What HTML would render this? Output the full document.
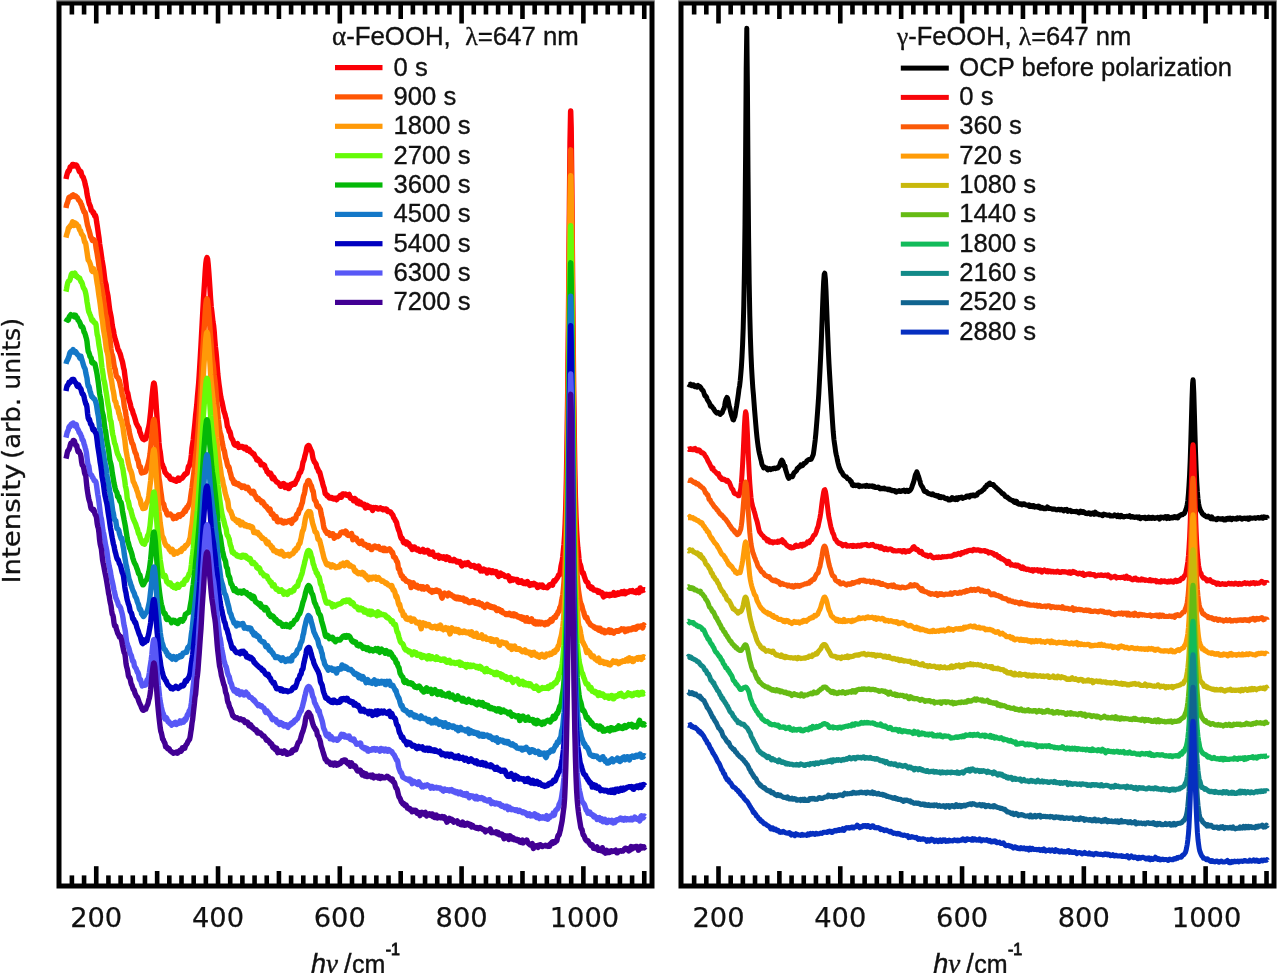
<!DOCTYPE html>
<html lang="en"><head><meta charset="utf-8"><title>Raman spectra of FeOOH</title>
<style>html,body{margin:0;padding:0;background:#fff;overflow:hidden}svg{display:block}</style></head>
<body>
<svg width="1280" height="973" viewBox="0 0 1280 973">
<rect width="1280" height="973" fill="#fff"/>
<g fill="none" stroke-linejoin="round" stroke-linecap="butt" stroke-width="5.4">
<path stroke="#fb0006" d="M66.0,179.0 66.6,176.1 67.2,173.9 67.8,172.0 68.4,170.8 69.0,171.0 69.6,169.4 70.2,166.9 70.8,166.6 71.4,166.4 72.0,165.5 72.6,164.4 73.2,164.5 73.8,165.9 74.4,165.3 75.0,164.9 75.6,165.0 76.2,164.9 76.8,165.6 77.4,167.0 78.0,168.1 78.6,169.3 79.2,171.2 79.8,171.9 80.4,171.1 81.0,171.9 81.6,174.7 82.2,176.4 82.8,176.7 83.4,177.7 84.0,179.7 84.6,181.2 85.2,184.5 85.8,186.8 86.4,189.1 87.0,193.8 87.6,196.9 88.2,199.3 88.8,202.1 89.4,204.3 90.0,205.3 90.6,207.1 91.2,210.4 91.8,210.5 92.4,211.1 93.0,212.9 93.6,212.4 94.2,214.3 94.8,216.1 95.4,215.3 96.0,217.2 96.6,221.8 97.2,225.5 97.8,229.6 98.4,233.8 99.0,237.9 99.6,243.6 100.2,247.5 100.8,251.2 101.4,255.6 102.0,259.7 102.6,263.2 103.2,266.6 103.8,271.2 104.4,276.1 105.0,280.8 105.6,282.9 106.2,285.2 106.8,290.3 107.4,293.1 108.0,296.0 108.6,301.1 109.2,306.1 109.8,310.5 110.4,313.2 111.0,316.3 111.6,320.0 112.2,325.0 112.8,328.3 113.4,330.3 114.0,334.0 114.6,337.0 115.2,339.2 115.8,340.9 116.4,343.0 117.0,345.2 117.6,347.7 118.2,349.9 118.8,350.6 119.4,352.1 120.0,353.4 120.6,355.4 121.2,357.7 121.8,359.7 122.4,361.6 123.0,364.6 123.6,367.9 124.2,370.0 124.8,374.8 125.4,379.5 126.0,383.7 126.6,389.5 127.2,392.2 127.8,393.1 128.4,396.5 129.0,399.7 129.6,401.7 130.2,403.5 130.8,406.3 131.4,408.8 132.0,409.6 132.6,411.1 133.2,413.7 133.8,414.9 134.4,416.8 135.0,418.7 135.6,420.8 136.2,423.2 136.8,424.3 137.4,425.4 138.0,426.8 138.6,427.5 139.2,428.5 139.8,431.9 140.4,433.0 141.0,434.9 141.6,436.6 142.2,437.6 142.8,439.0 143.4,439.2 144.0,439.7 144.6,437.6 145.2,437.7 145.8,438.8 146.4,436.7 147.0,433.9 147.6,431.9 148.2,428.9 148.8,426.7 149.4,423.2 150.0,417.9 150.6,412.3 151.2,405.7 151.8,398.6 152.4,392.7 153.0,387.2 153.6,383.5 154.0,383.0 154.2,383.4 154.8,387.0 155.4,393.8 156.0,402.5 156.6,411.7 157.2,420.3 157.8,427.7 158.4,434.6 159.0,443.0 159.6,448.7 160.2,451.7 160.8,456.6 161.4,461.9 162.0,463.7 162.6,464.9 163.2,467.3 163.8,467.7 164.4,470.0 165.0,472.4 165.6,473.0 166.2,473.5 166.8,474.7 167.4,475.6 168.0,475.9 168.6,476.2 169.2,476.0 169.8,478.2 170.4,479.2 171.0,478.8 171.6,479.5 172.2,479.3 172.8,479.2 173.4,480.1 174.0,480.4 174.6,479.9 175.2,480.1 175.8,481.0 176.4,481.3 177.0,480.6 177.6,479.6 178.2,478.1 178.8,478.9 179.4,480.3 180.0,479.2 180.6,478.5 181.2,478.7 181.8,478.4 182.4,478.0 183.0,476.6 183.6,476.4 184.2,475.1 184.8,474.0 185.4,474.4 186.0,473.5 186.6,473.6 187.2,473.0 187.8,469.8 188.4,466.4 189.0,466.5 189.6,465.2 190.2,461.9 190.8,459.8 191.4,454.5 192.0,447.8 192.6,444.0 193.2,440.1 193.8,434.1 194.4,428.4 195.0,422.2 195.6,415.4 196.2,410.3 196.8,404.6 197.4,396.9 198.0,390.6 198.6,383.8 199.2,375.3 199.8,365.5 200.4,355.1 201.0,344.6 201.6,333.4 202.2,322.5 202.8,311.3 203.4,300.5 204.0,290.7 204.6,281.5 205.2,271.4 205.8,263.7 206.4,259.3 207.0,257.6 207.0,257.6 207.6,259.1 208.2,264.4 208.8,272.0 209.4,280.4 210.0,289.4 210.6,298.8 211.2,306.8 211.8,311.4 212.4,316.8 213.0,322.2 213.6,325.4 214.2,331.4 214.8,340.0 215.4,346.7 216.0,351.8 216.6,358.2 217.2,366.7 217.8,374.1 218.4,379.4 219.0,384.3 219.6,388.5 220.2,393.0 220.8,396.9 221.4,399.8 222.0,401.8 222.6,404.8 223.2,407.7 223.8,410.7 224.4,412.7 225.0,414.2 225.6,417.3 226.2,418.8 226.8,422.3 227.4,426.6 228.0,427.3 228.6,429.0 229.2,431.7 229.8,431.4 230.4,433.3 231.0,436.8 231.6,438.4 232.2,439.2 232.8,440.2 233.4,442.0 234.0,443.9 234.6,444.9 235.2,444.4 235.8,445.5 236.4,445.4 237.0,444.3 237.6,443.7 238.2,445.3 238.8,447.4 239.4,447.2 240.0,447.2 240.6,446.8 241.2,446.6 241.8,446.5 242.4,446.4 243.0,446.8 243.6,448.1 244.2,448.7 244.8,447.8 245.4,447.3 246.0,447.2 246.6,449.1 247.2,450.3 247.8,449.6 248.4,449.5 249.0,449.2 249.6,449.9 250.2,451.9 250.8,452.2 251.4,452.1 252.0,452.8 252.6,453.7 253.2,453.4 253.8,453.8 254.4,455.0 255.0,456.5 255.6,457.2 256.2,457.7 256.8,460.0 257.4,460.1 258.0,459.2 258.6,460.3 259.2,461.3 259.8,461.1 260.4,462.1 261.0,464.8 261.6,464.9 262.2,464.0 262.8,464.1 263.4,465.1 264.0,465.7 264.6,465.4 265.2,467.9 265.8,468.8 266.4,469.4 267.0,471.8 267.6,472.0 268.2,472.1 268.8,474.1 269.4,474.3 270.0,473.3 270.6,473.3 271.2,474.5 271.8,477.2 272.4,478.6 273.0,477.7 273.6,477.1 274.2,478.1 274.8,479.6 275.4,480.4 276.0,481.0 276.6,481.9 277.2,482.1 277.8,482.4 278.4,483.2 279.0,483.6 279.6,484.2 280.2,486.0 280.8,486.3 281.4,485.3 282.0,484.0 282.6,484.5 283.2,484.6 283.8,483.6 284.4,485.7 285.0,487.4 285.6,486.9 286.2,485.3 286.8,485.2 287.4,486.0 288.0,486.7 288.6,488.6 289.2,488.2 289.8,485.9 290.4,484.6 291.0,484.8 291.6,485.1 292.2,484.0 292.8,483.7 293.4,483.2 294.0,483.3 294.6,484.2 295.2,483.5 295.8,481.7 296.4,480.4 297.0,479.8 297.6,478.1 298.2,476.9 298.8,475.1 299.4,473.0 300.0,473.0 300.6,472.2 301.2,470.1 301.8,469.0 302.4,465.6 303.0,462.1 303.6,461.0 304.2,459.2 304.8,456.3 305.4,454.1 306.0,452.0 306.6,448.6 307.2,446.5 307.8,446.1 308.4,445.5 308.5,445.5 309.0,445.6 309.6,447.0 310.2,448.5 310.8,449.8 311.4,450.8 312.0,452.4 312.6,456.4 313.2,459.1 313.8,460.4 314.4,461.9 315.0,462.6 315.6,463.5 316.2,464.5 316.8,467.6 317.4,468.2 318.0,469.4 318.6,471.6 319.2,471.5 319.8,472.6 320.4,475.0 321.0,477.4 321.6,479.7 322.2,481.5 322.8,484.0 323.4,486.2 324.0,487.7 324.6,490.4 325.2,493.7 325.8,494.1 326.4,494.5 327.0,495.7 327.6,495.4 328.2,496.7 328.8,497.3 329.4,498.0 330.0,498.0 330.6,497.5 331.2,498.1 331.8,497.5 332.4,498.2 333.0,498.8 333.6,498.9 334.2,499.1 334.8,498.1 335.4,498.2 336.0,499.1 336.6,499.8 337.2,499.1 337.8,498.2 338.4,497.3 339.0,497.5 339.6,497.5 340.2,495.4 340.8,495.7 341.4,497.3 342.0,495.8 342.6,493.9 343.2,494.2 343.8,493.9 344.4,494.6 345.0,494.8 345.6,494.1 346.2,495.2 346.8,495.3 347.4,495.4 348.0,495.5 348.6,494.7 349.2,494.4 349.8,496.9 350.4,498.3 351.0,497.6 351.6,498.2 352.2,498.5 352.8,499.0 353.4,500.7 354.0,500.4 354.6,498.4 355.2,498.8 355.8,499.4 356.4,501.1 357.0,503.0 357.6,502.2 358.2,501.0 358.8,501.7 359.4,504.0 360.0,502.6 360.6,502.3 361.2,503.9 361.8,504.6 362.4,504.9 363.0,504.3 363.6,504.3 364.2,504.2 364.8,506.5 365.4,508.0 366.0,507.0 366.6,506.1 367.2,505.3 367.8,505.8 368.4,507.2 369.0,507.6 369.6,507.6 370.2,507.0 370.8,507.1 371.4,507.9 372.0,509.0 372.6,510.4 373.2,509.4 373.8,507.6 374.4,507.8 375.0,507.9 375.6,507.5 376.2,508.0 376.8,507.8 377.4,508.3 378.0,509.1 378.6,508.9 379.2,508.9 379.8,508.4 380.4,507.9 381.0,508.4 381.6,508.8 382.2,509.3 382.8,509.8 383.4,508.8 384.0,509.1 384.6,509.3 385.2,509.0 385.8,509.9 386.4,509.1 387.0,509.6 387.6,511.5 388.2,511.6 388.8,511.5 389.4,511.6 390.0,511.6 390.6,512.1 391.2,513.0 391.8,514.0 392.4,514.5 393.0,515.5 393.6,517.6 394.2,518.4 394.8,519.2 395.4,520.9 396.0,521.3 396.6,522.6 397.2,525.6 397.8,527.4 398.4,529.5 399.0,530.8 399.6,532.4 400.2,535.2 400.8,537.4 401.4,538.5 402.0,538.1 402.6,539.1 403.2,541.8 403.8,542.8 404.4,542.8 405.0,541.6 405.6,542.6 406.2,544.1 406.8,542.1 407.4,542.9 408.0,544.1 408.6,543.3 409.2,544.2 409.8,546.4 410.4,546.9 411.0,546.5 411.6,548.3 412.2,549.5 412.8,548.5 413.4,547.5 414.0,546.9 414.6,546.9 415.2,548.3 415.8,549.3 416.4,549.3 417.0,550.0 417.6,549.6 418.2,549.1 418.8,550.3 419.4,551.0 420.0,551.4 420.6,551.5 421.2,550.7 421.8,550.9 422.4,550.6 423.0,549.4 423.6,550.7 424.2,552.0 424.8,552.0 425.4,551.0 426.0,550.7 426.6,551.6 427.2,551.4 427.8,550.4 428.4,551.0 429.0,553.4 429.6,554.0 430.2,553.2 430.8,553.0 431.4,554.2 432.0,552.4 432.6,552.0 433.2,554.5 433.8,555.2 434.4,556.2 435.0,556.7 435.6,555.9 436.2,555.5 436.8,556.1 437.4,555.7 438.0,555.3 438.6,556.5 439.2,558.1 439.8,557.5 440.4,556.3 441.0,556.8 441.6,557.9 442.2,557.9 442.8,558.2 443.4,557.8 444.0,556.8 444.6,557.5 445.2,558.4 445.8,559.4 446.4,558.0 447.0,556.8 447.6,558.3 448.2,558.6 448.8,557.5 449.4,558.9 450.0,560.5 450.6,560.3 451.2,559.8 451.8,560.3 452.4,560.7 453.0,560.9 453.6,560.6 454.2,559.4 454.8,560.4 455.4,560.7 456.0,561.2 456.6,562.0 457.2,561.1 457.8,561.1 458.4,561.7 459.0,562.5 459.6,562.4 460.2,561.7 460.8,563.1 461.4,565.2 462.0,565.9 462.6,564.6 463.2,563.5 463.8,564.7 464.4,564.6 465.0,563.1 465.6,563.4 466.2,564.6 466.8,564.1 467.4,562.8 468.0,562.5 468.6,564.3 469.2,565.0 469.8,564.6 470.4,565.5 471.0,566.2 471.6,566.0 472.2,566.0 472.8,565.8 473.4,565.4 474.0,565.5 474.6,566.7 475.2,567.6 475.8,566.5 476.4,566.4 477.0,567.0 477.6,567.9 478.2,567.1 478.8,566.1 479.4,567.1 480.0,569.8 480.6,570.9 481.2,569.2 481.8,569.2 482.4,570.9 483.0,570.5 483.6,569.0 484.2,570.2 484.8,570.9 485.4,570.8 486.0,570.2 486.6,571.3 487.2,573.0 487.8,572.3 488.4,571.8 489.0,570.1 489.6,570.3 490.2,571.8 490.8,571.8 491.4,572.6 492.0,572.3 492.6,570.8 493.2,571.5 493.8,572.4 494.4,572.1 495.0,572.4 495.6,572.6 496.2,571.6 496.8,572.9 497.4,574.9 498.0,575.0 498.6,576.4 499.2,575.9 499.8,573.4 500.4,573.0 501.0,573.6 501.6,574.1 502.2,575.2 502.8,574.4 503.4,574.7 504.0,575.3 504.6,575.5 505.2,576.6 505.8,576.4 506.4,576.7 507.0,576.7 507.6,576.5 508.2,575.9 508.8,576.5 509.4,579.2 510.0,580.8 510.6,580.6 511.2,579.9 511.8,578.7 512.4,579.4 513.0,580.1 513.6,579.2 514.2,579.2 514.8,579.5 515.4,579.6 516.0,579.7 516.6,579.4 517.2,579.4 517.8,581.9 518.4,582.3 519.0,580.8 519.6,581.4 520.2,582.2 520.8,581.2 521.4,580.8 522.0,582.3 522.6,582.9 523.2,582.5 523.8,583.5 524.4,583.1 525.0,582.3 525.6,582.5 526.2,583.7 526.8,582.8 527.4,581.5 528.0,582.6 528.6,583.7 529.2,584.7 529.8,585.4 530.4,584.1 531.0,583.8 531.6,584.9 532.2,584.1 532.8,584.8 533.4,584.8 534.0,583.2 534.6,583.7 535.2,584.3 535.8,584.2 536.4,585.7 537.0,586.5 537.6,587.5 538.2,587.3 538.8,585.2 539.4,585.0 540.0,585.5 540.6,585.3 541.2,586.3 541.8,586.7 542.4,585.1 543.0,586.1 543.6,587.4 544.2,587.1 544.8,587.3 545.4,587.4 546.0,587.3 546.6,587.6 547.2,587.8 547.8,587.0 548.4,586.8 549.0,585.3 549.6,584.7 550.2,585.2 550.8,585.1 551.4,584.0 552.0,584.5 552.6,585.1 553.2,582.6 553.8,580.7 554.4,580.8 555.0,581.2 555.6,580.1 556.2,579.4 556.8,578.5 557.4,577.8 558.0,576.6 558.6,574.8 559.2,574.5 559.8,574.5 560.4,571.0 561.0,566.4 561.6,563.6 562.2,561.0 562.8,556.5 563.4,550.3 564.0,544.3 564.6,535.7 565.2,523.3 565.8,505.7 566.4,479.0 567.0,443.6 567.6,400.2 568.2,345.2 568.8,278.6 569.4,205.7 570.0,142.7 570.6,111.6 570.7,110.9 571.2,127.9 571.8,182.8 572.4,254.2 573.0,323.7 573.6,382.3 574.2,430.0 574.8,468.6 575.4,496.7 576.0,516.3 576.6,530.1 577.2,540.2 577.8,547.6 578.4,552.5 579.0,559.1 579.6,563.4 580.2,564.4 580.8,566.4 581.4,569.3 582.0,572.2 582.6,573.3 583.2,572.8 583.8,574.4 584.4,576.9 585.0,578.3 585.6,580.4 586.2,581.6 586.8,582.2 587.4,582.2 588.0,583.1 588.6,586.2 589.2,586.9 589.8,586.4 590.4,586.7 591.0,588.4 591.6,588.2 592.2,587.4 592.8,588.9 593.4,589.9 594.0,589.7 594.6,589.7 595.2,590.2 595.8,590.4 596.4,590.8 597.0,590.3 597.6,590.6 598.2,592.3 598.8,591.9 599.4,591.4 600.0,592.8 600.6,592.5 601.2,592.4 601.8,592.6 602.4,593.4 603.0,596.0 603.6,596.8 604.2,595.2 604.8,594.4 605.4,594.8 606.0,594.4 606.6,595.5 607.2,594.6 607.8,594.4 608.4,595.3 609.0,595.6 609.6,595.8 610.2,594.3 610.8,594.4 611.4,595.3 612.0,595.1 612.6,594.9 613.2,594.4 613.8,592.5 614.4,593.4 615.0,595.3 615.6,594.7 616.2,594.2 616.8,594.7 617.4,594.2 618.0,592.8 618.6,592.9 619.2,594.1 619.8,593.1 620.4,593.0 621.0,593.4 621.6,591.7 622.2,592.9 622.8,593.5 623.4,591.6 624.0,591.3 624.6,592.8 625.2,593.7 625.8,592.7 626.4,592.1 627.0,592.8 627.6,591.9 628.2,591.6 628.8,591.9 629.4,591.2 630.0,590.8 630.6,591.1 631.2,591.4 631.8,590.9 632.4,590.5 633.0,591.5 633.6,591.9 634.2,591.6 634.8,592.2 635.4,591.9 636.0,592.6 636.6,591.5 637.2,590.4 637.8,590.6 638.4,591.3 639.0,592.6 639.6,589.8 640.2,587.9 640.8,589.6 641.4,590.7 642.0,590.7 642.6,590.0 643.2,589.7 643.8,590.1 644.4,589.7 645.0,589.8"/>
<path stroke="#ff5604" d="M66.0,208.0 66.6,204.7 67.2,203.3 67.8,201.6 68.4,199.2 69.0,197.4 69.6,197.0 70.2,197.4 70.8,197.2 71.4,196.0 72.0,195.5 72.6,195.4 73.2,194.8 73.8,195.4 74.4,196.6 75.0,196.4 75.6,196.0 76.2,196.6 76.8,197.3 77.4,197.5 78.0,198.9 78.6,200.1 79.2,200.5 79.8,201.2 80.4,202.1 81.0,204.0 81.6,204.6 82.2,206.9 82.8,208.7 83.4,210.0 84.0,211.9 84.6,211.9 85.2,212.9 85.8,215.9 86.4,219.2 87.0,222.5 87.6,225.7 88.2,227.4 88.8,229.8 89.4,231.6 90.0,233.9 90.6,236.7 91.2,237.4 91.8,239.0 92.4,240.6 93.0,240.4 93.6,239.5 94.2,240.4 94.8,241.0 95.4,242.5 96.0,247.5 96.6,250.8 97.2,254.0 97.8,258.0 98.4,261.8 99.0,266.7 99.6,271.2 100.2,276.6 100.8,282.6 101.4,286.6 102.0,289.6 102.6,292.9 103.2,297.2 103.8,301.7 104.4,305.7 105.0,309.7 105.6,314.1 106.2,316.5 106.8,318.8 107.4,324.5 108.0,328.2 108.6,330.9 109.2,334.9 109.8,338.4 110.4,342.5 111.0,349.1 111.6,353.6 112.2,354.8 112.8,356.9 113.4,360.7 114.0,365.2 114.6,367.9 115.2,369.3 115.8,372.9 116.4,376.1 117.0,377.0 117.6,377.3 118.2,378.0 118.8,379.8 119.4,380.9 120.0,383.5 120.6,386.5 121.2,388.3 121.8,392.4 122.4,395.8 123.0,396.9 123.6,400.3 124.2,405.8 124.8,408.6 125.4,411.1 126.0,415.4 126.6,418.6 127.2,423.1 127.8,425.6 128.4,426.4 129.0,430.4 129.6,433.4 130.2,436.0 130.8,438.6 131.4,440.4 132.0,443.1 132.6,443.7 133.2,444.9 133.8,447.7 134.4,449.7 135.0,452.1 135.6,453.1 136.2,454.2 136.8,457.1 137.4,459.5 138.0,460.2 138.6,463.0 139.2,466.9 139.8,466.3 140.4,466.7 141.0,471.2 141.6,473.0 142.2,472.5 142.8,472.6 143.4,472.4 144.0,472.3 144.6,472.0 145.2,472.0 145.8,471.3 146.4,469.3 147.0,467.3 147.6,465.7 148.2,463.6 148.8,460.6 149.4,458.3 150.0,454.2 150.6,448.7 151.2,442.6 151.8,435.6 152.4,428.7 153.0,423.0 153.6,419.9 154.0,419.5 154.2,420.0 154.8,424.1 155.4,430.4 156.0,438.5 156.6,447.5 157.2,456.5 157.8,464.5 158.4,472.3 159.0,478.6 159.6,481.9 160.2,486.9 160.8,491.3 161.4,495.3 162.0,500.4 162.6,503.3 163.2,503.5 163.8,504.1 164.4,507.6 165.0,509.7 165.6,509.6 166.2,511.1 166.8,513.7 167.4,514.8 168.0,513.9 168.6,514.0 169.2,514.9 169.8,514.8 170.4,514.2 171.0,515.1 171.6,515.5 172.2,515.8 172.8,516.8 173.4,518.7 174.0,518.2 174.6,516.6 175.2,517.1 175.8,517.4 176.4,518.2 177.0,517.4 177.6,516.0 178.2,515.0 178.8,514.7 179.4,515.9 180.0,516.3 180.6,514.9 181.2,514.2 181.8,514.5 182.4,514.6 183.0,513.7 183.6,512.6 184.2,511.1 184.8,509.8 185.4,511.4 186.0,509.9 186.6,507.6 187.2,508.3 187.8,507.3 188.4,505.4 189.0,504.4 189.6,503.2 190.2,500.5 190.8,495.8 191.4,491.7 192.0,487.8 192.6,482.5 193.2,477.9 193.8,473.1 194.4,467.9 195.0,461.4 195.6,455.7 196.2,451.4 196.8,445.5 197.4,439.0 198.0,431.0 198.6,422.1 199.2,414.4 199.8,404.6 200.4,394.6 201.0,384.9 201.6,373.5 202.2,361.2 202.8,349.8 203.4,340.3 204.0,331.1 204.6,321.8 205.2,312.3 205.8,304.7 206.4,300.1 207.0,298.7 207.0,298.7 207.6,300.5 208.2,306.1 208.8,313.4 209.4,320.3 210.0,328.7 210.6,337.1 211.2,344.5 211.8,352.9 212.4,359.6 213.0,362.9 213.6,368.0 214.2,374.8 214.8,379.5 215.4,384.4 216.0,391.2 216.6,398.8 217.2,406.5 217.8,413.7 218.4,420.1 219.0,425.1 219.6,429.4 220.2,432.9 220.8,434.5 221.4,437.2 222.0,441.5 222.6,444.2 223.2,447.3 223.8,449.8 224.4,451.0 225.0,454.6 225.6,458.0 226.2,459.4 226.8,461.9 227.4,464.8 228.0,466.6 228.6,466.4 229.2,467.8 229.8,471.2 230.4,473.0 231.0,475.2 231.6,478.4 232.2,479.4 232.8,479.1 233.4,482.0 234.0,483.3 234.6,481.7 235.2,482.5 235.8,484.0 236.4,483.6 237.0,484.1 237.6,484.5 238.2,483.5 238.8,484.2 239.4,485.6 240.0,485.2 240.6,485.1 241.2,485.6 241.8,487.5 242.4,487.2 243.0,486.4 243.6,487.0 244.2,486.1 244.8,486.8 245.4,487.8 246.0,488.5 246.6,488.4 247.2,487.5 247.8,487.3 248.4,488.5 249.0,489.8 249.6,490.9 250.2,491.3 250.8,491.7 251.4,493.0 252.0,493.0 252.6,491.5 253.2,491.2 253.8,491.8 254.4,494.4 255.0,495.5 255.6,495.8 256.2,497.5 256.8,498.5 257.4,499.4 258.0,498.8 258.6,498.5 259.2,499.3 259.8,500.1 260.4,500.3 261.0,500.7 261.6,502.7 262.2,502.1 262.8,501.8 263.4,503.0 264.0,503.6 264.6,505.5 265.2,506.0 265.8,506.6 266.4,506.3 267.0,507.2 267.6,508.6 268.2,509.0 268.8,510.3 269.4,508.8 270.0,508.9 270.6,511.5 271.2,513.9 271.8,514.6 272.4,514.4 273.0,513.9 273.6,515.4 274.2,518.3 274.8,517.9 275.4,517.1 276.0,516.5 276.6,517.8 277.2,521.4 277.8,521.8 278.4,521.2 279.0,521.5 279.6,520.3 280.2,521.2 280.8,521.3 281.4,520.4 282.0,521.7 282.6,522.7 283.2,523.1 283.8,522.9 284.4,522.3 285.0,521.3 285.6,522.0 286.2,522.5 286.8,521.6 287.4,521.3 288.0,521.8 288.6,521.3 289.2,520.6 289.8,520.5 290.4,521.3 291.0,522.4 291.6,523.3 292.2,521.5 292.8,519.2 293.4,520.3 294.0,520.1 294.6,518.5 295.2,519.2 295.8,518.4 296.4,515.5 297.0,513.9 297.6,513.9 298.2,513.9 298.8,511.5 299.4,509.2 300.0,509.0 300.6,508.5 301.2,505.9 301.8,503.9 302.4,502.6 303.0,498.6 303.6,495.6 304.2,494.4 304.8,491.5 305.4,487.3 306.0,485.0 306.6,484.4 307.2,483.2 307.8,481.0 308.4,480.5 308.5,480.5 309.0,480.7 309.6,482.1 310.2,483.8 310.8,485.1 311.4,485.9 312.0,488.4 312.6,490.9 313.2,491.0 313.8,495.4 314.4,499.4 315.0,500.5 315.6,501.1 316.2,502.3 316.8,505.4 317.4,506.7 318.0,506.8 318.6,506.1 319.2,507.4 319.8,508.4 320.4,509.3 321.0,513.1 321.6,515.9 322.2,518.1 322.8,521.1 323.4,524.9 324.0,528.2 324.6,528.8 325.2,530.5 325.8,531.5 326.4,531.5 327.0,533.3 327.6,533.0 328.2,532.4 328.8,532.7 329.4,533.2 330.0,535.5 330.6,535.2 331.2,534.4 331.8,534.5 332.4,533.7 333.0,533.7 333.6,535.6 334.2,538.3 334.8,537.8 335.4,535.7 336.0,536.0 336.6,536.3 337.2,536.3 337.8,536.6 338.4,536.0 339.0,535.9 339.6,534.9 340.2,533.8 340.8,532.6 341.4,532.2 342.0,532.0 342.6,531.9 343.2,531.9 343.8,531.9 344.4,532.8 345.0,531.7 345.6,531.0 346.2,531.5 346.8,532.8 347.4,534.9 348.0,535.3 348.6,534.2 349.2,534.9 349.8,534.5 350.4,535.0 351.0,536.0 351.6,533.5 352.2,536.3 352.8,539.8 353.4,537.7 354.0,537.2 354.6,538.3 355.2,538.7 355.8,538.3 356.4,538.2 357.0,540.0 357.6,541.1 358.2,542.0 358.8,542.3 359.4,543.4 360.0,543.2 360.6,542.1 361.2,541.7 361.8,541.0 362.4,543.6 363.0,544.2 363.6,544.0 364.2,545.0 364.8,544.2 365.4,544.3 366.0,545.0 366.6,545.2 367.2,546.3 367.8,547.3 368.4,546.5 369.0,545.6 369.6,546.3 370.2,546.9 370.8,547.6 371.4,549.6 372.0,549.5 372.6,547.7 373.2,547.0 373.8,546.5 374.4,546.1 375.0,546.0 375.6,546.4 376.2,546.8 376.8,547.7 377.4,547.7 378.0,547.1 378.6,546.6 379.2,547.9 379.8,549.2 380.4,549.4 381.0,549.6 381.6,549.5 382.2,548.9 382.8,548.4 383.4,550.6 384.0,549.4 384.6,548.4 385.2,550.6 385.8,550.2 386.4,549.7 387.0,550.5 387.6,549.7 388.2,549.3 388.8,549.4 389.4,548.9 390.0,549.4 390.6,550.2 391.2,551.3 391.8,552.4 392.4,552.1 393.0,554.1 393.6,557.0 394.2,557.2 394.8,557.2 395.4,557.8 396.0,559.7 396.6,561.4 397.2,561.4 397.8,563.5 398.4,568.7 399.0,568.9 399.6,569.5 400.2,573.0 400.8,573.8 401.4,575.9 402.0,576.2 402.6,576.1 403.2,578.7 403.8,579.1 404.4,578.4 405.0,579.2 405.6,579.7 406.2,581.2 406.8,581.4 407.4,581.3 408.0,581.4 408.6,581.7 409.2,582.8 409.8,582.1 410.4,584.3 411.0,587.6 411.6,585.7 412.2,586.0 412.8,584.5 413.4,582.9 414.0,585.0 414.6,586.1 415.2,586.4 415.8,586.8 416.4,585.3 417.0,585.2 417.6,586.9 418.2,587.9 418.8,587.2 419.4,586.8 420.0,586.9 420.6,586.6 421.2,588.3 421.8,588.9 422.4,586.8 423.0,586.7 423.6,588.2 424.2,589.1 424.8,588.7 425.4,587.9 426.0,588.2 426.6,587.6 427.2,586.8 427.8,588.8 428.4,589.5 429.0,589.4 429.6,590.7 430.2,591.1 430.8,590.4 431.4,591.6 432.0,592.3 432.6,590.6 433.2,590.9 433.8,591.6 434.4,590.6 435.0,590.5 435.6,591.2 436.2,589.9 436.8,590.1 437.4,591.5 438.0,591.5 438.6,590.7 439.2,591.0 439.8,592.3 440.4,592.8 441.0,594.5 441.6,597.3 442.2,598.1 442.8,595.5 443.4,595.2 444.0,594.3 444.6,593.2 445.2,594.6 445.8,594.9 446.4,594.1 447.0,594.7 447.6,595.8 448.2,594.2 448.8,593.1 449.4,594.1 450.0,594.1 450.6,594.4 451.2,594.7 451.8,595.7 452.4,595.9 453.0,595.9 453.6,597.0 454.2,596.6 454.8,596.6 455.4,598.4 456.0,598.7 456.6,597.3 457.2,597.2 457.8,597.1 458.4,597.5 459.0,599.0 459.6,598.4 460.2,597.8 460.8,599.3 461.4,599.3 462.0,598.8 462.6,598.6 463.2,598.1 463.8,598.6 464.4,600.9 465.0,601.1 465.6,599.4 466.2,599.5 466.8,599.9 467.4,600.9 468.0,601.3 468.6,602.5 469.2,602.7 469.8,602.4 470.4,602.6 471.0,602.2 471.6,601.2 472.2,600.9 472.8,602.0 473.4,602.1 474.0,600.8 474.6,601.8 475.2,603.2 475.8,602.4 476.4,602.7 477.0,603.0 477.6,603.7 478.2,603.1 478.8,602.4 479.4,603.6 480.0,604.6 480.6,604.3 481.2,604.0 481.8,603.8 482.4,604.4 483.0,606.0 483.6,605.5 484.2,605.9 484.8,607.4 485.4,606.2 486.0,606.4 486.6,605.8 487.2,604.3 487.8,604.6 488.4,605.7 489.0,606.6 489.6,606.7 490.2,607.2 490.8,606.2 491.4,606.7 492.0,607.4 492.6,606.8 493.2,607.7 493.8,607.6 494.4,607.1 495.0,607.4 495.6,608.6 496.2,609.9 496.8,610.5 497.4,609.6 498.0,608.9 498.6,609.1 499.2,610.2 499.8,609.6 500.4,610.4 501.0,611.7 501.6,610.5 502.2,611.3 502.8,612.7 503.4,612.9 504.0,613.2 504.6,613.2 505.2,613.6 505.8,614.5 506.4,613.8 507.0,614.2 507.6,614.5 508.2,613.8 508.8,613.3 509.4,613.2 510.0,614.6 510.6,614.1 511.2,614.2 511.8,615.6 512.4,615.5 513.0,613.9 513.6,613.8 514.2,616.0 514.8,615.8 515.4,615.6 516.0,614.6 516.6,615.2 517.2,616.6 517.8,617.0 518.4,616.3 519.0,616.4 519.6,617.7 520.2,618.0 520.8,617.7 521.4,616.8 522.0,619.2 522.6,619.3 523.2,617.4 523.8,617.9 524.4,617.9 525.0,619.1 525.6,621.1 526.2,620.0 526.8,617.7 527.4,619.2 528.0,621.4 528.6,621.3 529.2,621.5 529.8,620.5 530.4,619.8 531.0,619.6 531.6,618.9 532.2,620.8 532.8,621.5 533.4,622.6 534.0,623.3 534.6,621.4 535.2,622.1 535.8,624.0 536.4,623.9 537.0,621.9 537.6,622.0 538.2,624.0 538.8,623.5 539.4,622.1 540.0,623.3 540.6,624.0 541.2,622.6 541.8,622.3 542.4,622.6 543.0,623.1 543.6,623.7 544.2,624.3 544.8,624.7 545.4,622.8 546.0,622.5 546.6,624.1 547.2,624.1 547.8,624.0 548.4,623.1 549.0,621.5 549.6,622.3 550.2,621.9 550.8,619.5 551.4,620.5 552.0,621.1 552.6,619.7 553.2,618.7 553.8,617.5 554.4,617.0 555.0,617.0 555.6,617.3 556.2,615.1 556.8,614.4 557.4,614.2 558.0,611.8 558.6,611.8 559.2,610.9 559.8,607.6 560.4,606.8 561.0,604.8 561.6,600.8 562.2,598.1 562.8,594.6 563.4,588.9 564.0,581.7 564.6,572.2 565.2,559.4 565.8,541.5 566.4,515.8 567.0,484.0 567.6,440.2 568.2,383.4 568.8,317.9 569.4,245.9 570.0,181.8 570.6,150.5 570.7,149.8 571.2,166.6 571.8,222.4 572.4,292.9 573.0,360.9 573.6,420.7 574.2,468.9 574.8,504.8 575.4,532.5 576.0,551.5 576.6,565.0 577.2,576.3 577.8,583.9 578.4,590.0 579.0,593.8 579.6,597.7 580.2,601.4 580.8,603.2 581.4,604.6 582.0,606.3 582.6,609.2 583.2,610.9 583.8,612.1 584.4,614.8 585.0,616.6 585.6,618.1 586.2,618.2 586.8,617.4 587.4,619.3 588.0,621.1 588.6,622.1 589.2,622.7 589.8,623.5 590.4,624.7 591.0,625.1 591.6,625.4 592.2,625.8 592.8,626.1 593.4,626.4 594.0,627.3 594.6,627.1 595.2,628.0 595.8,628.6 596.4,628.4 597.0,628.8 597.6,628.2 598.2,630.0 598.8,630.2 599.4,628.2 600.0,628.1 600.6,629.0 601.2,631.3 601.8,631.8 602.4,631.2 603.0,630.5 603.6,630.3 604.2,631.6 604.8,632.8 605.4,632.0 606.0,631.2 606.6,632.0 607.2,631.0 607.8,630.8 608.4,631.4 609.0,629.8 609.6,630.4 610.2,632.5 610.8,631.7 611.4,630.4 612.0,631.7 612.6,632.7 613.2,632.4 613.8,633.1 614.4,631.9 615.0,631.4 615.6,631.5 616.2,630.8 616.8,630.8 617.4,630.7 618.0,631.4 618.6,631.4 619.2,630.4 619.8,630.0 620.4,630.2 621.0,629.7 621.6,628.9 622.2,629.4 622.8,629.2 623.4,629.1 624.0,628.9 624.6,630.3 625.2,631.6 625.8,630.4 626.4,629.4 627.0,630.5 627.6,630.7 628.2,629.0 628.8,628.9 629.4,629.0 630.0,629.7 630.6,629.4 631.2,629.8 631.8,629.1 632.4,628.0 633.0,627.8 633.6,628.5 634.2,628.9 634.8,627.5 635.4,628.3 636.0,629.1 636.6,627.6 637.2,626.4 637.8,626.1 638.4,626.3 639.0,627.1 639.6,626.7 640.2,626.2 640.8,626.1 641.4,625.9 642.0,626.5 642.6,628.0 643.2,626.2 643.8,624.9 644.4,625.9 645.0,626.2"/>
<path stroke="#ff9a08" d="M66.0,237.6 66.6,234.8 67.2,233.0 67.8,231.1 68.4,228.1 69.0,227.3 69.6,227.4 70.2,225.8 70.8,225.2 71.4,225.3 72.0,223.3 72.6,221.7 73.2,223.7 73.8,225.5 74.4,224.2 75.0,222.9 75.6,223.4 76.2,224.4 76.8,224.3 77.4,225.3 78.0,226.3 78.6,226.3 79.2,228.7 79.8,230.1 80.4,230.4 81.0,232.4 81.6,234.1 82.2,234.7 82.8,235.5 83.4,236.6 84.0,239.3 84.6,242.1 85.2,242.0 85.8,243.8 86.4,248.2 87.0,252.0 87.6,256.3 88.2,260.0 88.8,260.7 89.4,261.8 90.0,263.2 90.6,265.2 91.2,267.7 91.8,270.7 92.4,271.5 93.0,268.8 93.6,268.8 94.2,271.0 94.8,271.4 95.4,272.1 96.0,275.3 96.6,279.5 97.2,283.5 97.8,286.8 98.4,291.6 99.0,296.1 99.6,299.9 100.2,304.2 100.8,308.8 101.4,314.5 102.0,318.2 102.6,321.8 103.2,327.5 103.8,331.3 104.4,334.9 105.0,338.2 105.6,342.8 106.2,348.2 106.8,351.2 107.4,353.0 108.0,355.9 108.6,361.8 109.2,367.6 109.8,371.2 110.4,374.8 111.0,378.1 111.6,380.9 112.2,385.1 112.8,389.1 113.4,391.5 114.0,395.1 114.6,400.1 115.2,401.4 115.8,401.9 116.4,405.1 117.0,407.5 117.6,407.3 118.2,410.0 118.8,413.4 119.4,414.1 120.0,417.2 120.6,419.5 121.2,419.6 121.8,422.1 122.4,424.8 123.0,427.6 123.6,432.3 124.2,436.4 124.8,439.8 125.4,445.4 126.0,450.3 126.6,453.5 127.2,456.8 127.8,459.7 128.4,463.1 129.0,465.3 129.6,468.1 130.2,469.9 130.8,470.7 131.4,472.6 132.0,474.7 132.6,478.1 133.2,481.4 133.8,482.5 134.4,483.4 135.0,485.5 135.6,486.8 136.2,488.0 136.8,490.3 137.4,491.7 138.0,493.5 138.6,496.4 139.2,497.8 139.8,498.9 140.4,500.3 141.0,504.0 141.6,505.5 142.2,506.4 142.8,508.6 143.4,507.5 144.0,506.2 144.6,506.7 145.2,508.1 145.8,505.8 146.4,503.2 147.0,502.9 147.6,501.3 148.2,499.4 148.8,495.7 149.4,490.8 150.0,485.7 150.6,481.0 151.2,474.8 151.8,465.2 152.4,458.6 153.0,453.4 153.6,450.1 154.0,449.5 154.2,450.0 154.8,454.1 155.4,462.1 156.0,471.1 156.6,480.4 157.2,490.0 157.8,497.6 158.4,504.8 159.0,511.7 159.6,516.9 160.2,522.7 160.8,526.8 161.4,530.5 162.0,535.3 162.6,536.9 163.2,537.6 163.8,539.2 164.4,541.5 165.0,543.4 165.6,544.5 166.2,545.7 166.8,546.1 167.4,546.4 168.0,546.5 168.6,547.6 169.2,549.5 169.8,549.2 170.4,550.5 171.0,551.7 171.6,549.3 172.2,549.2 172.8,550.4 173.4,551.4 174.0,554.3 174.6,553.3 175.2,551.7 175.8,551.9 176.4,552.0 177.0,552.6 177.6,553.1 178.2,551.8 178.8,551.8 179.4,551.6 180.0,550.4 180.6,551.5 181.2,551.5 181.8,549.6 182.4,548.2 183.0,548.0 183.6,547.9 184.2,548.4 184.8,546.9 185.4,545.6 186.0,546.2 186.6,545.4 187.2,544.3 187.8,544.0 188.4,542.9 189.0,541.2 189.6,539.5 190.2,537.5 190.8,532.4 191.4,528.0 192.0,524.5 192.6,518.4 193.2,512.6 193.8,505.9 194.4,500.6 195.0,495.7 195.6,490.6 196.2,484.5 196.8,479.2 197.4,473.7 198.0,465.4 198.6,456.9 199.2,448.1 199.8,438.7 200.4,429.2 201.0,419.6 201.6,408.7 202.2,396.2 202.8,384.9 203.4,374.4 204.0,364.2 204.6,355.8 205.2,346.8 205.8,338.5 206.4,333.5 207.0,332.2 207.0,332.2 207.6,333.8 208.2,339.0 208.8,346.1 209.4,355.0 210.0,364.1 210.6,374.2 211.2,381.5 211.8,387.3 212.4,393.1 213.0,399.2 213.6,404.1 214.2,407.8 214.8,413.1 215.4,419.3 216.0,427.4 216.6,437.2 217.2,443.2 217.8,448.8 218.4,455.7 219.0,459.4 219.6,463.3 220.2,467.8 220.8,471.1 221.4,476.0 222.0,478.2 222.6,480.0 223.2,484.3 223.8,486.2 224.4,488.5 225.0,491.9 225.6,494.2 226.2,496.2 226.8,498.9 227.4,499.6 228.0,502.4 228.6,507.6 229.2,509.4 229.8,510.6 230.4,510.9 231.0,511.9 231.6,514.0 232.2,515.2 232.8,517.8 233.4,518.8 234.0,518.9 234.6,518.8 235.2,519.1 235.8,520.8 236.4,520.7 237.0,520.4 237.6,522.5 238.2,522.4 238.8,520.5 239.4,521.0 240.0,522.8 240.6,525.0 241.2,524.6 241.8,522.7 242.4,522.4 243.0,523.7 243.6,523.5 244.2,524.0 244.8,525.8 245.4,525.0 246.0,524.8 246.6,525.5 247.2,526.5 247.8,525.6 248.4,525.8 249.0,526.7 249.6,525.8 250.2,526.6 250.8,527.5 251.4,527.2 252.0,526.8 252.6,527.3 253.2,530.0 253.8,532.6 254.4,532.6 255.0,532.7 255.6,532.4 256.2,532.1 256.8,533.2 257.4,533.1 258.0,532.7 258.6,534.1 259.2,535.1 259.8,534.8 260.4,535.7 261.0,536.8 261.6,537.7 262.2,538.3 262.8,537.9 263.4,538.6 264.0,539.2 264.6,539.2 265.2,539.6 265.8,541.2 266.4,542.6 267.0,543.6 267.6,542.6 268.2,542.0 268.8,543.6 269.4,544.6 270.0,545.2 270.6,545.4 271.2,546.9 271.8,548.0 272.4,547.2 273.0,548.6 273.6,550.7 274.2,549.9 274.8,550.4 275.4,550.8 276.0,551.5 276.6,552.3 277.2,551.4 277.8,551.7 278.4,552.1 279.0,552.8 279.6,553.8 280.2,554.0 280.8,553.7 281.4,551.3 282.0,551.9 282.6,553.3 283.2,553.6 283.8,555.9 284.4,556.1 285.0,555.2 285.6,555.0 286.2,555.2 286.8,555.0 287.4,554.7 288.0,554.4 288.6,555.5 289.2,556.0 289.8,555.6 290.4,555.1 291.0,554.2 291.6,553.8 292.2,553.6 292.8,553.8 293.4,553.1 294.0,551.5 294.6,550.1 295.2,550.9 295.8,550.5 296.4,548.2 297.0,548.5 297.6,548.4 298.2,546.6 298.8,544.2 299.4,544.1 300.0,543.1 300.6,540.1 301.2,537.9 301.8,534.5 302.4,531.5 303.0,530.4 303.6,528.9 304.2,525.8 304.8,522.1 305.4,518.6 306.0,516.6 306.6,514.4 307.2,513.2 307.8,512.5 308.4,511.6 308.5,511.5 309.0,511.7 309.6,512.0 310.2,511.8 310.8,513.3 311.4,517.2 312.0,520.4 312.6,523.2 313.2,525.1 313.8,527.0 314.4,529.0 315.0,531.6 315.6,532.1 316.2,532.3 316.8,533.5 317.4,536.2 318.0,539.3 318.6,539.8 319.2,539.5 319.8,540.9 320.4,543.5 321.0,545.7 321.6,548.0 322.2,550.7 322.8,553.0 323.4,555.6 324.0,558.2 324.6,559.5 325.2,561.0 325.8,562.4 326.4,564.1 327.0,564.8 327.6,564.7 328.2,565.0 328.8,564.0 329.4,565.2 330.0,565.7 330.6,565.8 331.2,567.0 331.8,565.6 332.4,564.8 333.0,565.8 333.6,566.0 334.2,565.7 334.8,566.9 335.4,567.7 336.0,567.6 336.6,567.5 337.2,567.3 337.8,566.9 338.4,566.4 339.0,567.0 339.6,566.7 340.2,565.5 340.8,564.3 341.4,564.3 342.0,564.9 342.6,564.3 343.2,563.2 343.8,563.6 344.4,565.7 345.0,565.1 345.6,563.7 346.2,564.3 346.8,562.5 347.4,562.6 348.0,564.1 348.6,565.3 349.2,566.0 349.8,564.8 350.4,565.3 351.0,566.3 351.6,566.5 352.2,566.8 352.8,566.7 353.4,567.1 354.0,569.0 354.6,571.1 355.2,571.5 355.8,570.7 356.4,571.5 357.0,572.5 357.6,573.2 358.2,573.7 358.8,572.8 359.4,572.6 360.0,573.1 360.6,573.5 361.2,573.9 361.8,573.5 362.4,572.3 363.0,572.7 363.6,573.1 364.2,574.0 364.8,575.8 365.4,574.9 366.0,575.6 366.6,577.7 367.2,577.5 367.8,578.3 368.4,579.7 369.0,577.9 369.6,577.4 370.2,578.7 370.8,578.4 371.4,578.9 372.0,578.2 372.6,577.2 373.2,577.3 373.8,577.3 374.4,577.9 375.0,577.5 375.6,577.0 376.2,578.5 376.8,579.4 377.4,579.4 378.0,578.2 378.6,577.6 379.2,578.7 379.8,579.5 380.4,579.6 381.0,580.5 381.6,581.1 382.2,580.7 382.8,580.9 383.4,581.7 384.0,581.6 384.6,582.2 385.2,583.1 385.8,582.7 386.4,582.8 387.0,583.4 387.6,584.4 388.2,585.1 388.8,585.0 389.4,585.4 390.0,585.7 390.6,586.5 391.2,587.1 391.8,585.6 392.4,587.5 393.0,590.1 393.6,589.5 394.2,590.5 394.8,591.9 395.4,594.8 396.0,597.0 396.6,595.9 397.2,597.7 397.8,600.4 398.4,603.4 399.0,605.0 399.6,604.2 400.2,606.9 400.8,609.9 401.4,611.0 402.0,610.7 402.6,612.1 403.2,615.5 403.8,614.6 404.4,614.8 405.0,616.4 405.6,617.7 406.2,618.9 406.8,617.6 407.4,618.5 408.0,619.4 408.6,618.6 409.2,619.0 409.8,619.4 410.4,618.0 411.0,620.0 411.6,621.3 412.2,619.7 412.8,620.5 413.4,620.1 414.0,619.1 414.6,620.1 415.2,620.9 415.8,621.5 416.4,622.8 417.0,622.6 417.6,622.4 418.2,623.3 418.8,622.4 419.4,622.3 420.0,624.4 420.6,627.1 421.2,628.8 421.8,626.3 422.4,623.4 423.0,622.9 423.6,623.5 424.2,624.0 424.8,624.6 425.4,623.6 426.0,624.5 426.6,625.7 427.2,624.7 427.8,625.2 428.4,625.5 429.0,624.6 429.6,625.4 430.2,626.3 430.8,627.1 431.4,627.3 432.0,627.7 432.6,627.8 433.2,626.7 433.8,626.9 434.4,627.1 435.0,626.4 435.6,627.2 436.2,627.3 436.8,628.5 437.4,628.6 438.0,626.2 438.6,627.0 439.2,627.7 439.8,626.7 440.4,625.0 441.0,626.1 441.6,628.9 442.2,628.8 442.8,629.1 443.4,629.8 444.0,629.2 444.6,628.8 445.2,628.5 445.8,627.7 446.4,629.0 447.0,629.7 447.6,628.1 448.2,628.2 448.8,630.4 449.4,631.6 450.0,634.0 450.6,632.5 451.2,629.4 451.8,627.7 452.4,630.2 453.0,630.0 453.6,629.1 454.2,630.7 454.8,631.1 455.4,629.9 456.0,629.3 456.6,630.4 457.2,631.3 457.8,630.9 458.4,629.6 459.0,630.9 459.6,632.6 460.2,632.3 460.8,631.2 461.4,631.4 462.0,632.0 462.6,632.4 463.2,631.6 463.8,631.2 464.4,632.1 465.0,631.4 465.6,631.8 466.2,632.7 466.8,632.4 467.4,632.8 468.0,632.2 468.6,632.0 469.2,633.4 469.8,633.8 470.4,634.4 471.0,633.5 471.6,631.8 472.2,633.0 472.8,634.5 473.4,636.0 474.0,636.2 474.6,634.3 475.2,634.5 475.8,634.7 476.4,633.3 477.0,635.8 477.6,637.3 478.2,636.1 478.8,636.4 479.4,637.3 480.0,637.3 480.6,637.1 481.2,636.3 481.8,634.7 482.4,636.6 483.0,638.7 483.6,638.3 484.2,637.6 484.8,637.5 485.4,637.1 486.0,638.2 486.6,639.3 487.2,638.8 487.8,638.8 488.4,639.4 489.0,639.7 489.6,639.7 490.2,638.7 490.8,638.7 491.4,641.3 492.0,640.8 492.6,639.4 493.2,640.6 493.8,641.5 494.4,641.6 495.0,640.0 495.6,640.1 496.2,640.6 496.8,639.9 497.4,641.3 498.0,641.9 498.6,642.3 499.2,645.0 499.8,645.2 500.4,643.7 501.0,642.8 501.6,642.0 502.2,642.1 502.8,642.4 503.4,642.6 504.0,642.8 504.6,643.6 505.2,643.6 505.8,643.0 506.4,643.0 507.0,644.5 507.6,645.7 508.2,646.4 508.8,647.3 509.4,646.6 510.0,646.5 510.6,646.0 511.2,647.3 511.8,649.4 512.4,647.9 513.0,646.4 513.6,647.1 514.2,646.8 514.8,646.2 515.4,648.3 516.0,649.1 516.6,648.4 517.2,649.3 517.8,649.1 518.4,648.8 519.0,649.4 519.6,648.8 520.2,649.7 520.8,649.8 521.4,651.0 522.0,651.5 522.6,651.8 523.2,651.6 523.8,650.8 524.4,650.9 525.0,649.8 525.6,650.9 526.2,652.5 526.8,651.7 527.4,652.2 528.0,652.7 528.6,652.2 529.2,653.2 529.8,653.8 530.4,652.4 531.0,653.4 531.6,655.2 532.2,654.0 532.8,653.1 533.4,652.4 534.0,652.3 534.6,654.1 535.2,655.0 535.8,654.0 536.4,654.0 537.0,656.1 537.6,656.4 538.2,655.0 538.8,656.3 539.4,657.2 540.0,656.4 540.6,655.8 541.2,654.7 541.8,654.4 542.4,655.2 543.0,655.9 543.6,656.5 544.2,657.1 544.8,656.9 545.4,656.7 546.0,655.7 546.6,654.0 547.2,654.2 547.8,654.9 548.4,654.6 549.0,654.9 549.6,654.2 550.2,653.3 550.8,653.8 551.4,654.2 552.0,653.4 552.6,653.2 553.2,653.0 553.8,651.3 554.4,650.9 555.0,652.2 555.6,650.9 556.2,649.5 556.8,650.0 557.4,649.2 558.0,646.5 558.6,645.5 559.2,644.6 559.8,641.2 560.4,638.8 561.0,636.9 561.6,634.1 562.2,630.1 562.8,626.6 563.4,620.8 564.0,612.2 564.6,603.8 565.2,591.9 565.8,574.0 566.4,547.7 567.0,513.7 567.6,469.9 568.2,413.7 568.8,345.3 569.4,271.8 570.0,208.2 570.6,176.4 570.7,175.7 571.2,192.8 571.8,248.8 572.4,319.9 573.0,390.5 573.6,451.7 574.2,500.2 574.8,536.3 575.4,563.3 576.0,584.5 576.6,598.4 577.2,607.5 577.8,616.1 578.4,623.4 579.0,626.5 579.6,627.4 580.2,630.2 580.8,633.9 581.4,637.1 582.0,640.2 582.6,641.9 583.2,642.6 583.8,644.2 584.4,645.2 585.0,646.3 585.6,647.6 586.2,650.6 586.8,652.6 587.4,651.1 588.0,650.7 588.6,651.8 589.2,652.1 589.8,652.7 590.4,654.0 591.0,655.8 591.6,656.6 592.2,656.0 592.8,655.8 593.4,655.9 594.0,657.2 594.6,658.2 595.2,659.4 595.8,659.4 596.4,659.7 597.0,660.6 597.6,660.2 598.2,658.9 598.8,658.2 599.4,660.4 600.0,662.5 600.6,662.4 601.2,662.2 601.8,661.9 602.4,661.3 603.0,661.4 603.6,662.5 604.2,663.3 604.8,662.6 605.4,662.3 606.0,662.9 606.6,663.5 607.2,662.6 607.8,663.6 608.4,664.5 609.0,663.3 609.6,664.2 610.2,664.9 610.8,663.8 611.4,663.4 612.0,662.7 612.6,661.8 613.2,660.9 613.8,662.1 614.4,662.3 615.0,661.8 615.6,662.5 616.2,661.2 616.8,661.6 617.4,662.3 618.0,662.8 618.6,663.7 619.2,663.4 619.8,662.6 620.4,661.8 621.0,661.6 621.6,662.0 622.2,661.1 622.8,660.8 623.4,660.9 624.0,661.0 624.6,661.3 625.2,660.7 625.8,659.8 626.4,660.6 627.0,659.8 627.6,658.8 628.2,660.9 628.8,659.4 629.4,657.7 630.0,660.0 630.6,659.2 631.2,660.5 631.8,659.7 632.4,658.8 633.0,661.6 633.6,661.2 634.2,659.8 634.8,659.4 635.4,658.8 636.0,659.0 636.6,658.8 637.2,657.9 637.8,659.3 638.4,658.6 639.0,657.6 639.6,658.4 640.2,657.6 640.8,658.2 641.4,659.3 642.0,657.3 642.6,656.9 643.2,657.4 643.8,656.8 644.4,657.3 645.0,657.2"/>
<path stroke="#66fb08" d="M66.0,291.6 66.6,288.7 67.2,285.3 67.8,282.6 68.4,281.3 69.0,280.9 69.6,280.5 70.2,279.2 70.8,276.5 71.4,274.3 72.0,273.6 72.6,273.4 73.2,274.2 73.8,275.1 74.4,273.9 75.0,273.2 75.6,275.2 76.2,276.4 76.8,275.8 77.4,277.1 78.0,277.8 78.6,277.6 79.2,278.5 79.8,278.3 80.4,280.2 81.0,281.8 81.6,281.9 82.2,283.5 82.8,285.7 83.4,287.6 84.0,288.7 84.6,289.3 85.2,291.1 85.8,293.6 86.4,296.9 87.0,301.7 87.6,305.0 88.2,309.2 88.8,311.9 89.4,313.0 90.0,314.7 90.6,315.9 91.2,318.0 91.8,320.2 92.4,319.5 93.0,320.1 93.6,321.9 94.2,322.4 94.8,323.2 95.4,323.0 96.0,324.3 96.6,329.8 97.2,334.6 97.8,336.4 98.4,340.5 99.0,345.3 99.6,348.4 100.2,351.8 100.8,356.5 101.4,362.5 102.0,367.6 102.6,371.2 103.2,375.4 103.8,379.8 104.4,381.8 105.0,384.9 105.6,389.4 106.2,392.4 106.8,396.2 107.4,400.5 108.0,404.4 108.6,407.1 109.2,410.7 109.8,416.9 110.4,420.3 111.0,421.4 111.6,426.0 112.2,431.2 112.8,434.7 113.4,436.7 114.0,440.1 114.6,443.2 115.2,444.3 115.8,446.7 116.4,449.3 117.0,452.0 117.6,454.0 118.2,455.0 118.8,456.6 119.4,458.1 120.0,459.6 120.6,460.2 121.2,460.4 121.8,464.2 122.4,467.1 123.0,469.5 123.6,473.8 124.2,477.4 124.8,481.0 125.4,486.1 126.0,488.4 126.6,491.7 127.2,498.3 127.8,500.6 128.4,501.5 129.0,504.4 129.6,507.9 130.2,508.8 130.8,509.7 131.4,512.4 132.0,514.6 132.6,516.7 133.2,518.6 133.8,520.0 134.4,521.3 135.0,522.8 135.6,523.9 136.2,525.9 136.8,527.9 137.4,528.8 138.0,531.6 138.6,533.9 139.2,533.6 139.8,536.2 140.4,538.4 141.0,539.6 141.6,541.5 142.2,542.5 142.8,543.4 143.4,543.1 144.0,542.9 144.6,544.3 145.2,542.1 145.8,540.0 146.4,540.7 147.0,538.5 147.6,535.4 148.2,535.3 148.8,533.2 149.4,529.7 150.0,526.0 150.6,519.7 151.2,513.9 151.8,507.8 152.4,501.7 153.0,496.0 153.6,492.4 154.0,492.0 154.2,492.5 154.8,496.6 155.4,502.6 156.0,510.0 156.6,519.4 157.2,527.7 157.8,535.0 158.4,541.7 159.0,547.9 159.6,554.2 160.2,559.8 160.8,563.7 161.4,567.9 162.0,570.8 162.6,573.9 163.2,576.5 163.8,576.1 164.4,576.4 165.0,575.4 165.6,576.7 166.2,579.8 166.8,582.1 167.4,581.9 168.0,582.6 168.6,584.1 169.2,583.9 169.8,582.9 170.4,583.0 171.0,585.0 171.6,585.7 172.2,586.4 172.8,585.4 173.4,586.2 174.0,587.6 174.6,587.5 175.2,587.7 175.8,588.1 176.4,587.3 177.0,585.5 177.6,584.4 178.2,586.1 178.8,587.3 179.4,586.2 180.0,585.1 180.6,584.8 181.2,584.7 181.8,584.0 182.4,583.1 183.0,584.3 183.6,584.4 184.2,581.9 184.8,580.2 185.4,579.4 186.0,580.0 186.6,580.2 187.2,578.6 187.8,577.1 188.4,576.0 189.0,574.0 189.6,573.4 190.2,571.9 190.8,569.3 191.4,564.5 192.0,558.2 192.6,554.4 193.2,549.0 193.8,542.0 194.4,535.9 195.0,531.4 195.6,526.8 196.2,521.3 196.8,515.9 197.4,510.3 198.0,502.9 198.6,494.7 199.2,486.3 199.8,478.0 200.4,469.6 201.0,459.4 201.6,448.7 202.2,437.5 202.8,425.9 203.4,415.6 204.0,407.4 204.6,399.1 205.2,391.3 205.8,384.3 206.4,379.7 207.0,378.2 207.0,378.2 207.6,379.8 208.2,384.0 208.8,391.0 209.4,398.5 210.0,406.9 210.6,415.9 211.2,422.2 211.8,428.9 212.4,434.2 213.0,437.3 213.6,441.8 214.2,446.0 214.8,451.5 215.4,457.9 216.0,465.3 216.6,472.4 217.2,478.4 217.8,484.3 218.4,488.8 219.0,493.7 219.6,498.3 220.2,502.7 220.8,506.8 221.4,510.5 222.0,514.0 222.6,516.2 223.2,518.5 223.8,520.5 224.4,523.2 225.0,525.9 225.6,527.3 226.2,529.2 226.8,533.8 227.4,535.7 228.0,535.9 228.6,537.7 229.2,538.9 229.8,542.3 230.4,545.2 231.0,546.4 231.6,549.3 232.2,552.3 232.8,551.7 233.4,551.8 234.0,553.7 234.6,553.9 235.2,554.2 235.8,554.2 236.4,555.2 237.0,555.9 237.6,555.3 238.2,555.9 238.8,556.5 239.4,556.1 240.0,555.9 240.6,557.0 241.2,557.3 241.8,556.1 242.4,555.3 243.0,555.3 243.6,555.3 244.2,555.8 244.8,556.9 245.4,555.6 246.0,555.8 246.6,558.0 247.2,558.5 247.8,557.7 248.4,559.0 249.0,559.6 249.6,558.4 250.2,558.6 250.8,560.0 251.4,562.1 252.0,563.5 252.6,563.5 253.2,562.5 253.8,562.5 254.4,563.4 255.0,564.4 255.6,564.4 256.2,565.2 256.8,567.6 257.4,568.0 258.0,568.5 258.6,568.6 259.2,567.9 259.8,568.7 260.4,571.1 261.0,572.8 261.6,572.2 262.2,572.9 262.8,573.6 263.4,574.5 264.0,575.7 264.6,575.0 265.2,575.9 265.8,576.3 266.4,575.8 267.0,576.1 267.6,577.6 268.2,579.3 268.8,579.8 269.4,580.3 270.0,582.1 270.6,582.8 271.2,582.0 271.8,583.9 272.4,586.1 273.0,586.1 273.6,584.6 274.2,584.6 274.8,586.8 275.4,587.9 276.0,589.1 276.6,588.7 277.2,588.6 277.8,589.6 278.4,590.5 279.0,591.3 279.6,591.4 280.2,591.3 280.8,589.9 281.4,589.8 282.0,590.6 282.6,590.9 283.2,592.4 283.8,594.3 284.4,593.8 285.0,592.3 285.6,592.2 286.2,592.5 286.8,593.7 287.4,594.4 288.0,593.7 288.6,593.1 289.2,591.2 289.8,590.7 290.4,591.0 291.0,591.5 291.6,591.9 292.2,590.7 292.8,589.9 293.4,591.0 294.0,590.0 294.6,587.6 295.2,587.4 295.8,586.8 296.4,585.8 297.0,585.7 297.6,586.1 298.2,583.4 298.8,580.9 299.4,580.8 300.0,579.3 300.6,577.5 301.2,575.5 301.8,574.3 302.4,572.1 303.0,569.0 303.6,566.8 304.2,564.4 304.8,561.6 305.4,559.5 306.0,557.0 306.6,554.3 307.2,552.4 307.8,550.9 308.4,550.5 308.5,550.5 309.0,550.6 309.6,551.2 310.2,551.9 310.8,554.0 311.4,556.9 312.0,557.8 312.6,560.7 313.2,564.0 313.8,564.9 314.4,567.5 315.0,569.3 315.6,569.8 316.2,572.7 316.8,573.7 317.4,573.4 318.0,575.9 318.6,576.3 319.2,577.1 319.8,579.8 320.4,583.5 321.0,584.8 321.6,585.4 322.2,588.8 322.8,591.3 323.4,592.3 324.0,594.8 324.6,597.7 325.2,599.5 325.8,601.6 326.4,603.1 327.0,603.2 327.6,603.0 328.2,602.2 328.8,602.2 329.4,603.4 330.0,603.4 330.6,603.5 331.2,603.4 331.8,604.6 332.4,606.9 333.0,605.7 333.6,604.6 334.2,604.8 334.8,605.6 335.4,606.1 336.0,605.4 336.6,605.0 337.2,604.9 337.8,604.2 338.4,604.3 339.0,604.1 339.6,603.6 340.2,603.7 340.8,603.7 341.4,603.1 342.0,602.7 342.6,601.6 343.2,601.0 343.8,601.3 344.4,600.8 345.0,601.0 345.6,601.6 346.2,600.2 346.8,599.9 347.4,600.5 348.0,601.3 348.6,601.3 349.2,600.0 349.8,600.5 350.4,602.7 351.0,603.4 351.6,602.7 352.2,603.6 352.8,602.7 353.4,603.3 354.0,605.4 354.6,605.9 355.2,606.5 355.8,606.8 356.4,606.6 357.0,606.9 357.6,607.5 358.2,609.5 358.8,609.8 359.4,608.9 360.0,608.5 360.6,608.1 361.2,609.9 361.8,610.0 362.4,608.6 363.0,609.7 363.6,610.3 364.2,612.1 364.8,611.0 365.4,610.1 366.0,612.6 366.6,611.7 367.2,611.0 367.8,612.3 368.4,614.0 369.0,613.2 369.6,611.0 370.2,612.4 370.8,614.7 371.4,613.8 372.0,611.3 372.6,612.6 373.2,614.1 373.8,613.9 374.4,614.1 375.0,613.1 375.6,612.9 376.2,614.3 376.8,615.7 377.4,613.2 378.0,611.7 378.6,614.5 379.2,615.0 379.8,613.0 380.4,613.4 381.0,614.4 381.6,614.5 382.2,614.4 382.8,614.4 383.4,614.6 384.0,615.2 384.6,615.2 385.2,615.0 385.8,615.7 386.4,617.1 387.0,617.7 387.6,617.0 388.2,617.4 388.8,618.1 389.4,618.9 390.0,619.3 390.6,620.3 391.2,621.5 391.8,621.0 392.4,620.7 393.0,622.3 393.6,624.1 394.2,624.6 394.8,624.4 395.4,624.4 396.0,626.9 396.6,630.1 397.2,632.1 397.8,632.6 398.4,634.8 399.0,637.4 399.6,638.9 400.2,641.5 400.8,642.3 401.4,643.0 402.0,643.2 402.6,643.7 403.2,644.7 403.8,646.3 404.4,648.2 405.0,649.1 405.6,649.9 406.2,649.3 406.8,649.8 407.4,650.4 408.0,650.9 408.6,651.8 409.2,651.0 409.8,651.1 410.4,652.1 411.0,652.2 411.6,653.1 412.2,654.7 412.8,654.1 413.4,652.9 414.0,651.8 414.6,652.2 415.2,653.7 415.8,652.5 416.4,653.2 417.0,655.3 417.6,654.8 418.2,654.3 418.8,654.3 419.4,655.3 420.0,655.1 420.6,654.5 421.2,657.0 421.8,657.4 422.4,656.5 423.0,656.5 423.6,655.5 424.2,655.7 424.8,657.0 425.4,656.4 426.0,656.5 426.6,658.2 427.2,658.8 427.8,656.9 428.4,655.6 429.0,655.7 429.6,657.2 430.2,658.9 430.8,658.8 431.4,657.8 432.0,656.7 432.6,657.4 433.2,658.4 433.8,657.9 434.4,658.1 435.0,659.2 435.6,659.4 436.2,658.4 436.8,656.9 437.4,657.6 438.0,659.3 438.6,659.4 439.2,659.1 439.8,658.9 440.4,659.9 441.0,660.4 441.6,660.2 442.2,659.6 442.8,659.2 443.4,660.2 444.0,660.0 444.6,659.1 445.2,659.7 445.8,661.6 446.4,662.0 447.0,662.3 447.6,662.2 448.2,661.1 448.8,660.4 449.4,660.3 450.0,662.4 450.6,663.1 451.2,662.8 451.8,663.1 452.4,662.7 453.0,662.2 453.6,662.4 454.2,663.1 454.8,663.5 455.4,663.5 456.0,663.4 456.6,662.6 457.2,662.5 457.8,662.5 458.4,663.5 459.0,662.8 459.6,662.0 460.2,665.3 460.8,665.3 461.4,663.0 462.0,663.3 462.6,665.2 463.2,665.2 463.8,664.8 464.4,665.1 465.0,664.6 465.6,666.8 466.2,667.3 466.8,664.8 467.4,664.6 468.0,665.3 468.6,666.1 469.2,666.5 469.8,666.5 470.4,665.1 471.0,665.5 471.6,666.4 472.2,666.0 472.8,665.3 473.4,665.2 474.0,665.9 474.6,666.4 475.2,666.1 475.8,666.3 476.4,667.5 477.0,666.9 477.6,666.5 478.2,666.8 478.8,668.1 479.4,667.1 480.0,666.4 480.6,667.1 481.2,667.2 481.8,669.2 482.4,669.2 483.0,668.9 483.6,668.9 484.2,670.3 484.8,671.8 485.4,671.4 486.0,670.0 486.6,668.6 487.2,670.5 487.8,671.3 488.4,670.6 489.0,671.2 489.6,670.7 490.2,671.2 490.8,672.3 491.4,672.3 492.0,672.0 492.6,672.2 493.2,672.4 493.8,672.9 494.4,674.4 495.0,674.6 495.6,674.4 496.2,674.4 496.8,672.3 497.4,672.7 498.0,674.6 498.6,674.3 499.2,674.5 499.8,673.7 500.4,673.7 501.0,675.4 501.6,677.0 502.2,676.3 502.8,674.9 503.4,676.6 504.0,676.8 504.6,677.4 505.2,678.3 505.8,676.5 506.4,677.3 507.0,679.4 507.6,677.9 508.2,678.0 508.8,679.0 509.4,679.2 510.0,679.3 510.6,677.4 511.2,678.3 511.8,680.2 512.4,681.5 513.0,682.3 513.6,681.6 514.2,680.4 514.8,679.8 515.4,679.9 516.0,679.9 516.6,680.1 517.2,679.1 517.8,679.7 518.4,681.6 519.0,683.5 519.6,684.2 520.2,682.3 520.8,682.4 521.4,682.0 522.0,681.4 522.6,681.2 523.2,682.8 523.8,684.7 524.4,683.0 525.0,682.8 525.6,684.4 526.2,685.0 526.8,684.8 527.4,684.0 528.0,683.5 528.6,684.3 529.2,685.6 529.8,685.2 530.4,683.9 531.0,685.5 531.6,685.9 532.2,686.0 532.8,687.0 533.4,687.1 534.0,688.3 534.6,688.4 535.2,687.9 535.8,686.9 536.4,686.1 537.0,687.3 537.6,689.1 538.2,689.7 538.8,690.4 539.4,689.8 540.0,688.4 540.6,689.0 541.2,689.0 541.8,688.3 542.4,687.6 543.0,688.4 543.6,688.4 544.2,688.1 544.8,687.8 545.4,688.2 546.0,688.4 546.6,688.2 547.2,687.7 547.8,686.6 548.4,688.4 549.0,687.9 549.6,686.9 550.2,686.9 550.8,684.9 551.4,685.1 552.0,686.6 552.6,685.1 553.2,684.7 553.8,684.4 554.4,682.7 555.0,682.5 555.6,682.0 556.2,682.8 556.8,681.3 557.4,679.2 558.0,679.8 558.6,676.6 559.2,673.3 559.8,673.3 560.4,672.1 561.0,669.5 561.6,667.8 562.2,663.9 562.8,658.2 563.4,651.4 564.0,645.5 564.6,637.6 565.2,625.1 565.8,608.4 566.4,583.2 567.0,551.3 567.6,509.7 568.2,454.7 568.8,388.5 569.4,318.0 570.0,256.8 570.6,226.4 570.7,225.7 571.2,242.1 571.8,296.1 572.4,365.4 573.0,432.4 573.6,491.0 574.2,538.1 574.8,571.4 575.4,597.4 576.0,618.5 576.6,633.4 577.2,643.2 577.8,649.7 578.4,655.0 579.0,660.0 579.6,663.7 580.2,665.8 580.8,668.2 581.4,671.2 582.0,673.3 582.6,673.4 583.2,675.8 583.8,677.8 584.4,678.9 585.0,680.8 585.6,682.5 586.2,684.0 586.8,683.7 587.4,683.8 588.0,684.2 588.6,686.4 589.2,688.4 589.8,688.9 590.4,689.1 591.0,687.3 591.6,689.2 592.2,691.2 592.8,690.8 593.4,691.2 594.0,691.9 594.6,692.6 595.2,691.4 595.8,692.1 596.4,693.2 597.0,692.4 597.6,694.3 598.2,695.5 598.8,694.4 599.4,692.7 600.0,693.3 600.6,695.2 601.2,695.3 601.8,694.2 602.4,693.9 603.0,694.1 603.6,695.0 604.2,696.6 604.8,697.3 605.4,696.4 606.0,696.0 606.6,697.0 607.2,696.5 607.8,696.1 608.4,698.0 609.0,698.3 609.6,697.5 610.2,697.0 610.8,696.5 611.4,695.5 612.0,695.5 612.6,697.5 613.2,698.9 613.8,698.8 614.4,697.8 615.0,696.9 615.6,695.9 616.2,695.7 616.8,696.4 617.4,695.9 618.0,696.0 618.6,695.8 619.2,693.8 619.8,693.7 620.4,693.6 621.0,693.3 621.6,695.1 622.2,695.9 622.8,695.1 623.4,696.0 624.0,696.6 624.6,695.4 625.2,695.4 625.8,695.9 626.4,694.9 627.0,694.9 627.6,693.8 628.2,692.9 628.8,693.8 629.4,694.7 630.0,694.4 630.6,693.9 631.2,694.7 631.8,695.7 632.4,695.5 633.0,695.4 633.6,694.5 634.2,693.3 634.8,693.8 635.4,693.7 636.0,693.1 636.6,694.4 637.2,694.5 637.8,692.6 638.4,693.0 639.0,694.9 639.6,694.6 640.2,694.1 640.8,693.7 641.4,692.4 642.0,692.2 642.6,692.3 643.2,694.0 643.8,693.3 644.4,693.1 645.0,693.1"/>
<path stroke="#04b808" d="M66.0,322.1 66.6,320.7 67.2,319.8 67.8,320.3 68.4,319.9 69.0,317.5 69.6,316.3 70.2,315.4 70.8,314.7 71.4,315.3 72.0,315.8 72.6,315.6 73.2,315.6 73.8,315.1 74.4,316.9 75.0,317.0 75.6,315.3 76.2,316.7 76.8,317.8 77.4,317.8 78.0,320.0 78.6,320.6 79.2,321.5 79.8,322.5 80.4,324.0 81.0,326.4 81.6,326.2 82.2,326.3 82.8,327.3 83.4,329.1 84.0,332.0 84.6,332.6 85.2,334.3 85.8,336.7 86.4,338.5 87.0,341.6 87.6,347.2 88.2,351.5 88.8,352.5 89.4,354.1 90.0,356.6 90.6,357.3 91.2,358.1 91.8,362.3 92.4,363.0 93.0,362.0 93.6,363.3 94.2,363.3 94.8,363.6 95.4,366.2 96.0,368.8 96.6,371.6 97.2,375.1 97.8,379.1 98.4,383.4 99.0,388.3 99.6,393.4 100.2,396.9 100.8,399.3 101.4,404.2 102.0,410.5 102.6,413.3 103.2,415.3 103.8,418.9 104.4,424.7 105.0,428.5 105.6,431.2 106.2,435.7 106.8,440.5 107.4,443.9 108.0,446.6 108.6,449.9 109.2,454.9 109.8,459.8 110.4,462.4 111.0,464.4 111.6,467.5 112.2,472.5 112.8,475.9 113.4,479.4 114.0,483.2 114.6,485.6 115.2,488.3 115.8,490.7 116.4,491.6 117.0,492.7 117.6,496.5 118.2,497.3 118.8,496.7 119.4,499.7 120.0,501.4 120.6,501.8 121.2,502.9 121.8,506.0 122.4,510.4 123.0,514.1 123.6,516.9 124.2,520.3 124.8,523.3 125.4,526.5 126.0,530.5 126.6,534.0 127.2,538.3 127.8,541.7 128.4,543.0 129.0,545.5 129.6,548.1 130.2,548.6 130.8,550.9 131.4,552.5 132.0,554.5 132.6,557.6 133.2,559.2 133.8,561.1 134.4,562.7 135.0,563.9 135.6,564.8 136.2,566.4 136.8,568.3 137.4,569.5 138.0,571.6 138.6,573.6 139.2,574.2 139.8,574.7 140.4,577.3 141.0,580.3 141.6,582.2 142.2,583.5 142.8,584.9 143.4,584.8 144.0,583.7 144.6,582.3 145.2,581.0 145.8,580.5 146.4,580.2 147.0,579.2 147.6,577.1 148.2,574.6 148.8,572.2 149.4,569.0 150.0,564.5 150.6,559.6 151.2,553.4 151.8,546.3 152.4,540.7 153.0,535.8 153.6,532.4 154.0,532.0 154.2,532.4 154.8,536.2 155.4,541.8 156.0,550.2 156.6,558.0 157.2,566.0 157.8,575.3 158.4,582.6 159.0,587.8 159.6,592.8 160.2,597.1 160.8,601.3 161.4,604.5 162.0,606.3 162.6,608.7 163.2,611.3 163.8,612.8 164.4,613.9 165.0,613.3 165.6,614.7 166.2,618.6 166.8,619.5 167.4,618.4 168.0,617.6 168.6,618.6 169.2,619.0 169.8,619.8 170.4,620.5 171.0,621.1 171.6,622.7 172.2,620.9 172.8,620.3 173.4,621.4 174.0,620.4 174.6,620.5 175.2,621.3 175.8,622.4 176.4,621.4 177.0,621.3 177.6,623.6 178.2,623.1 178.8,621.8 179.4,621.1 180.0,619.6 180.6,619.7 181.2,620.4 181.8,620.1 182.4,621.1 183.0,620.6 183.6,618.6 184.2,618.6 184.8,616.7 185.4,614.1 186.0,614.0 186.6,613.5 187.2,613.3 187.8,612.6 188.4,612.3 189.0,612.4 189.6,610.0 190.2,606.2 190.8,602.7 191.4,599.6 192.0,594.0 192.6,588.8 193.2,584.8 193.8,579.3 194.4,574.4 195.0,569.6 195.6,562.5 196.2,556.5 196.8,550.9 197.4,544.9 198.0,538.1 198.6,531.0 199.2,524.0 199.8,515.7 200.4,506.4 201.0,495.3 201.6,486.5 202.2,476.8 202.8,466.6 203.4,457.5 204.0,448.0 204.6,440.1 205.2,432.1 205.8,425.5 206.4,421.0 207.0,419.7 207.0,419.7 207.6,421.2 208.2,425.5 208.8,432.0 209.4,440.5 210.0,447.0 210.6,453.3 211.2,460.5 211.8,466.9 212.4,471.9 213.0,475.7 213.6,479.8 214.2,484.3 214.8,490.1 215.4,495.2 216.0,500.8 216.6,506.8 217.2,513.6 217.8,521.5 218.4,526.7 219.0,531.7 219.6,534.7 220.2,536.3 220.8,540.2 221.4,544.4 222.0,548.3 222.6,551.3 223.2,553.8 223.8,556.9 224.4,558.9 225.0,559.8 225.6,561.5 226.2,566.2 226.8,567.7 227.4,568.3 228.0,573.2 228.6,575.8 229.2,576.4 229.8,578.0 230.4,581.1 231.0,583.8 231.6,584.2 232.2,585.4 232.8,587.5 233.4,588.8 234.0,590.5 234.6,590.1 235.2,588.5 235.8,589.3 236.4,591.8 237.0,592.3 237.6,591.4 238.2,592.8 238.8,592.1 239.4,591.3 240.0,591.8 240.6,591.3 241.2,591.9 241.8,593.1 242.4,592.5 243.0,591.2 243.6,590.9 244.2,591.7 244.8,592.7 245.4,592.9 246.0,592.7 246.6,592.5 247.2,594.3 247.8,594.8 248.4,594.9 249.0,595.9 249.6,595.6 250.2,594.7 250.8,596.1 251.4,597.8 252.0,598.4 252.6,597.4 253.2,596.1 253.8,596.6 254.4,597.7 255.0,600.5 255.6,602.1 256.2,602.0 256.8,602.2 257.4,603.4 258.0,603.6 258.6,603.9 259.2,604.8 259.8,603.5 260.4,603.6 261.0,606.6 261.6,607.1 262.2,606.5 262.8,606.9 263.4,607.2 264.0,609.0 264.6,609.8 265.2,608.9 265.8,607.5 266.4,608.5 267.0,609.9 267.6,609.7 268.2,612.3 268.8,614.7 269.4,613.5 270.0,614.3 270.6,616.6 271.2,616.1 271.8,616.9 272.4,617.0 273.0,616.2 273.6,617.0 274.2,617.6 274.8,619.8 275.4,620.2 276.0,619.3 276.6,620.1 277.2,621.5 277.8,622.4 278.4,623.2 279.0,623.3 279.6,622.2 280.2,622.6 280.8,623.8 281.4,623.7 282.0,624.1 282.6,626.2 283.2,625.8 283.8,624.8 284.4,626.3 285.0,626.0 285.6,624.6 286.2,624.4 286.8,625.3 287.4,626.4 288.0,626.0 288.6,625.6 289.2,626.5 289.8,626.9 290.4,624.7 291.0,623.8 291.6,624.5 292.2,624.6 292.8,623.9 293.4,622.4 294.0,621.7 294.6,620.3 295.2,619.9 295.8,620.0 296.4,619.5 297.0,618.4 297.6,616.8 298.2,615.7 298.8,614.1 299.4,614.0 300.0,613.0 300.6,611.2 301.2,609.1 301.8,606.9 302.4,604.5 303.0,601.9 303.6,600.4 304.2,598.6 304.8,596.5 305.4,593.4 306.0,591.4 306.6,589.4 307.2,587.5 307.8,586.3 308.4,585.5 308.5,585.5 309.0,585.7 309.6,586.4 310.2,587.6 310.8,590.2 311.4,592.5 312.0,593.7 312.6,594.4 313.2,596.7 313.8,599.4 314.4,602.1 315.0,603.6 315.6,604.2 316.2,606.4 316.8,607.5 317.4,608.2 318.0,610.8 318.6,613.1 319.2,613.8 319.8,614.6 320.4,615.5 321.0,617.9 321.6,620.9 322.2,623.0 322.8,625.1 323.4,627.2 324.0,629.7 324.6,632.0 325.2,634.9 325.8,636.4 326.4,635.3 327.0,635.0 327.6,635.4 328.2,635.8 328.8,637.6 329.4,638.7 330.0,638.2 330.6,638.3 331.2,638.4 331.8,637.5 332.4,637.2 333.0,637.8 333.6,639.9 334.2,639.7 334.8,639.8 335.4,641.8 336.0,640.9 336.6,640.0 337.2,639.6 337.8,639.4 338.4,640.1 339.0,639.8 339.6,639.6 340.2,640.0 340.8,639.2 341.4,638.2 342.0,637.5 342.6,637.2 343.2,636.1 343.8,636.0 344.4,636.8 345.0,635.9 345.6,637.4 346.2,637.4 346.8,635.5 347.4,636.6 348.0,636.1 348.6,635.7 349.2,636.3 349.8,636.6 350.4,637.9 351.0,639.2 351.6,640.5 352.2,641.3 352.8,641.8 353.4,642.1 354.0,641.4 354.6,642.3 355.2,642.7 355.8,642.0 356.4,643.8 357.0,645.2 357.6,644.7 358.2,645.0 358.8,645.8 359.4,644.7 360.0,644.3 360.6,644.8 361.2,645.3 361.8,646.0 362.4,647.2 363.0,648.4 363.6,647.2 364.2,647.2 364.8,647.2 365.4,647.6 366.0,649.1 366.6,649.5 367.2,647.9 367.8,647.7 368.4,649.6 369.0,650.1 369.6,650.7 370.2,649.7 370.8,649.3 371.4,649.9 372.0,649.7 372.6,650.5 373.2,650.9 373.8,650.3 374.4,650.0 375.0,649.6 375.6,648.5 376.2,649.7 376.8,650.7 377.4,649.2 378.0,648.6 378.6,649.8 379.2,651.5 379.8,652.3 380.4,651.8 381.0,649.8 381.6,649.2 382.2,650.9 382.8,651.3 383.4,651.3 384.0,650.9 384.6,652.0 385.2,653.3 385.8,652.1 386.4,650.5 387.0,652.2 387.6,652.6 388.2,652.2 388.8,654.1 389.4,652.9 390.0,652.0 390.6,652.7 391.2,653.4 391.8,654.5 392.4,656.3 393.0,657.4 393.6,657.0 394.2,658.5 394.8,659.4 395.4,659.5 396.0,662.4 396.6,663.3 397.2,663.0 397.8,665.5 398.4,667.0 399.0,667.5 399.6,670.9 400.2,673.7 400.8,674.2 401.4,675.8 402.0,676.5 402.6,676.8 403.2,678.3 403.8,681.4 404.4,682.4 405.0,681.8 405.6,680.8 406.2,680.7 406.8,681.4 407.4,682.3 408.0,683.4 408.6,683.2 409.2,683.6 409.8,683.5 410.4,682.8 411.0,683.9 411.6,684.3 412.2,683.3 412.8,684.3 413.4,684.9 414.0,685.5 414.6,687.0 415.2,687.2 415.8,686.8 416.4,686.9 417.0,687.6 417.6,686.4 418.2,686.3 418.8,687.1 419.4,686.2 420.0,687.0 420.6,687.8 421.2,688.4 421.8,690.3 422.4,689.6 423.0,690.0 423.6,692.1 424.2,691.8 424.8,690.8 425.4,690.4 426.0,688.5 426.6,687.8 427.2,689.5 427.8,691.1 428.4,690.2 429.0,689.5 429.6,690.4 430.2,689.5 430.8,689.2 431.4,691.7 432.0,693.6 432.6,692.6 433.2,692.5 433.8,692.4 434.4,690.7 435.0,689.6 435.6,691.0 436.2,692.5 436.8,693.7 437.4,694.3 438.0,693.0 438.6,691.7 439.2,692.8 439.8,694.0 440.4,693.0 441.0,691.8 441.6,692.8 442.2,695.2 442.8,694.3 443.4,693.8 444.0,694.7 444.6,695.5 445.2,695.4 445.8,696.1 446.4,696.1 447.0,694.6 447.6,694.6 448.2,693.4 448.8,693.3 449.4,696.0 450.0,696.9 450.6,695.8 451.2,696.0 451.8,695.3 452.4,695.1 453.0,697.0 453.6,697.9 454.2,697.1 454.8,697.4 455.4,699.4 456.0,698.7 456.6,698.0 457.2,697.4 457.8,695.7 458.4,697.4 459.0,698.9 459.6,698.8 460.2,698.5 460.8,698.3 461.4,699.5 462.0,701.0 462.6,700.5 463.2,698.3 463.8,699.5 464.4,701.2 465.0,701.0 465.6,700.9 466.2,702.2 466.8,702.3 467.4,701.2 468.0,700.0 468.6,699.4 469.2,700.4 469.8,700.9 470.4,701.8 471.0,701.5 471.6,702.6 472.2,702.5 472.8,701.2 473.4,702.3 474.0,701.9 474.6,702.3 475.2,703.8 475.8,703.3 476.4,704.4 477.0,704.8 477.6,703.9 478.2,703.3 478.8,702.1 479.4,702.5 480.0,703.6 480.6,703.9 481.2,704.9 481.8,703.7 482.4,702.5 483.0,703.1 483.6,705.0 484.2,706.1 484.8,705.0 485.4,704.8 486.0,705.9 486.6,706.6 487.2,706.3 487.8,705.3 488.4,706.2 489.0,708.1 489.6,707.8 490.2,708.6 490.8,708.3 491.4,707.5 492.0,708.3 492.6,708.9 493.2,708.5 493.8,708.4 494.4,708.4 495.0,709.1 495.6,710.3 496.2,710.0 496.8,710.8 497.4,709.9 498.0,708.7 498.6,711.1 499.2,711.2 499.8,709.1 500.4,710.5 501.0,712.2 501.6,710.6 502.2,711.0 502.8,711.3 503.4,710.0 504.0,710.8 504.6,711.6 505.2,711.2 505.8,711.5 506.4,711.7 507.0,712.2 507.6,713.1 508.2,713.8 508.8,713.7 509.4,712.4 510.0,712.0 510.6,712.9 511.2,715.1 511.8,716.1 512.4,714.8 513.0,715.0 513.6,714.8 514.2,715.1 514.8,715.8 515.4,715.8 516.0,716.7 516.6,716.2 517.2,716.1 517.8,715.8 518.4,715.7 519.0,717.4 519.6,720.5 520.2,720.4 520.8,717.7 521.4,716.7 522.0,717.5 522.6,717.3 523.2,716.1 523.8,717.7 524.4,717.6 525.0,718.5 525.6,720.3 526.2,719.0 526.8,718.0 527.4,717.6 528.0,717.2 528.6,718.6 529.2,720.2 529.8,720.3 530.4,720.2 531.0,719.8 531.6,720.0 532.2,719.5 532.8,719.5 533.4,721.7 534.0,722.8 534.6,721.6 535.2,720.6 535.8,722.1 536.4,723.7 537.0,721.8 537.6,720.4 538.2,721.8 538.8,723.0 539.4,722.4 540.0,722.1 540.6,722.6 541.2,723.8 541.8,724.4 542.4,722.7 543.0,722.2 543.6,723.0 544.2,723.7 544.8,722.2 545.4,721.9 546.0,721.6 546.6,720.8 547.2,720.7 547.8,720.2 548.4,720.4 549.0,720.5 549.6,721.1 550.2,722.0 550.8,721.1 551.4,719.4 552.0,719.7 552.6,718.6 553.2,716.2 553.8,717.6 554.4,718.7 555.0,718.2 555.6,716.9 556.2,714.5 556.8,713.4 557.4,713.6 558.0,712.3 558.6,710.2 559.2,708.2 559.8,706.2 560.4,705.7 561.0,704.4 561.6,700.1 562.2,695.7 562.8,692.0 563.4,687.9 564.0,680.7 564.6,671.2 565.2,658.1 565.8,640.0 566.4,617.8 567.0,586.6 567.6,542.8 568.2,487.9 568.8,424.6 569.4,355.1 570.0,293.7 570.6,263.5 570.7,262.8 571.2,279.3 571.8,333.0 572.4,401.2 573.0,467.6 573.6,525.4 574.2,570.9 574.8,605.9 575.4,633.8 576.0,652.6 576.6,666.3 577.2,677.5 577.8,683.9 578.4,689.6 579.0,694.4 579.6,698.4 580.2,700.7 580.8,702.3 581.4,704.6 582.0,708.0 582.6,710.5 583.2,710.0 583.8,710.5 584.4,711.9 585.0,713.3 585.6,715.0 586.2,717.6 586.8,717.2 587.4,717.2 588.0,719.7 588.6,719.3 589.2,719.7 589.8,720.6 590.4,721.4 591.0,723.1 591.6,722.6 592.2,723.3 592.8,724.6 593.4,725.1 594.0,726.0 594.6,726.2 595.2,726.7 595.8,726.9 596.4,726.8 597.0,725.8 597.6,726.5 598.2,727.9 598.8,729.1 599.4,727.5 600.0,726.1 600.6,728.5 601.2,728.0 601.8,727.3 602.4,729.8 603.0,731.1 603.6,729.2 604.2,729.4 604.8,730.9 605.4,730.6 606.0,730.1 606.6,729.9 607.2,729.1 607.8,728.6 608.4,729.7 609.0,730.2 609.6,731.0 610.2,730.7 610.8,727.7 611.4,727.6 612.0,729.5 612.6,729.9 613.2,729.7 613.8,728.7 614.4,729.6 615.0,729.6 615.6,729.0 616.2,729.1 616.8,727.6 617.4,728.7 618.0,727.6 618.6,725.9 619.2,727.8 619.8,728.0 620.4,728.1 621.0,728.1 621.6,727.1 622.2,728.6 622.8,728.6 623.4,726.9 624.0,726.1 624.6,725.6 625.2,726.7 625.8,727.5 626.4,726.9 627.0,725.9 627.6,726.3 628.2,725.4 628.8,724.6 629.4,725.5 630.0,725.0 630.6,725.2 631.2,725.2 631.8,724.4 632.4,726.0 633.0,726.9 633.6,726.4 634.2,725.8 634.8,725.5 635.4,725.9 636.0,725.9 636.6,726.9 637.2,725.8 637.8,724.2 638.4,724.2 639.0,721.4 639.6,720.4 640.2,722.7 640.8,724.0 641.4,723.5 642.0,723.7 642.6,724.9 643.2,723.7 643.8,723.6 644.4,725.0 645.0,724.2"/>
<path stroke="#1478c8" d="M66.0,363.9 66.6,361.6 67.2,360.3 67.8,359.4 68.4,357.8 69.0,356.3 69.6,353.7 70.2,352.1 70.8,352.2 71.4,351.1 72.0,352.0 72.6,351.9 73.2,349.6 73.8,350.8 74.4,352.1 75.0,351.8 75.6,351.6 76.2,352.4 76.8,353.7 77.4,354.6 78.0,354.6 78.6,355.2 79.2,356.9 79.8,358.1 80.4,356.4 81.0,356.3 81.6,359.0 82.2,360.7 82.8,362.7 83.4,364.9 84.0,366.8 84.6,367.8 85.2,369.3 85.8,372.9 86.4,375.6 87.0,378.1 87.6,383.1 88.2,386.2 88.8,386.0 89.4,388.1 90.0,391.2 90.6,392.6 91.2,395.1 91.8,396.8 92.4,396.8 93.0,397.7 93.6,398.7 94.2,398.8 94.8,399.5 95.4,401.0 96.0,403.0 96.6,405.7 97.2,409.8 97.8,413.5 98.4,416.6 99.0,422.3 99.6,427.6 100.2,431.4 100.8,436.0 101.4,440.2 102.0,444.4 102.6,448.4 103.2,451.6 103.8,456.0 104.4,459.8 105.0,463.6 105.6,466.3 106.2,468.5 106.8,474.1 107.4,478.2 108.0,480.7 108.6,484.7 109.2,488.2 109.8,491.7 110.4,494.6 111.0,497.9 111.6,502.6 112.2,506.8 112.8,511.2 113.4,513.5 114.0,517.0 114.6,519.9 115.2,519.9 115.8,520.8 116.4,525.3 117.0,528.5 117.6,528.5 118.2,529.4 118.8,530.4 119.4,533.2 120.0,535.3 120.6,537.2 121.2,539.0 121.8,538.2 122.4,541.6 123.0,546.0 123.6,548.6 124.2,553.5 124.8,557.2 125.4,560.6 126.0,564.4 126.6,566.5 127.2,570.1 127.8,572.9 128.4,575.8 129.0,579.1 129.6,580.5 130.2,582.3 130.8,584.6 131.4,585.9 132.0,587.9 132.6,589.7 133.2,591.2 133.8,592.3 134.4,593.6 135.0,596.1 135.6,597.1 136.2,598.0 136.8,599.7 137.4,602.0 138.0,603.4 138.6,604.8 139.2,608.0 139.8,609.7 140.4,609.2 141.0,610.6 141.6,613.9 142.2,614.7 142.8,615.6 143.4,616.5 144.0,615.9 144.6,615.0 145.2,613.8 145.8,613.1 146.4,612.4 147.0,611.6 147.6,610.1 148.2,607.4 148.8,604.6 149.4,601.8 150.0,596.7 150.6,591.3 151.2,586.4 151.8,580.8 152.4,575.1 153.0,570.1 153.6,567.2 154.0,567.0 154.2,567.4 154.8,570.7 155.4,576.6 156.0,584.5 156.6,593.7 157.2,602.2 157.8,608.3 158.4,615.3 159.0,621.4 159.6,626.5 160.2,632.3 160.8,636.5 161.4,639.4 162.0,642.9 162.6,643.9 163.2,646.0 163.8,648.6 164.4,649.4 165.0,649.5 165.6,650.5 166.2,652.3 166.8,652.3 167.4,654.4 168.0,655.8 168.6,654.8 169.2,655.1 169.8,656.4 170.4,657.6 171.0,657.8 171.6,658.2 172.2,659.1 172.8,657.7 173.4,656.5 174.0,656.8 174.6,657.3 175.2,659.0 175.8,659.4 176.4,657.6 177.0,656.8 177.6,658.1 178.2,657.7 178.8,656.7 179.4,657.0 180.0,655.5 180.6,655.5 181.2,656.6 181.8,656.1 182.4,654.7 183.0,653.2 183.6,652.9 184.2,653.0 184.8,652.8 185.4,652.0 186.0,652.4 186.6,652.4 187.2,649.7 187.8,647.4 188.4,648.0 189.0,647.1 189.6,645.1 190.2,643.9 190.8,639.2 191.4,633.9 192.0,629.9 192.6,624.5 193.2,618.6 193.8,613.4 194.4,609.2 195.0,603.6 195.6,597.5 196.2,592.2 196.8,585.7 197.4,580.7 198.0,573.3 198.6,564.4 199.2,558.6 199.8,549.6 200.4,540.7 201.0,533.0 201.6,521.9 202.2,510.6 202.8,500.5 203.4,491.2 204.0,482.9 204.6,474.0 205.2,466.9 205.8,460.6 206.4,456.3 207.0,454.7 207.0,454.7 207.6,456.1 208.2,460.7 208.8,466.3 209.4,474.1 210.0,482.7 210.6,489.4 211.2,495.3 211.8,500.6 212.4,506.2 213.0,510.1 213.6,514.0 214.2,517.1 214.8,522.8 215.4,529.2 216.0,533.0 216.6,539.7 217.2,547.2 217.8,554.6 218.4,560.2 219.0,564.8 219.6,568.8 220.2,573.8 220.8,578.2 221.4,581.2 222.0,583.0 222.6,584.8 223.2,587.4 223.8,589.8 224.4,593.2 225.0,594.0 225.6,594.9 226.2,597.4 226.8,599.4 227.4,601.9 228.0,604.5 228.6,606.2 229.2,609.0 229.8,612.4 230.4,613.3 231.0,614.3 231.6,616.8 232.2,618.5 232.8,619.3 233.4,621.1 234.0,623.0 234.6,623.5 235.2,623.1 235.8,624.3 236.4,625.9 237.0,624.5 237.6,623.4 238.2,624.7 238.8,624.4 239.4,624.1 240.0,624.8 240.6,624.2 241.2,624.2 241.8,623.7 242.4,623.6 243.0,623.5 243.6,625.6 244.2,628.2 244.8,627.6 245.4,627.0 246.0,627.2 246.6,628.2 247.2,628.5 247.8,628.7 248.4,627.8 249.0,627.9 249.6,628.7 250.2,628.0 250.8,628.2 251.4,629.8 252.0,631.9 252.6,631.3 253.2,632.4 253.8,635.0 254.4,634.1 255.0,633.4 255.6,634.2 256.2,635.9 256.8,636.3 257.4,635.4 258.0,636.5 258.6,636.5 259.2,636.9 259.8,639.7 260.4,640.4 261.0,640.7 261.6,641.3 262.2,641.9 262.8,642.2 263.4,641.7 264.0,642.1 264.6,643.2 265.2,644.9 265.8,646.8 266.4,646.9 267.0,645.9 267.6,645.8 268.2,646.9 268.8,649.1 269.4,650.2 270.0,649.8 270.6,649.8 271.2,651.1 271.8,652.5 272.4,652.5 273.0,653.1 273.6,654.9 274.2,655.3 274.8,655.9 275.4,657.5 276.0,656.9 276.6,657.2 277.2,657.5 277.8,656.8 278.4,657.1 279.0,657.4 279.6,658.3 280.2,659.2 280.8,659.5 281.4,660.3 282.0,657.9 282.6,657.8 283.2,658.9 283.8,658.9 284.4,659.7 285.0,659.8 285.6,661.5 286.2,660.3 286.8,659.5 287.4,660.7 288.0,659.1 288.6,659.5 289.2,660.7 289.8,659.6 290.4,658.7 291.0,661.0 291.6,660.8 292.2,656.8 292.8,655.9 293.4,656.3 294.0,656.0 294.6,655.5 295.2,654.3 295.8,653.9 296.4,653.4 297.0,651.1 297.6,649.7 298.2,649.2 298.8,649.0 299.4,648.2 300.0,645.8 300.6,643.7 301.2,642.2 301.8,641.5 302.4,638.7 303.0,635.2 303.6,633.5 304.2,629.8 304.8,626.7 305.4,624.6 306.0,621.6 306.6,619.4 307.2,618.1 307.8,616.5 308.4,615.5 308.5,615.5 309.0,615.9 309.6,616.8 310.2,617.3 310.8,620.1 311.4,622.2 312.0,624.3 312.6,626.6 313.2,628.9 313.8,631.7 314.4,633.0 315.0,634.1 315.6,635.8 316.2,636.9 316.8,638.3 317.4,639.0 318.0,640.8 318.6,643.9 319.2,646.0 319.8,647.4 320.4,647.5 321.0,649.9 321.6,652.4 322.2,653.7 322.8,657.8 323.4,659.5 324.0,661.0 324.6,663.9 325.2,665.0 325.8,665.7 326.4,667.1 327.0,668.0 327.6,668.7 328.2,670.2 328.8,668.8 329.4,667.8 330.0,668.8 330.6,668.6 331.2,668.2 331.8,669.3 332.4,670.1 333.0,669.0 333.6,669.0 334.2,670.6 334.8,670.3 335.4,669.4 336.0,671.4 336.6,673.0 337.2,670.7 337.8,668.7 338.4,669.8 339.0,669.6 339.6,668.8 340.2,668.9 340.8,669.1 341.4,667.2 342.0,664.9 342.6,665.5 343.2,667.4 343.8,668.0 344.4,666.0 345.0,666.5 345.6,668.3 346.2,667.9 346.8,667.4 347.4,668.1 348.0,669.5 348.6,669.6 349.2,669.5 349.8,669.8 350.4,669.6 351.0,669.4 351.6,670.3 352.2,671.2 352.8,671.4 353.4,672.7 354.0,673.7 354.6,674.2 355.2,673.2 355.8,673.5 356.4,674.6 357.0,674.1 357.6,674.4 358.2,676.2 358.8,677.7 359.4,676.7 360.0,675.7 360.6,676.6 361.2,677.5 361.8,679.0 362.4,678.7 363.0,676.6 363.6,677.8 364.2,679.5 364.8,680.1 365.4,680.9 366.0,682.6 366.6,682.1 367.2,680.5 367.8,679.7 368.4,680.4 369.0,682.4 369.6,682.1 370.2,682.5 370.8,682.8 371.4,683.1 372.0,683.4 372.6,681.6 373.2,681.0 373.8,680.7 374.4,679.9 375.0,681.2 375.6,683.0 376.2,684.2 376.8,683.6 377.4,682.0 378.0,681.3 378.6,682.1 379.2,683.1 379.8,682.0 380.4,682.2 381.0,683.0 381.6,681.2 382.2,681.4 382.8,682.8 383.4,682.0 384.0,681.6 384.6,683.2 385.2,684.6 385.8,684.7 386.4,682.9 387.0,681.2 387.6,682.8 388.2,682.5 388.8,681.5 389.4,681.3 390.0,683.3 390.6,685.6 391.2,685.0 391.8,685.1 392.4,685.2 393.0,685.6 393.6,687.2 394.2,688.0 394.8,689.5 395.4,690.7 396.0,690.4 396.6,692.9 397.2,695.0 397.8,696.2 398.4,698.0 399.0,698.0 399.6,700.6 400.2,703.0 400.8,705.0 401.4,706.2 402.0,705.2 402.6,707.2 403.2,709.5 403.8,710.0 404.4,709.5 405.0,710.6 405.6,710.9 406.2,710.5 406.8,711.4 407.4,711.8 408.0,713.4 408.6,713.5 409.2,713.7 409.8,714.9 410.4,713.6 411.0,712.6 411.6,713.8 412.2,714.4 412.8,715.2 413.4,714.5 414.0,715.0 414.6,717.1 415.2,716.7 415.8,715.4 416.4,715.8 417.0,716.6 417.6,717.1 418.2,717.6 418.8,717.9 419.4,717.9 420.0,718.6 420.6,717.4 421.2,715.9 421.8,718.0 422.4,717.8 423.0,718.1 423.6,718.5 424.2,718.2 424.8,718.6 425.4,718.3 426.0,719.2 426.6,719.6 427.2,719.4 427.8,721.1 428.4,721.5 429.0,719.5 429.6,720.3 430.2,721.7 430.8,722.0 431.4,722.8 432.0,721.5 432.6,721.1 433.2,722.7 433.8,722.2 434.4,721.7 435.0,719.8 435.6,719.3 436.2,722.9 436.8,722.2 437.4,720.7 438.0,722.4 438.6,723.3 439.2,724.4 439.8,723.0 440.4,722.0 441.0,724.0 441.6,723.2 442.2,722.8 442.8,725.2 443.4,726.3 444.0,725.5 444.6,723.0 445.2,722.7 445.8,724.9 446.4,725.0 447.0,724.8 447.6,727.3 448.2,727.4 448.8,724.7 449.4,725.2 450.0,725.8 450.6,725.6 451.2,725.9 451.8,726.9 452.4,727.3 453.0,726.0 453.6,725.9 454.2,727.3 454.8,727.2 455.4,727.8 456.0,728.9 456.6,727.5 457.2,727.4 457.8,729.6 458.4,730.7 459.0,729.4 459.6,729.1 460.2,728.8 460.8,727.4 461.4,728.4 462.0,729.7 462.6,729.9 463.2,729.8 463.8,729.9 464.4,729.7 465.0,730.0 465.6,731.1 466.2,730.9 466.8,731.0 467.4,730.0 468.0,729.0 468.6,731.5 469.2,733.4 469.8,732.7 470.4,731.6 471.0,730.7 471.6,731.2 472.2,732.8 472.8,731.7 473.4,731.7 474.0,733.3 474.6,733.4 475.2,732.4 475.8,732.6 476.4,732.6 477.0,733.4 477.6,734.7 478.2,733.0 478.8,734.1 479.4,735.9 480.0,734.6 480.6,735.6 481.2,735.5 481.8,734.4 482.4,736.1 483.0,734.4 483.6,734.5 484.2,736.2 484.8,735.7 485.4,735.2 486.0,735.6 486.6,735.8 487.2,735.1 487.8,735.7 488.4,735.7 489.0,737.3 489.6,737.5 490.2,736.0 490.8,736.9 491.4,737.7 492.0,738.6 492.6,739.4 493.2,738.9 493.8,738.2 494.4,738.7 495.0,739.7 495.6,740.4 496.2,739.6 496.8,737.9 497.4,740.0 498.0,742.3 498.6,741.2 499.2,741.0 499.8,740.6 500.4,739.9 501.0,740.3 501.6,741.0 502.2,741.0 502.8,740.4 503.4,740.8 504.0,742.4 504.6,742.5 505.2,742.3 505.8,741.4 506.4,741.5 507.0,743.0 507.6,742.5 508.2,741.6 508.8,743.0 509.4,743.8 510.0,744.1 510.6,744.6 511.2,744.9 511.8,745.1 512.4,743.8 513.0,744.2 513.6,745.2 514.2,746.0 514.8,746.1 515.4,745.5 516.0,746.7 516.6,747.9 517.2,748.1 517.8,748.2 518.4,748.1 519.0,748.1 519.6,748.6 520.2,748.6 520.8,748.2 521.4,748.2 522.0,750.0 522.6,750.1 523.2,748.4 523.8,748.3 524.4,748.6 525.0,749.2 525.6,748.6 526.2,747.2 526.8,748.4 527.4,748.8 528.0,749.0 528.6,750.4 529.2,751.2 529.8,752.4 530.4,752.1 531.0,750.7 531.6,749.8 532.2,749.8 532.8,750.9 533.4,750.1 534.0,750.4 534.6,752.0 535.2,752.5 535.8,752.5 536.4,752.3 537.0,752.1 537.6,751.9 538.2,751.3 538.8,751.8 539.4,754.3 540.0,754.4 540.6,753.7 541.2,753.0 541.8,753.8 542.4,754.0 543.0,753.6 543.6,754.2 544.2,753.0 544.8,754.6 545.4,756.7 546.0,757.6 546.6,756.3 547.2,754.5 547.8,752.8 548.4,753.0 549.0,752.8 549.6,752.2 550.2,751.8 550.8,750.3 551.4,750.0 552.0,750.2 552.6,750.3 553.2,750.9 553.8,749.2 554.4,747.8 555.0,746.8 555.6,745.2 556.2,745.6 556.8,743.8 557.4,741.9 558.0,742.4 558.6,742.5 559.2,740.8 559.8,738.5 560.4,738.0 561.0,736.0 561.6,731.1 562.2,729.0 562.8,725.9 563.4,719.3 564.0,713.0 564.6,704.3 565.2,691.6 565.8,674.3 566.4,649.4 567.0,617.5 567.6,575.6 568.2,520.7 568.8,456.2 569.4,387.9 570.0,327.1 570.6,296.8 570.7,296.1 571.2,312.4 571.8,364.9 572.4,433.3 573.0,501.1 573.6,558.6 574.2,605.1 574.8,640.2 575.4,666.0 576.0,685.9 576.6,698.9 577.2,708.8 577.8,717.4 578.4,722.2 579.0,726.6 579.6,730.2 580.2,731.2 580.8,734.0 581.4,737.0 582.0,738.4 582.6,740.0 583.2,742.1 583.8,743.7 584.4,743.5 585.0,744.6 585.6,746.7 586.2,746.9 586.8,747.1 587.4,748.2 588.0,749.0 588.6,750.3 589.2,752.2 589.8,754.0 590.4,754.8 591.0,754.9 591.6,755.4 592.2,756.1 592.8,755.6 593.4,755.5 594.0,756.4 594.6,756.2 595.2,756.0 595.8,756.0 596.4,756.5 597.0,756.3 597.6,757.1 598.2,758.2 598.8,758.2 599.4,758.7 600.0,759.4 600.6,759.0 601.2,758.6 601.8,758.1 602.4,756.8 603.0,756.7 603.6,759.5 604.2,759.8 604.8,759.2 605.4,761.6 606.0,761.1 606.6,761.3 607.2,763.0 607.8,762.6 608.4,763.0 609.0,762.8 609.6,760.6 610.2,760.6 610.8,760.7 611.4,759.4 612.0,758.8 612.6,761.3 613.2,761.7 613.8,760.0 614.4,759.9 615.0,759.9 615.6,760.1 616.2,759.6 616.8,758.8 617.4,758.0 618.0,758.2 618.6,759.3 619.2,761.1 619.8,761.5 620.4,761.2 621.0,760.7 621.6,759.2 622.2,757.9 622.8,757.8 623.4,757.1 624.0,756.8 624.6,759.3 625.2,759.7 625.8,759.2 626.4,758.7 627.0,756.8 627.6,756.6 628.2,757.2 628.8,758.3 629.4,759.9 630.0,758.4 630.6,756.7 631.2,757.0 631.8,756.9 632.4,756.1 633.0,756.3 633.6,757.3 634.2,757.4 634.8,756.2 635.4,755.8 636.0,755.3 636.6,756.0 637.2,756.4 637.8,755.4 638.4,755.7 639.0,755.4 639.6,754.9 640.2,754.0 640.8,755.9 641.4,757.2 642.0,756.1 642.6,757.2 643.2,756.9 643.8,755.7 644.4,755.7 645.0,756.1"/>
<path stroke="#0000c0" d="M66.0,391.1 66.6,387.8 67.2,385.5 67.8,385.4 68.4,384.2 69.0,382.2 69.6,382.2 70.2,382.4 70.8,381.1 71.4,380.8 72.0,379.5 72.6,379.5 73.2,379.6 73.8,379.5 74.4,381.0 75.0,382.1 75.6,382.8 76.2,383.2 76.8,385.3 77.4,386.3 78.0,384.7 78.6,384.9 79.2,386.2 79.8,387.4 80.4,388.5 81.0,389.1 81.6,391.8 82.2,393.7 82.8,393.6 83.4,394.8 84.0,396.5 84.6,399.4 85.2,401.8 85.8,403.9 86.4,404.4 87.0,407.4 87.6,413.8 88.2,418.0 88.8,419.6 89.4,419.2 90.0,421.5 90.6,424.0 91.2,423.9 91.8,425.1 92.4,428.0 93.0,430.0 93.6,430.2 94.2,429.2 94.8,431.3 95.4,432.6 96.0,433.2 96.6,436.3 97.2,441.1 97.8,446.4 98.4,450.1 99.0,453.9 99.6,457.8 100.2,462.6 100.8,465.9 101.4,470.6 102.0,476.6 102.6,479.5 103.2,482.7 103.8,486.9 104.4,491.7 105.0,495.5 105.6,498.0 106.2,500.9 106.8,503.3 107.4,506.8 108.0,511.5 108.6,515.3 109.2,519.0 109.8,523.4 110.4,527.4 111.0,530.7 111.6,534.4 112.2,537.8 112.8,540.7 113.4,544.0 114.0,545.8 114.6,549.1 115.2,551.9 115.8,553.8 116.4,556.5 117.0,558.4 117.6,559.8 118.2,559.7 118.8,561.7 119.4,563.7 120.0,564.5 120.6,565.9 121.2,568.3 121.8,570.9 122.4,572.9 123.0,574.2 123.6,577.0 124.2,581.7 124.8,586.8 125.4,590.6 126.0,592.8 126.6,596.8 127.2,599.8 127.8,601.7 128.4,604.1 129.0,605.3 129.6,607.9 130.2,611.2 130.8,612.2 131.4,612.9 132.0,615.0 132.6,618.4 133.2,619.5 133.8,619.3 134.4,621.6 135.0,622.8 135.6,622.4 136.2,624.7 136.8,627.3 137.4,628.9 138.0,630.4 138.6,632.4 139.2,634.3 139.8,635.3 140.4,636.8 141.0,639.3 141.6,641.7 142.2,643.0 142.8,643.6 143.4,641.1 144.0,639.9 144.6,641.7 145.2,642.1 145.8,640.5 146.4,640.5 147.0,640.6 147.6,637.7 148.2,635.7 148.8,633.5 149.4,629.9 150.0,626.9 150.6,622.8 151.2,616.7 151.8,611.3 152.4,606.6 153.0,602.0 153.6,599.7 154.0,599.5 154.2,599.9 154.8,604.0 155.4,609.4 156.0,616.4 156.6,625.5 157.2,633.0 157.8,638.6 158.4,645.2 159.0,653.1 159.6,657.1 160.2,660.6 160.8,665.6 161.4,668.5 162.0,671.0 162.6,673.2 163.2,675.8 163.8,677.9 164.4,677.9 165.0,679.7 165.6,680.6 166.2,681.0 166.8,682.9 167.4,684.1 168.0,685.0 168.6,685.6 169.2,686.0 169.8,686.5 170.4,687.3 171.0,688.5 171.6,688.2 172.2,687.9 172.8,688.9 173.4,688.4 174.0,687.9 174.6,688.1 175.2,687.5 175.8,686.2 176.4,687.6 177.0,687.4 177.6,687.7 178.2,688.4 178.8,687.3 179.4,687.3 180.0,687.1 180.6,686.5 181.2,685.5 181.8,685.2 182.4,685.7 183.0,686.0 183.6,685.6 184.2,684.4 184.8,682.7 185.4,680.6 186.0,680.4 186.6,681.3 187.2,679.6 187.8,678.6 188.4,678.7 189.0,677.0 189.6,675.1 190.2,672.7 190.8,667.4 191.4,662.9 192.0,659.3 192.6,655.0 193.2,649.5 193.8,643.4 194.4,637.8 195.0,632.6 195.6,627.9 196.2,623.3 196.8,618.1 197.4,611.3 198.0,604.2 198.6,596.8 199.2,588.9 199.8,581.5 200.4,570.9 201.0,560.3 201.6,552.2 202.2,542.6 202.8,531.8 203.4,522.0 204.0,514.3 204.6,505.3 205.2,496.4 205.8,490.6 206.4,487.3 207.0,486.2 207.0,486.2 207.6,487.8 208.2,492.5 208.8,497.6 209.4,504.5 210.0,511.8 210.6,519.3 211.2,527.3 211.8,532.2 212.4,536.5 213.0,540.1 213.6,543.6 214.2,549.9 214.8,553.5 215.4,558.4 216.0,566.3 216.6,570.7 217.2,575.4 217.8,582.3 218.4,589.6 219.0,594.7 219.6,597.9 220.2,602.3 220.8,605.8 221.4,608.6 222.0,611.1 222.6,614.4 223.2,616.6 223.8,619.4 224.4,622.0 225.0,622.5 225.6,625.4 226.2,628.4 226.8,628.8 227.4,630.8 228.0,633.4 228.6,634.8 229.2,638.4 229.8,640.3 230.4,641.9 231.0,644.0 231.6,646.7 232.2,648.3 232.8,647.4 233.4,647.8 234.0,648.8 234.6,650.2 235.2,651.2 235.8,652.0 236.4,652.4 237.0,652.0 237.6,652.3 238.2,652.3 238.8,652.5 239.4,653.3 240.0,653.8 240.6,653.0 241.2,651.4 241.8,651.3 242.4,652.9 243.0,651.8 243.6,651.4 244.2,653.6 244.8,653.8 245.4,652.9 246.0,654.8 246.6,656.9 247.2,655.9 247.8,656.3 248.4,657.8 249.0,656.6 249.6,658.1 250.2,658.7 250.8,657.2 251.4,657.7 252.0,658.6 252.6,659.0 253.2,659.6 253.8,661.9 254.4,662.8 255.0,662.5 255.6,664.1 256.2,664.3 256.8,664.6 257.4,665.6 258.0,665.8 258.6,666.7 259.2,667.2 259.8,667.8 260.4,667.8 261.0,668.0 261.6,669.4 262.2,670.3 262.8,669.9 263.4,670.1 264.0,671.1 264.6,672.3 265.2,673.6 265.8,674.4 266.4,674.6 267.0,675.2 267.6,675.5 268.2,674.2 268.8,675.9 269.4,677.5 270.0,677.7 270.6,678.7 271.2,680.6 271.8,681.3 272.4,681.8 273.0,683.0 273.6,682.6 274.2,682.5 274.8,684.3 275.4,686.3 276.0,687.1 276.6,688.7 277.2,688.9 277.8,688.3 278.4,688.5 279.0,688.8 279.6,689.0 280.2,688.7 280.8,690.6 281.4,690.2 282.0,689.2 282.6,691.0 283.2,691.2 283.8,690.4 284.4,690.4 285.0,690.9 285.6,690.4 286.2,690.8 286.8,691.3 287.4,691.0 288.0,691.7 288.6,691.2 289.2,690.9 289.8,691.0 290.4,690.6 291.0,690.7 291.6,690.2 292.2,689.0 292.8,687.8 293.4,687.3 294.0,687.4 294.6,687.8 295.2,687.7 295.8,686.0 296.4,684.4 297.0,682.7 297.6,680.0 298.2,679.3 298.8,679.1 299.4,677.2 300.0,674.9 300.6,674.7 301.2,673.5 301.8,669.9 302.4,669.8 303.0,668.6 303.6,664.3 304.2,662.0 304.8,658.9 305.4,656.7 306.0,653.7 306.6,649.9 307.2,648.9 307.8,648.0 308.4,647.5 308.5,647.5 309.0,647.4 309.6,648.2 310.2,650.1 310.8,652.3 311.4,654.3 312.0,657.2 312.6,659.0 313.2,659.9 313.8,662.8 314.4,664.4 315.0,665.4 315.6,666.9 316.2,668.1 316.8,669.0 317.4,670.3 318.0,671.2 318.6,673.0 319.2,674.4 319.8,677.2 320.4,681.5 321.0,683.0 321.6,684.0 322.2,685.2 322.8,688.6 323.4,691.4 324.0,693.2 324.6,694.6 325.2,696.7 325.8,698.1 326.4,698.5 327.0,698.4 327.6,698.2 328.2,700.0 328.8,700.4 329.4,700.0 330.0,701.1 330.6,701.6 331.2,702.1 331.8,700.7 332.4,700.4 333.0,702.6 333.6,701.2 334.2,700.1 334.8,701.9 335.4,702.2 336.0,701.3 336.6,702.5 337.2,702.6 337.8,702.3 338.4,701.7 339.0,701.2 339.6,702.2 340.2,701.8 340.8,699.1 341.4,698.9 342.0,700.1 342.6,698.7 343.2,699.3 343.8,698.5 344.4,698.8 345.0,699.6 345.6,699.4 346.2,700.0 346.8,698.2 347.4,698.5 348.0,700.0 348.6,700.6 349.2,701.5 349.8,700.9 350.4,700.9 351.0,702.4 351.6,702.3 352.2,701.6 352.8,701.6 353.4,703.3 354.0,705.0 354.6,704.4 355.2,703.4 355.8,705.3 356.4,705.6 357.0,705.3 357.6,706.2 358.2,705.3 358.8,706.3 359.4,707.7 360.0,709.0 360.6,711.1 361.2,710.3 361.8,709.8 362.4,711.0 363.0,710.3 363.6,709.3 364.2,711.1 364.8,711.8 365.4,711.0 366.0,711.3 366.6,711.5 367.2,711.5 367.8,712.3 368.4,713.8 369.0,713.1 369.6,711.4 370.2,711.8 370.8,711.8 371.4,711.5 372.0,713.4 372.6,715.5 373.2,715.0 373.8,712.7 374.4,713.0 375.0,712.1 375.6,711.1 376.2,713.7 376.8,714.7 377.4,712.6 378.0,710.9 378.6,712.5 379.2,713.5 379.8,712.5 380.4,712.8 381.0,712.8 381.6,711.1 382.2,712.1 382.8,713.0 383.4,711.7 384.0,711.2 384.6,712.1 385.2,712.5 385.8,712.8 386.4,713.2 387.0,713.6 387.6,713.6 388.2,712.4 388.8,711.5 389.4,711.3 390.0,713.3 390.6,716.5 391.2,715.5 391.8,713.3 392.4,715.1 393.0,717.0 393.6,717.2 394.2,717.9 394.8,718.2 395.4,719.0 396.0,721.9 396.6,724.5 397.2,725.3 397.8,725.7 398.4,728.0 399.0,730.9 399.6,732.9 400.2,733.4 400.8,734.9 401.4,737.4 402.0,737.6 402.6,736.8 403.2,738.3 403.8,740.2 404.4,741.1 405.0,741.4 405.6,741.3 406.2,742.9 406.8,744.6 407.4,744.1 408.0,743.3 408.6,742.4 409.2,743.9 409.8,743.7 410.4,743.2 411.0,743.9 411.6,745.2 412.2,746.1 412.8,745.0 413.4,745.6 414.0,746.2 414.6,745.5 415.2,746.7 415.8,747.7 416.4,748.1 417.0,748.6 417.6,748.1 418.2,747.6 418.8,746.4 419.4,747.0 420.0,748.0 420.6,748.1 421.2,748.2 421.8,747.4 422.4,746.9 423.0,748.0 423.6,749.7 424.2,749.2 424.8,748.8 425.4,750.1 426.0,749.3 426.6,748.2 427.2,748.2 427.8,749.4 428.4,750.5 429.0,749.5 429.6,748.3 430.2,748.6 430.8,750.6 431.4,750.6 432.0,749.8 432.6,750.6 433.2,750.2 433.8,749.9 434.4,751.3 435.0,750.9 435.6,750.1 436.2,751.0 436.8,751.6 437.4,751.5 438.0,751.8 438.6,752.3 439.2,751.7 439.8,751.2 440.4,752.4 441.0,753.8 441.6,754.6 442.2,753.3 442.8,753.3 443.4,754.6 444.0,754.0 444.6,754.0 445.2,754.7 445.8,755.8 446.4,754.6 447.0,754.0 447.6,754.7 448.2,754.3 448.8,755.4 449.4,756.3 450.0,754.9 450.6,754.3 451.2,755.3 451.8,754.7 452.4,755.3 453.0,756.4 453.6,756.1 454.2,756.5 454.8,757.8 455.4,757.8 456.0,756.4 456.6,757.8 457.2,757.8 457.8,756.4 458.4,755.9 459.0,757.2 459.6,758.5 460.2,758.3 460.8,758.4 461.4,758.1 462.0,757.6 462.6,757.3 463.2,758.3 463.8,759.1 464.4,760.1 465.0,759.6 465.6,758.3 466.2,758.3 466.8,759.8 467.4,759.8 468.0,759.5 468.6,761.5 469.2,761.1 469.8,760.8 470.4,759.5 471.0,758.9 471.6,759.4 472.2,760.0 472.8,761.3 473.4,760.8 474.0,761.6 474.6,762.6 475.2,761.7 475.8,761.3 476.4,760.8 477.0,761.2 477.6,763.9 478.2,763.7 478.8,762.7 479.4,763.0 480.0,763.4 480.6,764.3 481.2,763.8 481.8,762.4 482.4,762.4 483.0,764.6 483.6,765.0 484.2,764.8 484.8,764.8 485.4,763.3 486.0,764.1 486.6,765.8 487.2,765.3 487.8,765.0 488.4,765.8 489.0,765.9 489.6,766.1 490.2,766.6 490.8,764.9 491.4,765.2 492.0,766.6 492.6,766.3 493.2,767.3 493.8,767.7 494.4,768.0 495.0,769.3 495.6,769.3 496.2,767.7 496.8,767.3 497.4,769.3 498.0,769.8 498.6,768.8 499.2,769.2 499.8,770.3 500.4,770.8 501.0,771.2 501.6,770.6 502.2,770.2 502.8,770.9 503.4,771.3 504.0,770.3 504.6,770.3 505.2,771.1 505.8,772.5 506.4,774.7 507.0,775.3 507.6,776.2 508.2,776.1 508.8,776.4 509.4,775.7 510.0,774.6 510.6,774.2 511.2,773.6 511.8,774.8 512.4,776.6 513.0,776.5 513.6,777.1 514.2,779.3 514.8,777.0 515.4,775.4 516.0,775.8 516.6,776.0 517.2,776.5 517.8,776.8 518.4,778.0 519.0,778.9 519.6,778.7 520.2,778.3 520.8,778.4 521.4,778.7 522.0,779.2 522.6,779.3 523.2,779.5 523.8,778.8 524.4,779.2 525.0,781.5 525.6,781.3 526.2,779.3 526.8,780.3 527.4,781.3 528.0,778.5 528.6,778.8 529.2,781.5 529.8,782.1 530.4,782.7 531.0,783.1 531.6,782.6 532.2,781.0 532.8,780.3 533.4,782.0 534.0,783.5 534.6,782.9 535.2,782.2 535.8,783.4 536.4,782.7 537.0,781.2 537.6,782.5 538.2,784.2 538.8,784.2 539.4,782.5 540.0,783.0 540.6,783.8 541.2,784.3 541.8,785.3 542.4,785.0 543.0,785.6 543.6,785.1 544.2,785.2 544.8,786.4 545.4,786.1 546.0,786.1 546.6,785.3 547.2,784.9 547.8,785.4 548.4,783.9 549.0,783.5 549.6,783.5 550.2,782.9 550.8,783.0 551.4,783.7 552.0,783.0 552.6,781.9 553.2,780.6 553.8,780.0 554.4,781.2 555.0,781.0 555.6,779.8 556.2,778.0 556.8,776.1 557.4,775.4 558.0,774.0 558.6,772.0 559.2,772.0 559.8,770.5 560.4,769.0 561.0,766.2 561.6,762.5 562.2,759.2 562.8,754.9 563.4,749.8 564.0,743.0 564.6,734.5 565.2,721.8 565.8,704.9 566.4,682.1 567.0,648.9 567.6,605.8 568.2,552.2 568.8,487.3 569.4,418.6 570.0,356.8 570.6,326.4 570.7,325.7 571.2,341.8 571.8,395.1 572.4,465.5 573.0,532.8 573.6,589.3 574.2,636.1 574.8,670.3 575.4,696.2 576.0,716.7 576.6,730.2 577.2,739.0 577.8,746.5 578.4,750.8 579.0,754.2 579.6,759.0 580.2,762.9 580.8,764.5 581.4,766.1 582.0,768.5 582.6,770.3 583.2,772.4 583.8,773.9 584.4,774.7 585.0,774.8 585.6,775.1 586.2,777.3 586.8,777.9 587.4,778.7 588.0,780.3 588.6,780.3 589.2,782.0 589.8,782.8 590.4,782.4 591.0,783.1 591.6,784.3 592.2,787.1 592.8,786.1 593.4,784.6 594.0,786.2 594.6,787.2 595.2,787.5 595.8,785.4 596.4,786.9 597.0,788.1 597.6,787.5 598.2,787.5 598.8,787.1 599.4,787.9 600.0,789.5 600.6,790.6 601.2,789.8 601.8,789.8 602.4,790.1 603.0,790.0 603.6,790.6 604.2,791.0 604.8,790.6 605.4,790.2 606.0,790.9 606.6,791.2 607.2,790.5 607.8,791.7 608.4,792.0 609.0,791.3 609.6,791.8 610.2,792.1 610.8,790.4 611.4,791.0 612.0,792.3 612.6,789.9 613.2,790.1 613.8,792.4 614.4,792.6 615.0,790.1 615.6,789.3 616.2,791.0 616.8,790.2 617.4,789.0 618.0,789.7 618.6,791.2 619.2,791.0 619.8,790.3 620.4,789.9 621.0,788.3 621.6,789.3 622.2,790.2 622.8,788.2 623.4,788.0 624.0,789.6 624.6,788.6 625.2,788.2 625.8,788.7 626.4,788.1 627.0,787.4 627.6,787.2 628.2,787.3 628.8,786.8 629.4,786.8 630.0,786.6 630.6,786.6 631.2,787.5 631.8,786.6 632.4,787.1 633.0,789.1 633.6,789.3 634.2,786.9 634.8,786.8 635.4,787.8 636.0,786.8 636.6,786.1 637.2,786.0 637.8,787.3 638.4,787.6 639.0,786.2 639.6,785.3 640.2,785.2 640.8,785.9 641.4,787.4 642.0,786.2 642.6,784.8 643.2,785.2 643.8,784.5 644.4,785.0 645.0,785.8"/>
<path stroke="#5858f6" d="M66.0,437.6 66.6,434.9 67.2,432.3 67.8,431.1 68.4,429.5 69.0,427.0 69.6,426.2 70.2,426.5 70.8,424.8 71.4,424.1 72.0,424.8 72.6,423.3 73.2,423.0 73.8,423.9 74.4,424.8 75.0,425.9 75.6,425.2 76.2,424.5 76.8,426.8 77.4,428.8 78.0,429.4 78.6,430.6 79.2,432.6 79.8,432.8 80.4,433.8 81.0,435.5 81.6,436.7 82.2,439.7 82.8,439.9 83.4,441.0 84.0,443.7 84.6,445.3 85.2,447.7 85.8,449.8 86.4,452.5 87.0,457.5 87.6,462.5 88.2,465.0 88.8,465.9 89.4,470.2 90.0,474.1 90.6,474.7 91.2,474.8 91.8,475.5 92.4,477.4 93.0,477.8 93.6,479.2 94.2,480.5 94.8,480.5 95.4,481.0 96.0,482.4 96.6,485.8 97.2,490.3 97.8,494.6 98.4,498.1 99.0,502.4 99.6,507.1 100.2,512.5 100.8,516.6 101.4,518.8 102.0,522.8 102.6,528.2 103.2,531.5 103.8,534.1 104.4,537.7 105.0,541.4 105.6,545.2 106.2,547.7 106.8,550.7 107.4,555.2 108.0,559.4 108.6,562.8 109.2,566.2 109.8,568.8 110.4,571.4 111.0,575.8 111.6,578.6 112.2,581.2 112.8,583.9 113.4,586.7 114.0,590.3 114.6,592.3 115.2,595.5 115.8,597.9 116.4,599.0 117.0,600.9 117.6,601.9 118.2,604.3 118.8,605.7 119.4,606.1 120.0,606.8 120.6,607.8 121.2,610.2 121.8,612.3 122.4,614.7 123.0,617.9 123.6,622.6 124.2,625.9 124.8,628.3 125.4,631.8 126.0,637.1 126.6,641.9 127.2,643.6 127.8,645.6 128.4,647.0 129.0,648.6 129.6,651.3 130.2,653.5 130.8,654.6 131.4,655.8 132.0,658.5 132.6,661.0 133.2,660.8 133.8,662.2 134.4,666.1 135.0,667.1 135.6,667.9 136.2,668.8 136.8,670.7 137.4,672.4 138.0,672.5 138.6,674.5 139.2,678.6 139.8,680.1 140.4,679.3 141.0,681.6 141.6,684.0 142.2,685.9 142.8,685.6 143.4,683.7 144.0,684.3 144.6,685.3 145.2,685.2 145.8,684.9 146.4,682.7 147.0,680.1 147.6,679.4 148.2,678.4 148.8,676.2 149.4,672.3 150.0,667.6 150.6,663.9 151.2,659.9 151.8,655.0 152.4,648.5 153.0,643.0 153.6,639.8 154.0,639.5 154.2,639.9 154.8,642.9 155.4,648.5 156.0,655.7 156.6,663.9 157.2,671.5 157.8,679.0 158.4,685.6 159.0,690.8 159.6,696.8 160.2,701.4 160.8,704.3 161.4,707.3 162.0,709.9 162.6,712.4 163.2,713.4 163.8,715.1 164.4,717.9 165.0,719.0 165.6,718.6 166.2,717.6 166.8,718.4 167.4,720.3 168.0,721.8 168.6,722.2 169.2,721.9 169.8,723.5 170.4,723.7 171.0,723.8 171.6,725.2 172.2,723.8 172.8,723.6 173.4,724.2 174.0,723.5 174.6,722.7 175.2,722.3 175.8,723.8 176.4,724.5 177.0,724.2 177.6,723.6 178.2,723.0 178.8,723.3 179.4,722.2 180.0,720.9 180.6,721.9 181.2,722.8 181.8,721.4 182.4,720.8 183.0,721.4 183.6,722.1 184.2,720.5 184.8,719.0 185.4,720.3 186.0,719.2 186.6,717.9 187.2,715.2 187.8,714.2 188.4,714.9 189.0,711.4 189.6,710.3 190.2,709.8 190.8,706.7 191.4,702.9 192.0,697.6 192.6,691.4 193.2,685.9 193.8,681.0 194.4,676.1 195.0,670.3 195.6,664.7 196.2,660.4 196.8,655.0 197.4,649.7 198.0,644.2 198.6,634.6 199.2,625.0 199.8,616.7 200.4,607.4 201.0,599.3 201.6,589.5 202.2,578.1 202.8,568.8 203.4,560.8 204.0,551.8 204.6,542.8 205.2,536.0 205.8,530.2 206.4,526.1 207.0,524.7 207.0,524.7 207.6,526.0 208.2,530.1 208.8,536.6 209.4,544.7 210.0,551.1 210.6,558.5 211.2,564.6 211.8,569.9 212.4,575.4 213.0,578.2 213.6,581.2 214.2,585.8 214.8,591.3 215.4,596.6 216.0,603.3 216.6,609.3 217.2,615.5 217.8,622.7 218.4,627.1 219.0,632.1 219.6,636.5 220.2,638.3 220.8,642.1 221.4,646.8 222.0,650.7 222.6,653.2 223.2,656.2 223.8,659.9 224.4,662.0 225.0,664.1 225.6,665.9 226.2,666.8 226.8,669.3 227.4,672.5 228.0,674.5 228.6,675.8 229.2,676.6 229.8,679.3 230.4,682.5 231.0,682.9 231.6,684.4 232.2,687.2 232.8,688.4 233.4,689.5 234.0,690.9 234.6,690.0 235.2,689.6 235.8,691.3 236.4,692.4 237.0,693.2 237.6,691.5 238.2,690.7 238.8,692.7 239.4,693.8 240.0,694.6 240.6,693.3 241.2,692.0 241.8,692.0 242.4,693.0 243.0,692.9 243.6,693.3 244.2,695.0 244.8,694.7 245.4,692.8 246.0,692.2 246.6,694.5 247.2,694.4 247.8,694.0 248.4,695.3 249.0,696.5 249.6,697.3 250.2,697.3 250.8,697.3 251.4,697.6 252.0,698.4 252.6,699.4 253.2,699.9 253.8,700.7 254.4,700.2 255.0,700.9 255.6,702.5 256.2,703.0 256.8,703.8 257.4,704.1 258.0,705.6 258.6,705.2 259.2,704.8 259.8,705.5 260.4,706.1 261.0,705.6 261.6,705.8 262.2,707.2 262.8,707.3 263.4,707.9 264.0,707.9 264.6,709.6 265.2,711.6 265.8,712.5 266.4,712.2 267.0,710.7 267.6,712.2 268.2,712.5 268.8,713.1 269.4,714.4 270.0,714.6 270.6,715.9 271.2,716.8 271.8,718.6 272.4,719.6 273.0,718.0 273.6,718.9 274.2,719.4 274.8,719.3 275.4,719.9 276.0,719.8 276.6,722.1 277.2,722.7 277.8,721.8 278.4,722.2 279.0,722.8 279.6,724.5 280.2,724.2 280.8,722.5 281.4,724.0 282.0,723.9 282.6,723.5 283.2,725.6 283.8,726.0 284.4,725.1 285.0,724.7 285.6,724.6 286.2,724.8 286.8,725.6 287.4,726.9 288.0,727.4 288.6,726.1 289.2,724.8 289.8,725.5 290.4,724.5 291.0,723.4 291.6,724.0 292.2,723.2 292.8,722.3 293.4,722.8 294.0,721.8 294.6,720.3 295.2,720.3 295.8,720.3 296.4,719.0 297.0,718.8 297.6,718.5 298.2,716.6 298.8,715.4 299.4,713.8 300.0,712.0 300.6,711.7 301.2,710.8 301.8,708.2 302.4,706.7 303.0,704.1 303.6,701.6 304.2,699.6 304.8,696.2 305.4,694.2 306.0,691.5 306.6,689.4 307.2,688.1 307.8,687.0 308.4,686.5 308.5,686.5 309.0,686.6 309.6,687.1 310.2,688.3 310.8,689.2 311.4,690.6 312.0,693.3 312.6,696.3 313.2,697.2 313.8,698.6 314.4,701.9 315.0,703.6 315.6,704.0 316.2,706.0 316.8,707.1 317.4,708.0 318.0,711.0 318.6,710.3 319.2,710.7 319.8,714.0 320.4,715.9 321.0,717.3 321.6,719.2 322.2,721.1 322.8,723.8 323.4,727.4 324.0,729.1 324.6,730.1 325.2,732.0 325.8,734.1 326.4,735.5 327.0,736.0 327.6,736.3 328.2,735.8 328.8,734.2 329.4,735.7 330.0,738.8 330.6,737.7 331.2,736.4 331.8,737.8 332.4,739.1 333.0,739.5 333.6,739.9 334.2,739.6 334.8,739.1 335.4,739.5 336.0,739.1 336.6,739.7 337.2,740.3 337.8,740.0 338.4,739.1 339.0,738.8 339.6,737.9 340.2,737.1 340.8,735.6 341.4,734.3 342.0,736.2 342.6,736.2 343.2,735.6 343.8,734.6 344.4,735.4 345.0,737.0 345.6,736.0 346.2,736.0 346.8,736.5 347.4,737.4 348.0,737.6 348.6,736.0 349.2,736.0 349.8,738.3 350.4,739.3 351.0,738.6 351.6,739.0 352.2,739.9 352.8,740.3 353.4,739.7 354.0,739.1 354.6,741.1 355.2,742.1 355.8,742.3 356.4,744.3 357.0,744.3 357.6,743.5 358.2,743.8 358.8,743.5 359.4,744.2 360.0,744.0 360.6,743.0 361.2,745.3 361.8,747.0 362.4,747.2 363.0,747.8 363.6,747.4 364.2,748.2 364.8,748.9 365.4,747.9 366.0,748.5 366.6,749.0 367.2,748.5 367.8,751.1 368.4,751.2 369.0,750.7 369.6,750.5 370.2,749.9 370.8,750.3 371.4,750.2 372.0,749.7 372.6,748.8 373.2,749.7 373.8,749.3 374.4,748.5 375.0,750.0 375.6,750.2 376.2,749.1 376.8,748.8 377.4,749.5 378.0,750.0 378.6,750.0 379.2,750.1 379.8,751.2 380.4,751.0 381.0,748.4 381.6,748.8 382.2,750.1 382.8,750.2 383.4,749.1 384.0,749.8 384.6,750.9 385.2,750.1 385.8,749.1 386.4,749.5 387.0,750.6 387.6,751.3 388.2,751.2 388.8,749.6 389.4,750.1 390.0,750.5 390.6,751.0 391.2,751.3 391.8,751.5 392.4,752.8 393.0,753.7 393.6,754.5 394.2,754.9 394.8,756.3 395.4,757.5 396.0,758.7 396.6,760.2 397.2,760.1 397.8,762.0 398.4,766.3 399.0,768.5 399.6,769.9 400.2,771.8 400.8,772.6 401.4,772.7 402.0,774.6 402.6,776.9 403.2,777.4 403.8,777.6 404.4,778.1 405.0,778.3 405.6,778.7 406.2,779.2 406.8,779.6 407.4,779.3 408.0,779.0 408.6,780.3 409.2,780.8 409.8,779.1 410.4,779.7 411.0,780.0 411.6,781.4 412.2,783.7 412.8,783.1 413.4,782.3 414.0,781.3 414.6,781.8 415.2,782.8 415.8,782.6 416.4,782.9 417.0,784.0 417.6,784.5 418.2,783.5 418.8,781.8 419.4,782.6 420.0,783.8 420.6,784.2 421.2,785.9 421.8,786.8 422.4,786.0 423.0,785.8 423.6,786.8 424.2,786.2 424.8,785.4 425.4,786.1 426.0,786.0 426.6,785.2 427.2,784.8 427.8,785.3 428.4,785.5 429.0,786.1 429.6,786.4 430.2,787.0 430.8,788.1 431.4,786.4 432.0,786.5 432.6,787.2 433.2,787.5 433.8,788.2 434.4,787.4 435.0,787.6 435.6,787.4 436.2,787.3 436.8,788.1 437.4,787.9 438.0,788.1 438.6,787.7 439.2,787.9 439.8,787.9 440.4,788.1 441.0,789.4 441.6,789.5 442.2,789.0 442.8,790.7 443.4,791.1 444.0,789.3 444.6,789.1 445.2,790.0 445.8,790.4 446.4,790.2 447.0,790.0 447.6,789.7 448.2,790.3 448.8,790.8 449.4,791.0 450.0,789.9 450.6,790.6 451.2,790.5 451.8,789.7 452.4,791.1 453.0,790.7 453.6,790.8 454.2,791.9 454.8,791.0 455.4,791.5 456.0,792.7 456.6,792.3 457.2,791.9 457.8,792.9 458.4,793.7 459.0,793.3 459.6,792.4 460.2,792.0 460.8,792.2 461.4,793.5 462.0,794.4 462.6,794.3 463.2,795.0 463.8,794.7 464.4,793.7 465.0,793.8 465.6,795.4 466.2,794.5 466.8,793.6 467.4,795.4 468.0,795.4 468.6,796.8 469.2,797.7 469.8,796.8 470.4,795.6 471.0,795.6 471.6,796.1 472.2,795.9 472.8,796.5 473.4,796.3 474.0,796.7 474.6,798.3 475.2,798.7 475.8,797.9 476.4,796.2 477.0,796.9 477.6,799.1 478.2,798.4 478.8,797.5 479.4,798.3 480.0,798.2 480.6,798.5 481.2,798.5 481.8,797.5 482.4,798.4 483.0,798.3 483.6,798.4 484.2,799.9 484.8,799.2 485.4,799.7 486.0,800.4 486.6,800.3 487.2,801.0 487.8,800.6 488.4,800.3 489.0,799.6 489.6,799.7 490.2,800.5 490.8,802.3 491.4,803.6 492.0,801.9 492.6,801.9 493.2,803.2 493.8,802.6 494.4,803.0 495.0,803.9 495.6,803.5 496.2,803.0 496.8,803.7 497.4,803.4 498.0,803.6 498.6,804.4 499.2,804.1 499.8,803.8 500.4,804.6 501.0,806.0 501.6,806.2 502.2,805.3 502.8,805.8 503.4,806.6 504.0,806.7 504.6,807.6 505.2,806.8 505.8,806.2 506.4,806.6 507.0,806.3 507.6,808.2 508.2,809.6 508.8,807.4 509.4,807.3 510.0,808.2 510.6,808.9 511.2,809.6 511.8,808.9 512.4,809.1 513.0,809.7 513.6,809.8 514.2,809.6 514.8,809.7 515.4,810.4 516.0,809.9 516.6,809.8 517.2,810.7 517.8,810.5 518.4,811.3 519.0,810.9 519.6,810.4 520.2,810.9 520.8,811.7 521.4,812.1 522.0,812.0 522.6,812.7 523.2,811.8 523.8,812.0 524.4,812.7 525.0,812.4 525.6,813.0 526.2,813.9 526.8,814.6 527.4,815.4 528.0,815.2 528.6,813.9 529.2,813.7 529.8,814.6 530.4,816.1 531.0,816.1 531.6,814.9 532.2,815.0 532.8,815.8 533.4,815.8 534.0,815.3 534.6,813.8 535.2,814.1 535.8,816.7 536.4,817.3 537.0,815.3 537.6,815.3 538.2,815.7 538.8,817.1 539.4,818.6 540.0,816.6 540.6,817.1 541.2,817.5 541.8,817.4 542.4,818.0 543.0,816.9 543.6,817.3 544.2,817.2 544.8,817.6 545.4,818.5 546.0,816.9 546.6,815.6 547.2,817.2 547.8,819.2 548.4,817.2 549.0,817.1 549.6,817.8 550.2,816.3 550.8,815.8 551.4,815.4 552.0,815.9 552.6,815.8 553.2,813.1 553.8,813.8 554.4,815.0 555.0,812.2 555.6,810.6 556.2,809.9 556.8,809.3 557.4,809.1 558.0,808.1 558.6,806.2 559.2,804.1 559.8,803.3 560.4,801.7 561.0,800.2 561.6,797.0 562.2,792.7 562.8,789.2 563.4,783.2 564.0,777.5 564.6,769.2 565.2,755.8 565.8,738.8 566.4,716.8 567.0,684.9 567.6,643.8 568.2,592.8 568.8,529.9 569.4,463.1 570.0,404.4 570.6,374.6 570.7,373.9 571.2,389.8 571.8,441.8 572.4,507.1 573.0,570.5 573.6,626.2 574.2,670.5 574.8,703.9 575.4,730.1 576.0,749.5 576.6,762.1 577.2,772.4 577.8,778.9 578.4,783.2 579.0,787.9 579.6,791.0 580.2,793.6 580.8,796.8 581.4,798.9 582.0,801.1 582.6,802.2 583.2,802.9 583.8,803.7 584.4,804.6 585.0,806.2 585.6,808.2 586.2,810.1 586.8,810.4 587.4,812.0 588.0,813.4 588.6,813.4 589.2,812.8 589.8,812.0 590.4,813.1 591.0,814.4 591.6,814.5 592.2,815.0 592.8,814.8 593.4,816.3 594.0,817.0 594.6,815.9 595.2,817.3 595.8,817.0 596.4,817.5 597.0,819.4 597.6,818.9 598.2,817.8 598.8,817.9 599.4,817.6 600.0,819.1 600.6,820.5 601.2,819.3 601.8,818.9 602.4,819.9 603.0,821.7 603.6,820.6 604.2,819.4 604.8,819.2 605.4,820.1 606.0,821.5 606.6,822.6 607.2,822.5 607.8,820.8 608.4,820.4 609.0,821.3 609.6,820.7 610.2,820.7 610.8,821.9 611.4,821.1 612.0,820.3 612.6,821.2 613.2,823.0 613.8,822.0 614.4,821.0 615.0,822.4 615.6,821.5 616.2,820.1 616.8,819.6 617.4,819.6 618.0,820.2 618.6,819.9 619.2,819.4 619.8,818.5 620.4,818.0 621.0,818.3 621.6,819.5 622.2,819.8 622.8,818.7 623.4,819.4 624.0,820.2 624.6,819.2 625.2,818.4 625.8,819.2 626.4,819.8 627.0,818.8 627.6,818.6 628.2,819.1 628.8,819.6 629.4,819.0 630.0,818.8 630.6,819.6 631.2,818.3 631.8,818.7 632.4,819.9 633.0,818.3 633.6,818.9 634.2,819.0 634.8,817.0 635.4,817.5 636.0,818.6 636.6,819.2 637.2,818.5 637.8,819.0 638.4,819.3 639.0,819.3 639.6,820.9 640.2,820.0 640.8,816.4 641.4,815.9 642.0,816.8 642.6,817.2 643.2,817.9 643.8,817.0 644.4,816.1 645.0,816.7"/>
<path stroke="#420094" d="M66.0,458.6 66.6,456.2 67.2,453.1 67.8,450.8 68.4,450.2 69.0,449.3 69.6,447.5 70.2,445.3 70.8,443.3 71.4,443.3 72.0,443.6 72.6,442.2 73.2,440.4 73.8,440.4 74.4,441.1 75.0,443.2 75.6,445.4 76.2,445.0 76.8,445.7 77.4,449.2 78.0,451.7 78.6,450.6 79.2,451.3 79.8,453.2 80.4,454.0 81.0,456.9 81.6,461.8 82.2,464.9 82.8,465.6 83.4,466.7 84.0,469.3 84.6,473.0 85.2,474.7 85.8,475.9 86.4,482.2 87.0,488.0 87.6,492.1 88.2,495.9 88.8,498.9 89.4,501.0 90.0,502.8 90.6,506.5 91.2,508.8 91.8,508.9 92.4,509.9 93.0,510.5 93.6,509.4 94.2,510.7 94.8,513.4 95.4,515.0 96.0,515.5 96.6,518.6 97.2,523.6 97.8,526.6 98.4,528.3 99.0,533.2 99.6,539.9 100.2,544.1 100.8,546.6 101.4,549.1 102.0,554.8 102.6,560.1 103.2,563.3 103.8,566.1 104.4,569.4 105.0,572.6 105.6,575.4 106.2,578.5 106.8,582.1 107.4,585.7 108.0,589.4 108.6,593.6 109.2,595.8 109.8,600.0 110.4,603.2 111.0,605.6 111.6,610.4 112.2,614.2 112.8,615.0 113.4,617.7 114.0,622.8 114.6,625.7 115.2,625.5 115.8,626.0 116.4,629.2 117.0,630.8 117.6,633.0 118.2,634.0 118.8,635.0 119.4,636.9 120.0,636.2 120.6,636.5 121.2,638.7 121.8,641.4 122.4,644.8 123.0,647.3 123.6,650.4 124.2,652.7 124.8,653.4 125.4,657.7 126.0,663.5 126.6,666.7 127.2,668.6 127.8,671.6 128.4,675.8 129.0,677.4 129.6,677.5 130.2,678.8 130.8,682.4 131.4,684.6 132.0,685.3 132.6,687.7 133.2,689.5 133.8,689.5 134.4,690.8 135.0,693.4 135.6,694.5 136.2,696.0 136.8,696.6 137.4,697.3 138.0,698.7 138.6,700.7 139.2,702.2 139.8,703.6 140.4,704.9 141.0,706.1 141.6,707.9 142.2,709.1 142.8,710.1 143.4,710.4 144.0,710.1 144.6,708.5 145.2,708.9 145.8,709.1 146.4,707.2 147.0,705.7 147.6,704.9 148.2,702.7 148.8,699.8 149.4,698.0 150.0,694.8 150.6,690.1 151.2,684.0 151.8,676.8 152.4,671.2 153.0,666.9 153.6,663.5 154.0,663.0 154.2,663.4 154.8,666.8 155.4,673.3 156.0,681.9 156.6,689.0 157.2,696.7 157.8,704.8 158.4,711.3 159.0,717.2 159.6,722.5 160.2,727.5 160.8,731.3 161.4,733.0 162.0,735.8 162.6,739.0 163.2,739.3 163.8,741.2 164.4,742.3 165.0,743.5 165.6,746.7 166.2,746.6 166.8,747.0 167.4,748.4 168.0,748.9 168.6,748.3 169.2,748.8 169.8,750.4 170.4,750.9 171.0,751.3 171.6,751.9 172.2,752.3 172.8,752.3 173.4,753.2 174.0,753.0 174.6,752.9 175.2,752.9 175.8,752.6 176.4,752.0 177.0,752.0 177.6,753.1 178.2,752.3 178.8,751.8 179.4,751.9 180.0,750.3 180.6,749.9 181.2,751.2 181.8,750.2 182.4,747.6 183.0,747.6 183.6,747.8 184.2,748.4 184.8,748.2 185.4,746.1 186.0,745.0 186.6,744.3 187.2,743.5 187.8,741.7 188.4,741.0 189.0,739.9 189.6,739.2 190.2,736.4 190.8,732.1 191.4,728.5 192.0,723.1 192.6,719.8 193.2,714.2 193.8,708.6 194.4,703.6 195.0,697.2 195.6,694.4 196.2,687.6 196.8,679.5 197.4,675.6 198.0,669.9 198.6,661.4 199.2,653.5 199.8,644.9 200.4,636.2 201.0,628.5 201.6,618.2 202.2,607.0 202.8,598.2 203.4,590.0 204.0,580.0 204.6,570.7 205.2,563.2 205.8,556.9 206.4,553.3 207.0,552.2 207.0,552.2 207.6,553.2 208.2,556.9 208.8,563.7 209.4,572.0 210.0,579.1 210.6,585.4 211.2,592.4 211.8,598.3 212.4,602.4 213.0,606.0 213.6,611.2 214.2,615.2 214.8,618.4 215.4,623.1 216.0,630.0 216.6,637.4 217.2,645.0 217.8,651.2 218.4,656.1 219.0,661.7 219.6,666.3 220.2,668.4 220.8,671.7 221.4,675.7 222.0,677.5 222.6,680.0 223.2,682.3 223.8,684.7 224.4,685.7 225.0,688.5 225.6,692.3 226.2,693.6 226.8,695.7 227.4,700.2 228.0,702.7 228.6,703.0 229.2,706.0 229.8,707.7 230.4,708.3 231.0,710.2 231.6,711.8 232.2,714.1 232.8,716.0 233.4,716.1 234.0,716.4 234.6,717.6 235.2,717.7 235.8,717.9 236.4,718.0 237.0,717.7 237.6,718.5 238.2,718.5 238.8,718.9 239.4,719.6 240.0,718.9 240.6,718.8 241.2,719.2 241.8,719.7 242.4,720.2 243.0,720.3 243.6,719.8 244.2,721.0 244.8,722.4 245.4,721.7 246.0,722.0 246.6,722.5 247.2,722.0 247.8,722.2 248.4,724.6 249.0,725.7 249.6,725.0 250.2,724.6 250.8,724.8 251.4,727.1 252.0,727.5 252.6,727.3 253.2,728.4 253.8,728.7 254.4,729.5 255.0,729.8 255.6,729.6 256.2,729.6 256.8,731.7 257.4,732.9 258.0,731.7 258.6,733.0 259.2,733.2 259.8,732.7 260.4,733.0 261.0,733.5 261.6,734.3 262.2,735.2 262.8,735.9 263.4,735.7 264.0,736.1 264.6,737.0 265.2,737.5 265.8,738.8 266.4,740.3 267.0,740.4 267.6,739.8 268.2,740.7 268.8,741.3 269.4,741.7 270.0,743.3 270.6,743.4 271.2,743.5 271.8,744.0 272.4,746.6 273.0,747.5 273.6,746.6 274.2,748.0 274.8,749.0 275.4,749.6 276.0,749.0 276.6,748.0 277.2,751.5 277.8,752.7 278.4,750.6 279.0,751.1 279.6,752.3 280.2,751.7 280.8,751.4 281.4,752.4 282.0,752.8 282.6,753.2 283.2,752.5 283.8,752.0 284.4,750.9 285.0,752.3 285.6,753.0 286.2,752.2 286.8,754.3 287.4,754.3 288.0,753.6 288.6,753.6 289.2,753.5 289.8,753.5 290.4,752.3 291.0,752.9 291.6,752.7 292.2,750.4 292.8,749.9 293.4,750.6 294.0,749.5 294.6,749.0 295.2,749.6 295.8,749.7 296.4,747.9 297.0,746.0 297.6,744.3 298.2,742.5 298.8,742.5 299.4,741.7 300.0,740.2 300.6,738.3 301.2,736.2 301.8,734.1 302.4,732.6 303.0,731.1 303.6,728.9 304.2,726.7 304.8,724.5 305.4,720.2 306.0,716.9 306.6,715.7 307.2,714.0 307.8,713.2 308.4,712.5 308.5,712.5 309.0,712.6 309.6,713.7 310.2,714.9 310.8,715.7 311.4,718.3 312.0,720.8 312.6,723.1 313.2,725.0 313.8,726.5 314.4,727.6 315.0,728.1 315.6,729.9 316.2,730.1 316.8,731.6 317.4,735.2 318.0,736.0 318.6,736.3 319.2,738.3 319.8,740.0 320.4,741.9 321.0,745.5 321.6,747.6 322.2,749.1 322.8,751.2 323.4,753.1 324.0,755.1 324.6,757.0 325.2,759.3 325.8,759.6 326.4,759.7 327.0,761.8 327.6,761.7 328.2,761.4 328.8,761.8 329.4,762.4 330.0,763.6 330.6,764.5 331.2,764.5 331.8,763.2 332.4,763.2 333.0,764.2 333.6,765.1 334.2,763.4 334.8,762.9 335.4,763.2 336.0,763.5 336.6,765.1 337.2,764.8 337.8,764.9 338.4,764.6 339.0,763.3 339.6,762.9 340.2,763.7 340.8,763.0 341.4,761.8 342.0,760.8 342.6,761.2 343.2,761.4 343.8,760.0 344.4,760.0 345.0,759.9 345.6,760.2 346.2,761.8 346.8,762.8 347.4,763.2 348.0,764.0 348.6,762.8 349.2,762.5 349.8,764.6 350.4,766.3 351.0,764.8 351.6,762.8 352.2,764.6 352.8,765.9 353.4,765.4 354.0,766.4 354.6,767.1 355.2,765.9 355.8,766.9 356.4,769.0 357.0,770.0 357.6,771.0 358.2,771.1 358.8,770.8 359.4,770.6 360.0,770.1 360.6,770.6 361.2,772.8 361.8,774.0 362.4,775.1 363.0,775.0 363.6,772.8 364.2,773.8 364.8,776.1 365.4,775.1 366.0,773.7 366.6,774.8 367.2,776.6 367.8,776.0 368.4,775.5 369.0,775.9 369.6,775.5 370.2,775.2 370.8,776.2 371.4,776.9 372.0,776.5 372.6,775.0 373.2,776.7 373.8,777.8 374.4,776.6 375.0,776.5 375.6,776.8 376.2,776.6 376.8,776.4 377.4,777.2 378.0,777.8 378.6,777.2 379.2,776.1 379.8,776.7 380.4,778.5 381.0,777.7 381.6,776.5 382.2,777.0 382.8,777.0 383.4,777.9 384.0,777.8 384.6,777.6 385.2,777.7 385.8,777.2 386.4,777.0 387.0,776.3 387.6,776.4 388.2,777.1 388.8,777.3 389.4,778.5 390.0,779.1 390.6,779.2 391.2,780.2 391.8,778.9 392.4,779.1 393.0,781.6 393.6,782.1 394.2,782.3 394.8,783.8 395.4,786.5 396.0,787.9 396.6,788.3 397.2,789.6 397.8,792.1 398.4,794.8 399.0,796.9 399.6,797.7 400.2,798.8 400.8,800.4 401.4,801.9 402.0,802.4 402.6,803.5 403.2,804.1 403.8,803.7 404.4,805.0 405.0,805.6 405.6,805.8 406.2,805.2 406.8,806.3 407.4,808.1 408.0,807.9 408.6,808.5 409.2,809.1 409.8,808.6 410.4,810.1 411.0,810.5 411.6,810.1 412.2,811.8 412.8,811.0 413.4,810.1 414.0,810.2 414.6,811.1 415.2,811.6 415.8,810.4 416.4,811.7 417.0,813.2 417.6,811.9 418.2,812.3 418.8,813.2 419.4,814.4 420.0,815.6 420.6,813.5 421.2,812.4 421.8,812.3 422.4,812.7 423.0,813.5 423.6,814.0 424.2,814.2 424.8,812.9 425.4,812.4 426.0,814.5 426.6,815.9 427.2,815.0 427.8,814.3 428.4,814.4 429.0,814.7 429.6,813.8 430.2,814.5 430.8,815.4 431.4,815.0 432.0,813.9 432.6,814.1 433.2,816.8 433.8,815.3 434.4,815.6 435.0,817.6 435.6,816.2 436.2,815.0 436.8,816.5 437.4,817.9 438.0,817.6 438.6,817.5 439.2,816.7 439.8,817.6 440.4,817.7 441.0,817.9 441.6,817.5 442.2,816.5 442.8,816.8 443.4,818.4 444.0,818.4 444.6,816.9 445.2,818.7 445.8,819.8 446.4,821.0 447.0,822.2 447.6,821.3 448.2,820.7 448.8,819.2 449.4,818.3 450.0,819.5 450.6,820.1 451.2,819.6 451.8,819.2 452.4,819.7 453.0,821.2 453.6,822.2 454.2,821.5 454.8,821.2 455.4,821.7 456.0,821.6 456.6,821.4 457.2,820.9 457.8,821.6 458.4,823.6 459.0,823.5 459.6,823.4 460.2,823.5 460.8,824.7 461.4,824.8 462.0,822.7 462.6,822.0 463.2,823.5 463.8,825.1 464.4,825.3 465.0,825.3 465.6,825.1 466.2,823.7 466.8,823.3 467.4,823.2 468.0,823.6 468.6,824.0 469.2,824.5 469.8,825.5 470.4,824.3 471.0,825.0 471.6,827.0 472.2,825.8 472.8,825.5 473.4,827.1 474.0,827.0 474.6,827.2 475.2,827.7 475.8,828.0 476.4,828.2 477.0,827.5 477.6,827.9 478.2,828.7 478.8,828.7 479.4,828.1 480.0,827.5 480.6,827.8 481.2,828.1 481.8,828.6 482.4,829.3 483.0,829.3 483.6,829.4 484.2,829.7 484.8,830.9 485.4,831.8 486.0,830.6 486.6,830.2 487.2,830.6 487.8,830.4 488.4,830.6 489.0,830.5 489.6,829.9 490.2,828.8 490.8,830.1 491.4,832.7 492.0,832.2 492.6,831.9 493.2,832.5 493.8,832.5 494.4,832.4 495.0,832.3 495.6,832.9 496.2,831.7 496.8,832.1 497.4,833.8 498.0,832.2 498.6,832.9 499.2,834.8 499.8,834.7 500.4,835.1 501.0,834.9 501.6,834.1 502.2,834.3 502.8,835.0 503.4,837.0 504.0,838.7 504.6,837.1 505.2,835.7 505.8,836.5 506.4,837.3 507.0,836.8 507.6,836.0 508.2,838.0 508.8,839.5 509.4,837.4 510.0,835.7 510.6,836.4 511.2,837.9 511.8,839.0 512.4,838.8 513.0,837.6 513.6,838.1 514.2,839.8 514.8,839.9 515.4,839.3 516.0,839.9 516.6,840.4 517.2,839.4 517.8,839.7 518.4,839.7 519.0,840.5 519.6,841.9 520.2,840.7 520.8,840.7 521.4,842.4 522.0,841.0 522.6,840.2 523.2,842.9 523.8,842.1 524.4,841.1 525.0,841.3 525.6,841.5 526.2,841.0 526.8,840.1 527.4,841.5 528.0,842.9 528.6,843.7 529.2,844.1 529.8,844.8 530.4,845.1 531.0,845.0 531.6,844.1 532.2,843.6 532.8,846.7 533.4,848.5 534.0,847.0 534.6,846.2 535.2,846.4 535.8,845.8 536.4,846.6 537.0,846.8 537.6,845.5 538.2,847.4 538.8,846.2 539.4,845.0 540.0,845.4 540.6,844.8 541.2,846.0 541.8,846.2 542.4,846.5 543.0,846.2 543.6,846.0 544.2,845.7 544.8,845.5 545.4,845.3 546.0,846.0 546.6,845.9 547.2,845.8 547.8,846.3 548.4,845.4 549.0,846.3 549.6,846.3 550.2,843.9 550.8,843.9 551.4,842.8 552.0,842.2 552.6,843.5 553.2,841.8 553.8,841.6 554.4,841.7 555.0,842.3 555.6,841.5 556.2,840.6 556.8,840.9 557.4,838.2 558.0,835.5 558.6,835.6 559.2,834.6 559.8,832.1 560.4,829.9 561.0,826.6 561.6,823.7 562.2,820.5 562.8,815.6 563.4,811.0 564.0,806.6 564.6,798.9 565.2,785.4 565.8,767.4 566.4,744.1 567.0,712.9 567.6,670.7 568.2,616.5 568.8,552.8 569.4,485.1 570.0,425.5 570.6,395.0 570.7,394.3 571.2,410.2 571.8,462.9 572.4,530.1 573.0,596.5 573.6,653.1 574.2,697.0 574.8,730.6 575.4,757.3 576.0,776.6 576.6,790.3 577.2,799.9 577.8,806.6 578.4,811.8 579.0,816.1 579.6,820.2 580.2,823.8 580.8,827.5 581.4,829.1 582.0,829.5 582.6,832.6 583.2,834.9 583.8,835.3 584.4,836.6 585.0,838.4 585.6,839.7 586.2,840.2 586.8,840.9 587.4,840.8 588.0,840.7 588.6,842.0 589.2,843.2 589.8,844.0 590.4,844.9 591.0,845.5 591.6,845.5 592.2,844.9 592.8,846.2 593.4,848.2 594.0,847.3 594.6,847.6 595.2,848.8 595.8,848.8 596.4,847.5 597.0,846.9 597.6,848.1 598.2,850.3 598.8,850.4 599.4,849.2 600.0,849.3 600.6,849.4 601.2,850.6 601.8,849.7 602.4,847.7 603.0,849.7 603.6,851.9 604.2,851.1 604.8,851.9 605.4,853.1 606.0,851.1 606.6,850.4 607.2,852.7 607.8,852.4 608.4,851.4 609.0,852.6 609.6,852.6 610.2,851.1 610.8,850.8 611.4,850.7 612.0,851.5 612.6,851.1 613.2,851.4 613.8,851.4 614.4,850.6 615.0,850.6 615.6,850.2 616.2,851.9 616.8,852.8 617.4,852.8 618.0,851.8 618.6,850.9 619.2,851.0 619.8,851.2 620.4,850.6 621.0,850.8 621.6,851.2 622.2,851.1 622.8,851.1 623.4,850.6 624.0,849.7 624.6,848.8 625.2,848.3 625.8,848.3 626.4,848.9 627.0,849.6 627.6,848.8 628.2,850.3 628.8,851.0 629.4,849.6 630.0,850.3 630.6,847.5 631.2,846.5 631.8,849.2 632.4,847.6 633.0,847.0 633.6,847.9 634.2,847.0 634.8,847.7 635.4,846.6 636.0,846.5 636.6,847.2 637.2,846.5 637.8,847.3 638.4,850.2 639.0,849.8 639.6,847.7 640.2,847.3 640.8,846.3 641.4,846.4 642.0,847.9 642.6,847.7 643.2,847.2 643.8,846.8 644.4,847.8 645.0,846.7"/>
</g>
<g fill="none" stroke-linejoin="round" stroke-linecap="butt" stroke-width="5">
<path stroke="#000000" d="M688.0,384.1 688.6,384.5 689.2,384.9 689.8,384.6 690.4,384.1 691.0,384.8 691.6,385.7 692.2,385.3 692.8,384.7 693.4,384.7 694.0,386.0 694.6,386.5 695.2,385.6 695.8,385.9 696.4,386.9 697.0,387.1 697.6,385.8 698.0,385.4 698.2,385.8 698.8,386.0 699.4,386.1 700.0,386.6 700.6,387.4 701.2,388.4 701.8,389.7 702.4,390.1 703.0,390.4 703.6,391.9 704.2,393.9 704.8,395.5 705.4,396.4 706.0,396.2 706.6,397.2 707.2,399.3 707.8,400.5 708.4,401.3 709.0,402.3 709.6,403.4 710.2,405.4 710.5,406.3 710.8,405.5 711.4,406.0 712.0,406.8 712.6,407.6 713.2,408.3 713.8,409.0 714.4,410.3 715.0,411.3 715.6,411.8 716.2,412.6 716.8,413.1 717.4,412.7 718.0,412.4 718.6,412.8 719.2,413.7 719.8,414.2 720.4,414.5 720.5,414.2 721.0,413.2 721.6,413.0 722.2,412.7 722.8,411.0 723.4,409.4 724.0,408.6 724.0,408.6 724.6,406.0 725.2,402.2 725.8,399.8 726.4,398.7 726.8,397.8 727.0,397.4 727.6,398.2 728.2,400.8 728.8,404.0 729.4,407.0 729.5,406.9 730.0,408.8 730.6,411.7 731.2,414.1 731.8,416.1 732.4,417.6 733.0,419.7 733.6,419.9 734.0,418.5 734.2,417.9 734.8,416.7 735.4,413.5 736.0,409.4 736.6,406.2 737.2,402.2 737.8,398.2 738.4,393.9 739.0,388.9 739.0,389.0 739.6,385.9 740.2,380.8 740.8,374.1 741.4,366.8 742.0,356.7 742.6,344.3 743.2,328.0 743.8,304.9 744.4,272.2 745.0,224.3 745.6,154.7 746.2,69.4 746.8,28.2 746.8,28.6 747.4,84.7 748.0,171.4 748.6,237.8 749.2,283.4 749.8,315.5 750.4,337.9 751.0,354.7 751.6,368.2 752.2,378.5 752.8,387.6 753.0,390.0 753.4,394.3 754.0,402.4 754.6,410.3 755.2,417.4 755.8,424.6 756.4,431.5 757.0,437.4 757.6,442.5 758.0,445.4 758.2,446.8 758.8,450.5 759.4,453.5 760.0,455.9 760.6,458.3 761.2,460.6 761.8,463.7 762.4,465.6 763.0,466.2 763.6,467.8 764.0,467.5 764.2,466.8 764.8,467.6 765.4,467.8 766.0,467.8 766.6,468.1 767.2,469.3 767.8,469.9 768.4,469.5 769.0,469.3 769.6,468.6 770.2,468.9 770.8,469.6 771.4,468.9 772.0,468.8 772.6,469.0 773.0,468.7 773.2,468.4 773.8,468.2 774.4,468.1 775.0,468.4 775.6,468.7 776.2,468.5 776.8,468.0 777.4,467.5 778.0,467.9 778.5,467.0 778.6,466.6 779.2,466.5 779.8,464.7 780.4,462.8 781.0,461.4 781.6,460.5 781.8,460.0 782.2,460.7 782.8,461.5 783.4,463.3 784.0,466.0 784.6,466.1 785.0,466.1 785.2,468.0 785.8,470.3 786.4,472.1 787.0,474.1 787.6,476.0 788.2,477.4 788.8,478.4 789.0,478.2 789.4,477.7 790.0,476.9 790.6,476.2 791.2,475.9 791.8,475.9 792.4,476.7 793.0,475.7 793.6,473.6 794.2,472.6 794.8,472.3 795.4,471.6 796.0,471.2 796.6,470.7 797.2,468.5 797.8,467.9 798.4,468.1 799.0,466.7 799.6,466.9 800.2,466.6 800.5,465.4 800.8,464.8 801.4,465.0 802.0,465.4 802.6,465.6 803.2,464.7 803.8,463.5 804.4,463.7 805.0,463.2 805.6,462.6 806.2,462.2 806.8,461.2 806.8,460.9 807.4,460.4 808.0,460.1 808.6,459.6 809.2,459.6 809.8,459.6 810.4,459.5 811.0,459.4 811.6,458.4 812.2,457.2 812.8,455.5 813.0,455.5 813.4,453.9 814.0,449.6 814.6,445.0 815.2,440.1 815.8,434.0 816.4,426.9 817.0,419.4 817.6,411.4 818.2,402.9 818.8,393.6 819.0,389.6 819.4,382.1 820.0,370.3 820.6,358.0 821.2,344.6 821.8,328.7 822.4,311.7 823.0,295.6 823.6,282.5 824.2,274.4 824.8,273.2 824.8,273.4 825.4,279.0 826.0,290.5 826.6,305.9 827.2,321.6 827.8,336.8 828.4,351.4 829.0,363.8 829.6,374.3 830.2,384.4 830.5,389.2 830.8,394.0 831.4,404.2 832.0,413.9 832.6,423.2 833.2,431.6 833.8,438.0 834.0,440.0 834.4,442.9 835.0,446.9 835.6,451.5 836.2,454.6 836.8,456.9 837.4,460.1 838.0,462.8 838.6,465.0 839.2,467.3 839.8,468.7 840.4,469.8 840.5,470.3 841.0,471.5 841.6,471.8 842.2,472.7 842.8,474.1 843.4,474.9 844.0,475.5 844.6,476.0 845.2,476.4 845.8,476.7 846.4,476.7 847.0,478.0 847.6,478.8 848.2,478.9 848.8,479.1 849.4,479.5 850.0,480.3 850.5,481.8 850.6,481.8 851.2,481.3 851.8,483.3 852.4,485.2 853.0,484.6 853.0,484.3 853.6,485.6 854.2,485.2 854.8,485.2 855.4,485.6 856.0,485.1 856.6,485.2 857.2,485.4 857.8,485.1 858.4,486.1 859.0,486.5 859.6,485.4 860.2,485.9 860.8,486.2 861.4,486.3 862.0,486.3 862.6,485.9 863.2,486.0 863.8,485.9 864.4,485.8 865.0,485.7 865.6,486.4 866.2,486.2 866.8,485.4 867.4,485.6 868.0,486.1 868.0,486.3 868.6,486.5 869.2,486.0 869.8,485.8 870.4,486.3 871.0,486.2 871.6,486.4 872.2,485.8 872.8,486.0 873.4,486.9 874.0,486.3 874.6,486.4 875.2,487.6 875.8,487.6 876.4,487.4 877.0,487.5 877.6,487.1 878.2,487.0 878.8,487.3 879.4,488.3 880.0,488.8 880.6,488.2 881.2,488.4 881.8,488.8 882.4,488.3 883.0,488.6 883.6,488.7 884.2,488.1 884.8,489.0 885.4,489.0 886.0,488.9 886.6,489.1 887.2,489.0 887.8,489.7 888.4,489.6 889.0,489.0 889.6,489.2 890.2,490.1 890.8,489.9 891.4,490.0 892.0,490.8 892.6,490.6 893.2,490.5 893.8,490.4 894.4,490.5 895.0,491.2 895.6,492.0 896.2,492.2 896.8,491.4 897.4,491.6 898.0,491.1 898.0,491.0 898.6,491.2 899.2,490.6 899.8,491.2 900.4,491.5 901.0,491.6 901.6,491.0 902.2,490.6 902.8,490.9 903.4,490.7 904.0,490.2 904.6,490.7 905.2,491.5 905.8,490.7 906.4,490.2 907.0,490.2 907.6,491.2 908.2,491.5 908.8,490.8 909.0,491.0 909.4,491.0 910.0,490.4 910.6,489.7 911.2,488.6 911.8,487.3 912.4,485.3 913.0,483.6 913.0,483.9 913.6,482.2 914.2,480.0 914.8,477.2 915.4,474.8 916.0,473.6 916.6,472.7 916.8,471.8 917.2,472.6 917.8,474.6 918.4,476.1 919.0,478.0 919.6,480.0 920.2,481.8 920.5,483.3 920.8,484.4 921.4,485.5 922.0,486.5 922.6,487.2 923.2,488.5 923.8,490.1 924.0,490.6 924.4,491.4 925.0,491.6 925.6,491.7 926.2,491.5 926.8,492.0 927.4,493.0 928.0,493.4 928.6,493.6 929.2,493.6 929.8,494.1 930.4,494.0 931.0,493.9 931.6,494.7 932.2,494.4 932.8,493.8 933.4,494.4 934.0,495.1 934.6,495.3 935.2,495.7 935.8,495.3 936.4,495.4 937.0,496.2 937.6,496.2 938.0,495.8 938.2,495.6 938.8,496.1 939.4,497.5 940.0,496.9 940.6,496.6 941.2,497.6 941.8,497.4 942.4,497.1 943.0,497.1 943.6,497.1 944.2,497.7 944.8,498.4 945.4,498.6 946.0,498.8 946.6,499.0 947.2,498.3 947.8,498.9 948.4,499.8 949.0,499.1 949.6,499.4 950.2,499.8 950.5,499.2 950.8,499.8 951.4,498.8 952.0,497.5 952.6,498.6 953.2,499.1 953.8,498.5 954.4,499.1 955.0,499.5 955.6,498.5 956.2,498.0 956.8,498.7 957.4,499.5 958.0,498.4 958.6,497.7 959.2,498.2 959.8,497.4 960.4,497.4 961.0,497.3 961.6,497.1 962.2,498.1 962.8,498.4 963.4,497.9 964.0,497.8 964.6,497.5 965.2,497.5 965.8,496.8 966.4,496.2 967.0,496.8 967.6,496.5 968.2,495.9 968.8,496.4 969.4,497.0 970.0,496.2 970.6,495.2 971.2,495.4 971.8,495.7 972.4,495.0 973.0,495.0 973.0,495.4 973.6,495.1 974.2,495.8 974.8,496.0 975.4,495.0 976.0,494.7 976.6,495.2 977.2,494.9 977.8,493.3 978.4,492.7 979.0,492.7 979.6,492.1 980.2,491.8 980.8,491.8 981.4,491.3 981.8,490.8 982.0,491.0 982.6,490.2 983.2,489.6 983.8,489.7 984.4,488.8 985.0,487.3 985.6,487.2 986.2,486.8 986.8,485.2 987.4,485.5 988.0,485.1 988.6,484.3 989.2,483.4 989.8,483.1 990.4,484.0 990.5,484.4 991.0,484.2 991.6,484.2 992.2,484.6 992.8,484.6 993.4,484.5 994.0,485.9 994.6,486.3 995.2,486.5 995.8,487.4 996.4,488.1 997.0,488.4 997.6,488.7 998.2,489.7 998.8,490.1 999.4,490.7 1000.0,491.1 1000.6,491.6 1001.2,492.3 1001.8,493.2 1002.4,493.8 1003.0,493.5 1003.0,493.4 1003.6,494.3 1004.2,494.6 1004.8,495.6 1005.4,496.5 1006.0,496.8 1006.6,496.9 1007.2,496.9 1007.8,498.0 1008.4,498.1 1009.0,498.4 1009.6,499.4 1010.2,499.5 1010.8,499.9 1011.4,500.1 1012.0,500.5 1012.6,500.8 1013.2,500.6 1013.8,501.9 1014.4,502.4 1015.0,501.3 1015.5,502.1 1015.6,502.6 1016.2,501.2 1016.8,501.6 1017.4,503.4 1018.0,503.7 1018.6,504.2 1019.2,504.2 1019.8,503.9 1020.4,503.7 1021.0,503.7 1021.6,504.7 1022.2,505.0 1022.8,504.6 1023.4,503.8 1024.0,503.7 1024.6,504.1 1025.2,504.6 1025.8,504.9 1026.4,504.9 1027.0,504.9 1027.6,505.5 1028.2,505.5 1028.8,505.0 1029.4,506.5 1030.0,506.6 1030.6,505.4 1031.2,505.7 1031.8,506.4 1032.4,506.6 1033.0,505.6 1033.0,505.4 1033.6,505.4 1034.2,506.1 1034.8,507.1 1035.4,506.3 1036.0,506.6 1036.6,507.0 1037.2,506.4 1037.8,507.0 1038.4,507.4 1039.0,506.2 1039.6,506.9 1040.2,508.2 1040.8,508.3 1041.4,508.0 1042.0,507.3 1042.6,507.5 1043.2,508.6 1043.8,508.7 1044.4,508.7 1045.0,508.2 1045.6,508.0 1046.2,508.7 1046.8,507.9 1047.4,507.0 1048.0,507.4 1048.6,508.1 1049.2,508.6 1049.8,508.6 1050.4,508.5 1051.0,508.6 1051.6,508.7 1052.2,509.1 1052.8,509.3 1053.4,509.1 1054.0,509.1 1054.6,509.0 1055.2,509.3 1055.8,509.4 1056.4,509.8 1057.0,510.0 1057.6,509.6 1058.2,509.4 1058.8,509.2 1059.4,509.6 1060.0,509.9 1060.6,509.6 1061.2,509.3 1061.8,509.6 1062.4,510.1 1063.0,510.4 1063.6,510.9 1064.2,510.6 1064.8,509.5 1065.4,509.6 1066.0,509.8 1066.6,509.4 1067.2,510.6 1067.8,511.3 1068.4,510.8 1069.0,510.4 1069.6,510.7 1070.2,510.3 1070.5,510.6 1070.8,511.1 1071.4,511.7 1072.0,511.5 1072.6,511.3 1073.2,511.5 1073.8,511.6 1074.4,511.5 1075.0,511.5 1075.6,511.8 1076.2,511.2 1076.8,511.4 1077.4,512.0 1078.0,512.3 1078.6,512.7 1079.2,513.0 1079.8,511.5 1080.4,511.1 1081.0,511.4 1081.6,511.5 1082.2,512.5 1082.8,512.2 1083.4,511.6 1084.0,512.2 1084.6,512.6 1085.2,513.2 1085.8,513.5 1086.4,513.2 1087.0,513.8 1087.6,513.5 1088.2,512.9 1088.8,512.8 1089.4,512.9 1090.0,513.8 1090.6,514.3 1091.2,513.9 1091.8,513.2 1092.4,513.0 1093.0,512.8 1093.6,513.2 1094.2,514.3 1094.8,513.4 1095.4,512.2 1096.0,513.6 1096.6,513.9 1097.2,513.6 1097.8,513.8 1098.4,514.0 1099.0,514.8 1099.6,514.6 1100.2,514.7 1100.8,514.7 1101.4,514.7 1102.0,515.4 1102.6,515.7 1103.2,514.8 1103.8,514.1 1104.4,514.3 1105.0,514.6 1105.6,514.8 1106.2,514.7 1106.8,515.0 1107.4,515.3 1108.0,515.2 1108.0,515.2 1108.6,515.3 1109.2,514.9 1109.8,515.3 1110.4,516.0 1111.0,515.6 1111.6,515.7 1112.2,516.0 1112.8,516.1 1113.4,515.9 1114.0,515.6 1114.6,514.9 1115.2,515.1 1115.8,515.7 1116.4,515.5 1117.0,516.6 1117.6,516.0 1118.2,515.2 1118.8,516.4 1119.4,516.8 1120.0,516.9 1120.6,516.1 1121.2,515.3 1121.8,516.0 1122.4,516.3 1123.0,516.8 1123.6,517.0 1124.2,516.5 1124.8,516.6 1125.4,516.5 1126.0,516.4 1126.6,516.3 1127.2,516.3 1127.8,516.4 1128.4,516.6 1129.0,516.3 1129.6,515.7 1130.2,516.4 1130.8,517.1 1131.4,516.6 1132.0,516.5 1132.6,516.5 1133.2,517.3 1133.8,517.2 1134.4,517.1 1135.0,517.4 1135.6,517.0 1136.2,517.2 1136.8,516.9 1137.4,517.4 1138.0,517.9 1138.6,517.5 1139.2,516.9 1139.8,517.8 1140.4,518.7 1141.0,518.0 1141.6,517.4 1142.2,517.4 1142.8,517.6 1143.4,518.0 1144.0,517.6 1144.6,517.2 1145.2,517.3 1145.5,517.8 1145.8,518.7 1146.4,518.2 1147.0,517.8 1147.6,518.4 1148.2,518.1 1148.8,517.2 1149.4,517.7 1150.0,518.3 1150.6,517.8 1151.2,518.2 1151.8,518.4 1152.4,517.2 1153.0,517.2 1153.6,517.9 1154.2,518.4 1154.8,518.5 1155.4,517.7 1156.0,517.9 1156.6,518.0 1157.2,517.4 1157.8,517.3 1158.4,517.7 1159.0,518.2 1159.6,519.2 1160.2,518.3 1160.8,517.0 1161.4,517.1 1162.0,517.2 1162.6,517.3 1163.2,517.5 1163.8,518.2 1164.4,517.7 1165.0,516.7 1165.6,516.5 1166.2,517.5 1166.8,518.6 1167.4,517.6 1168.0,516.5 1168.6,517.1 1169.2,518.1 1169.8,518.4 1170.4,518.0 1170.5,517.9 1171.0,517.9 1171.6,517.4 1172.2,518.0 1172.8,518.1 1173.4,517.0 1174.0,516.7 1174.6,516.5 1175.2,516.6 1175.8,517.5 1176.4,516.9 1177.0,516.8 1177.6,518.0 1178.2,517.5 1178.8,516.1 1179.4,515.5 1180.0,515.6 1180.6,515.1 1181.2,514.5 1181.8,514.5 1181.8,514.9 1182.4,514.8 1183.0,513.9 1183.6,513.7 1184.2,513.8 1184.8,512.5 1185.4,510.7 1186.0,509.4 1186.6,507.4 1187.2,504.5 1187.8,500.8 1188.4,493.9 1189.0,485.1 1189.6,474.8 1190.2,460.7 1190.8,441.9 1191.4,420.5 1192.0,399.0 1192.6,383.2 1193.0,379.7 1193.2,380.6 1193.8,392.6 1194.4,413.2 1195.0,434.7 1195.6,454.1 1196.2,470.2 1196.8,482.5 1197.4,491.9 1198.0,498.8 1198.6,503.4 1199.2,506.6 1199.8,508.6 1200.4,510.3 1201.0,511.4 1201.6,512.1 1202.2,513.5 1202.8,514.3 1203.4,514.7 1204.0,514.8 1204.0,515.2 1204.6,515.8 1205.2,515.8 1205.8,516.3 1206.4,516.8 1207.0,517.0 1207.6,516.5 1208.2,516.1 1208.8,516.6 1209.4,517.0 1210.0,517.5 1210.6,518.7 1211.2,517.8 1211.8,516.9 1212.4,518.0 1213.0,519.0 1213.6,519.1 1214.2,518.9 1214.8,519.1 1215.4,519.2 1216.0,519.7 1216.6,519.8 1217.2,518.8 1217.8,518.4 1218.0,519.0 1218.4,518.9 1219.0,518.7 1219.6,518.9 1220.2,518.7 1220.8,519.2 1221.4,519.3 1222.0,518.7 1222.6,518.5 1223.2,519.0 1223.8,520.0 1224.4,520.1 1225.0,519.9 1225.6,519.9 1226.2,518.5 1226.8,518.5 1227.4,519.0 1228.0,518.3 1228.6,518.2 1229.2,519.3 1229.8,519.1 1230.4,518.2 1231.0,519.2 1231.6,519.6 1232.2,518.5 1232.8,518.2 1233.4,518.6 1234.0,518.6 1234.6,519.0 1235.2,518.8 1235.8,518.4 1236.4,519.2 1237.0,518.5 1237.6,517.8 1238.2,518.7 1238.8,518.3 1239.4,517.9 1240.0,517.8 1240.0,518.1 1240.6,518.4 1241.2,518.6 1241.8,519.2 1242.4,518.9 1243.0,518.3 1243.6,518.4 1244.2,518.5 1244.8,518.0 1245.4,518.3 1246.0,518.8 1246.6,518.7 1247.2,518.1 1247.8,518.1 1248.4,519.4 1249.0,519.3 1249.6,517.9 1250.2,517.7 1250.8,518.2 1251.4,518.2 1252.0,518.1 1252.6,518.2 1253.2,518.1 1253.8,518.0 1254.4,517.9 1255.0,517.8 1255.6,518.4 1256.2,518.2 1256.8,518.0 1257.4,517.8 1258.0,517.4 1258.6,517.6 1259.2,518.2 1259.8,518.0 1260.4,518.0 1261.0,517.7 1261.6,517.1 1262.2,518.0 1262.8,518.3 1263.4,517.6 1264.0,516.8 1264.6,517.5 1265.2,517.5 1265.8,517.3 1266.4,517.6 1267.0,517.4 1267.0,518.4"/>
<path stroke="#f8060a" d="M688.0,449.2 688.6,449.0 689.2,449.5 689.8,449.0 690.4,448.6 691.0,449.4 691.6,449.0 692.2,449.7 692.8,449.6 693.4,449.0 694.0,449.6 694.6,448.9 695.2,448.4 695.8,449.0 696.4,449.9 697.0,450.8 697.6,450.9 698.2,450.8 698.8,449.8 699.4,450.0 700.0,450.8 700.5,451.3 700.6,452.0 701.2,452.7 701.8,452.9 702.4,452.9 703.0,452.8 703.6,453.3 704.2,454.0 704.8,455.2 705.4,456.2 706.0,456.8 706.6,458.0 707.2,459.0 707.8,460.6 708.4,461.6 709.0,462.6 709.6,463.6 710.2,465.1 710.8,466.2 711.4,467.0 712.0,468.9 712.6,468.5 713.0,467.8 713.2,468.8 713.8,470.4 714.4,471.0 715.0,471.4 715.6,472.0 716.2,472.8 716.8,473.3 717.4,474.0 718.0,474.0 718.6,473.6 719.2,476.0 719.8,477.4 720.4,476.9 721.0,478.2 721.6,479.4 722.2,479.4 722.8,479.2 723.0,479.1 723.4,479.7 724.0,479.1 724.6,479.3 725.2,480.1 725.8,480.5 726.4,481.3 727.0,480.8 727.6,480.3 728.0,480.9 728.2,481.5 728.8,481.9 729.4,482.6 730.0,484.1 730.6,485.6 731.2,487.2 731.8,488.5 732.4,489.2 733.0,489.7 733.6,491.6 734.2,493.2 734.8,493.6 735.0,493.8 735.4,493.7 736.0,494.1 736.6,494.1 737.2,494.4 737.8,495.1 738.4,495.8 739.0,495.7 739.6,493.8 740.2,491.5 740.8,488.3 741.4,482.5 742.0,474.5 742.6,464.4 743.2,453.0 743.8,439.7 744.4,426.0 745.0,416.5 745.5,412.2 745.6,411.8 746.2,413.7 746.8,421.7 747.4,433.2 748.0,447.1 748.6,460.8 749.2,473.1 749.8,483.1 750.4,490.7 751.0,497.3 751.6,501.8 752.2,504.4 752.8,507.2 753.0,507.4 753.4,508.5 754.0,510.7 754.6,512.6 755.2,514.8 755.8,517.4 756.4,519.3 757.0,521.2 757.6,523.6 758.2,526.3 758.8,529.2 759.4,531.4 760.0,532.4 760.5,533.0 760.6,533.1 761.2,534.0 761.8,534.8 762.4,535.3 763.0,535.8 763.6,536.4 764.2,537.9 764.8,538.1 765.4,538.0 766.0,538.8 766.6,539.7 767.2,541.1 767.8,541.1 768.4,539.7 769.0,540.5 769.6,542.1 770.2,541.5 770.8,541.4 771.4,542.2 772.0,541.5 772.6,541.9 773.0,543.0 773.2,542.8 773.8,542.2 774.4,541.8 775.0,541.8 775.6,542.2 776.2,541.9 776.8,542.2 777.4,542.5 778.0,541.0 778.6,541.3 779.2,542.1 779.8,541.1 780.4,541.0 781.0,540.4 781.6,540.4 781.8,540.2 782.2,539.7 782.8,541.4 783.4,542.7 784.0,542.5 784.6,542.2 785.2,543.3 785.8,544.3 786.4,544.7 787.0,545.6 787.6,545.7 788.2,546.4 788.8,546.4 789.4,547.0 790.0,547.5 790.5,546.7 790.6,547.0 791.2,547.5 791.8,548.0 792.4,547.8 793.0,547.7 793.6,547.7 794.2,547.3 794.8,546.3 795.4,545.3 796.0,545.1 796.6,545.8 797.2,546.5 797.8,546.3 798.4,546.4 799.0,546.2 799.6,545.5 800.2,544.9 800.8,544.4 801.4,545.2 802.0,546.1 802.6,544.9 803.2,544.2 803.8,544.7 804.4,545.2 805.0,544.5 805.6,543.7 806.2,544.0 806.8,543.0 807.4,541.9 808.0,542.2 808.0,542.2 808.6,542.7 809.2,542.8 809.8,541.5 810.4,540.2 811.0,539.9 811.6,539.8 812.2,538.5 812.8,537.2 813.4,536.0 814.0,535.1 814.6,535.0 815.2,534.3 815.8,532.9 816.4,531.4 816.8,530.1 817.0,528.9 817.6,527.8 818.2,526.1 818.8,522.9 819.4,520.2 820.0,517.5 820.6,513.8 821.2,509.4 821.8,504.4 822.4,499.9 823.0,496.1 823.6,492.4 824.2,490.0 824.8,489.7 824.8,489.7 825.4,491.3 826.0,494.6 826.6,499.1 827.2,504.1 827.8,508.9 828.4,514.2 829.0,517.8 829.6,520.3 830.2,523.6 830.8,526.6 831.4,528.8 831.8,529.8 832.0,530.8 832.6,532.9 833.2,533.5 833.8,534.9 834.4,537.2 835.0,539.0 835.6,539.7 836.2,539.9 836.8,541.4 837.4,542.2 838.0,542.3 838.0,542.7 838.6,543.4 839.2,543.6 839.8,543.2 840.4,543.9 841.0,544.4 841.6,544.1 842.2,545.2 842.8,545.9 843.4,544.9 844.0,544.5 844.6,545.0 845.2,545.0 845.8,544.4 846.4,545.1 847.0,546.2 847.6,546.1 848.2,545.7 848.8,545.7 849.4,546.2 850.0,545.7 850.6,545.4 851.2,545.6 851.8,546.0 852.4,546.4 853.0,545.6 853.0,545.3 853.6,546.5 854.2,546.3 854.8,545.7 855.4,545.8 856.0,546.2 856.6,546.4 857.2,545.7 857.8,545.2 858.4,545.2 859.0,545.9 859.6,546.2 860.2,545.3 860.8,545.6 861.4,545.9 862.0,544.8 862.6,544.9 863.2,545.0 863.8,544.7 864.4,544.6 865.0,544.8 865.6,544.8 866.2,544.2 866.8,544.5 867.4,545.0 868.0,545.3 868.0,545.7 868.6,545.5 869.2,545.4 869.8,545.7 870.4,545.5 871.0,544.7 871.6,545.1 872.2,544.5 872.8,544.3 873.4,545.6 874.0,545.6 874.6,546.2 875.2,546.7 875.8,546.4 876.4,546.1 877.0,546.7 877.6,546.7 878.2,546.3 878.8,547.0 879.4,547.6 880.0,548.2 880.6,548.1 881.2,546.7 881.8,547.3 882.4,548.6 883.0,548.5 883.6,548.8 884.2,549.7 884.8,549.0 885.4,548.3 886.0,548.3 886.6,548.8 887.2,549.8 887.8,549.9 888.4,549.3 889.0,549.0 889.6,549.0 890.2,548.8 890.8,549.0 891.4,549.1 892.0,549.7 892.6,550.6 893.2,551.0 893.8,550.9 894.4,550.5 895.0,550.6 895.6,551.1 896.2,551.0 896.8,550.9 897.4,550.9 898.0,550.7 898.0,550.8 898.6,550.6 899.2,551.0 899.8,550.8 900.4,550.6 901.0,550.7 901.6,551.1 902.2,551.9 902.8,551.0 903.4,550.5 904.0,550.4 904.6,550.6 905.2,551.2 905.8,552.2 906.4,551.5 907.0,551.0 907.6,551.3 908.2,550.9 908.8,551.4 909.0,551.5 909.4,551.3 910.0,550.7 910.6,550.1 911.2,549.6 911.8,549.5 912.4,548.2 913.0,547.1 913.6,546.9 914.0,546.6 914.2,546.8 914.8,547.8 915.4,549.2 916.0,549.7 916.6,549.0 917.2,549.1 917.8,549.7 918.4,550.4 919.0,551.9 919.6,552.4 920.0,552.6 920.2,552.4 920.8,551.7 921.4,551.3 922.0,552.4 922.6,553.8 923.2,554.6 923.8,554.6 924.4,554.5 925.0,555.0 925.6,555.7 926.2,555.8 926.8,555.2 927.4,555.8 928.0,556.6 928.0,556.3 928.6,555.8 929.2,555.8 929.8,555.7 930.4,555.1 931.0,555.8 931.6,556.5 932.2,557.0 932.8,557.8 933.4,557.6 934.0,557.9 934.6,557.7 935.2,557.4 935.8,557.2 936.4,557.0 937.0,557.4 937.6,557.3 938.0,557.6 938.2,557.0 938.8,556.8 939.4,557.2 940.0,557.2 940.6,557.6 941.2,557.4 941.8,557.0 942.4,556.6 943.0,556.9 943.6,557.0 944.2,556.9 944.8,556.5 945.4,556.7 946.0,556.8 946.6,556.6 947.2,556.7 947.8,556.3 948.4,556.3 949.0,556.2 949.6,556.2 950.2,556.3 950.8,556.4 951.4,556.0 952.0,556.2 952.6,555.6 953.2,555.3 953.8,555.4 954.4,554.2 955.0,554.3 955.6,554.6 956.2,554.9 956.8,554.7 957.4,554.0 958.0,554.1 958.0,553.4 958.6,553.3 959.2,553.6 959.8,553.8 960.4,554.6 961.0,553.9 961.6,552.5 962.2,552.4 962.8,552.9 963.4,552.9 964.0,552.6 964.6,551.6 965.2,551.5 965.8,551.4 966.4,552.0 967.0,551.9 967.6,550.8 968.2,550.9 968.8,550.5 969.4,550.2 970.0,550.5 970.6,550.3 971.2,550.2 971.8,550.7 972.4,550.9 973.0,549.8 973.6,549.4 974.2,550.2 974.8,550.0 975.4,549.8 975.5,550.0 976.0,550.2 976.6,550.2 977.2,549.9 977.8,549.7 978.4,549.9 979.0,550.0 979.6,550.6 980.2,551.0 980.8,550.3 981.4,550.7 982.0,550.9 982.6,550.7 983.2,550.8 983.8,550.6 984.4,550.4 985.0,550.6 985.6,551.5 986.2,551.6 986.8,551.2 987.4,551.4 988.0,552.0 988.6,553.1 989.2,552.6 989.8,552.2 990.4,552.7 990.5,552.4 991.0,552.7 991.6,552.5 992.2,552.9 992.8,553.7 993.4,553.3 994.0,554.1 994.6,555.1 995.2,555.3 995.8,554.8 996.4,554.6 997.0,555.4 997.6,556.1 998.2,557.2 998.8,556.7 999.4,556.6 1000.0,557.7 1000.6,558.5 1001.2,558.9 1001.8,558.4 1002.4,558.8 1003.0,559.3 1003.6,559.4 1004.2,560.2 1004.8,560.7 1005.4,561.2 1006.0,561.1 1006.6,562.2 1007.2,563.5 1007.8,563.2 1008.0,562.3 1008.4,561.3 1009.0,561.7 1009.6,562.7 1010.2,564.1 1010.8,565.0 1011.4,564.1 1012.0,564.3 1012.6,565.2 1013.2,565.0 1013.8,565.2 1014.4,565.6 1015.0,565.1 1015.6,564.7 1016.2,565.2 1016.8,566.2 1017.4,566.0 1018.0,565.2 1018.6,566.1 1019.2,565.9 1019.8,566.6 1020.4,567.6 1021.0,567.4 1021.6,568.5 1022.2,567.8 1022.8,566.9 1023.4,568.5 1024.0,568.9 1024.6,568.2 1025.2,568.6 1025.8,569.2 1026.4,569.7 1027.0,569.5 1027.6,569.0 1028.2,569.1 1028.8,569.4 1029.4,570.1 1030.0,570.1 1030.6,570.4 1031.2,570.1 1031.8,569.7 1032.4,570.8 1033.0,571.2 1033.0,570.6 1033.6,569.9 1034.2,569.5 1034.8,569.9 1035.4,570.3 1036.0,570.3 1036.6,569.7 1037.2,569.6 1037.8,570.4 1038.4,571.1 1039.0,570.4 1039.6,570.0 1040.2,569.9 1040.8,569.9 1041.4,571.9 1042.0,572.2 1042.6,570.8 1043.2,570.6 1043.8,570.3 1044.4,569.8 1045.0,570.3 1045.6,571.0 1046.2,571.6 1046.8,571.1 1047.4,570.7 1048.0,571.9 1048.6,571.0 1049.2,570.8 1049.8,571.0 1050.4,570.9 1051.0,572.1 1051.6,572.0 1052.2,571.6 1052.8,571.3 1053.4,571.4 1054.0,572.1 1054.6,571.9 1055.2,571.5 1055.8,571.7 1056.4,572.1 1057.0,571.4 1057.6,571.1 1058.2,571.5 1058.8,571.7 1059.4,572.4 1060.0,572.4 1060.6,572.5 1061.2,572.0 1061.8,571.4 1062.4,571.4 1063.0,571.6 1063.6,572.1 1064.2,572.0 1064.8,571.6 1065.4,571.7 1066.0,572.0 1066.6,572.3 1067.2,572.4 1067.8,572.6 1068.4,572.9 1069.0,571.8 1069.6,571.7 1070.2,571.9 1070.5,572.3 1070.8,573.4 1071.4,573.1 1072.0,572.8 1072.6,572.3 1073.2,571.3 1073.8,571.7 1074.4,572.5 1075.0,572.2 1075.6,572.4 1076.2,573.1 1076.8,573.4 1077.4,573.9 1078.0,574.0 1078.6,573.3 1079.2,573.1 1079.8,573.5 1080.4,573.2 1081.0,573.5 1081.6,574.3 1082.2,573.7 1082.8,573.2 1083.4,574.8 1084.0,575.4 1084.6,574.4 1085.2,574.8 1085.8,574.9 1086.4,574.3 1087.0,574.3 1087.6,573.9 1088.2,574.0 1088.8,573.8 1089.4,573.7 1090.0,574.6 1090.6,573.9 1091.2,574.5 1091.8,574.7 1092.4,574.4 1093.0,574.7 1093.6,574.5 1094.2,574.5 1094.8,575.4 1095.4,576.1 1096.0,575.9 1096.6,575.9 1097.2,575.5 1097.8,575.3 1098.4,575.0 1099.0,575.3 1099.6,575.5 1100.2,575.2 1100.8,574.7 1101.4,574.7 1102.0,575.5 1102.6,575.5 1103.2,575.5 1103.8,575.7 1104.4,575.2 1105.0,575.0 1105.6,575.1 1106.2,575.4 1106.8,575.7 1107.4,576.3 1108.0,576.0 1108.0,574.8 1108.6,575.6 1109.2,576.2 1109.8,576.0 1110.4,577.2 1111.0,577.9 1111.6,577.2 1112.2,577.0 1112.8,576.9 1113.4,577.0 1114.0,576.8 1114.6,576.2 1115.2,576.3 1115.8,577.3 1116.4,578.1 1117.0,577.3 1117.6,577.3 1118.2,577.5 1118.8,577.5 1119.4,577.5 1120.0,577.6 1120.6,577.7 1121.2,577.3 1121.8,577.4 1122.4,577.6 1123.0,577.5 1123.6,577.0 1124.2,577.9 1124.8,578.4 1125.4,577.1 1126.0,576.4 1126.6,576.1 1127.2,576.8 1127.8,578.5 1128.4,578.2 1129.0,577.6 1129.6,577.6 1130.2,578.2 1130.8,579.1 1131.4,578.9 1132.0,579.3 1132.6,579.9 1133.2,579.8 1133.8,579.1 1134.4,578.2 1135.0,578.1 1135.6,578.0 1136.2,579.2 1136.8,579.8 1137.4,579.2 1138.0,579.4 1138.6,580.2 1139.2,580.0 1139.8,579.7 1140.4,580.1 1141.0,579.7 1141.6,578.9 1142.2,579.3 1142.8,579.9 1143.4,579.4 1144.0,579.8 1144.6,580.1 1145.2,580.5 1145.5,580.2 1145.8,579.9 1146.4,580.3 1147.0,580.3 1147.6,580.5 1148.2,580.4 1148.8,580.7 1149.4,580.6 1150.0,579.6 1150.6,579.9 1151.2,581.0 1151.8,580.9 1152.4,580.2 1153.0,580.4 1153.6,580.7 1154.2,580.8 1154.8,581.0 1155.4,580.4 1156.0,580.9 1156.6,581.9 1157.2,581.0 1157.8,581.4 1158.4,581.9 1159.0,582.0 1159.6,581.4 1160.2,581.5 1160.8,582.1 1161.4,580.7 1162.0,581.0 1162.6,581.7 1163.2,581.0 1163.8,581.1 1164.4,580.8 1165.0,581.1 1165.6,581.8 1166.2,581.5 1166.8,582.1 1167.4,582.2 1168.0,581.4 1168.6,581.0 1169.2,581.3 1169.8,582.0 1170.4,581.8 1171.0,581.0 1171.6,581.5 1172.2,581.9 1172.8,581.4 1173.4,582.2 1174.0,581.6 1174.6,580.8 1175.2,580.5 1175.5,580.2 1175.8,581.1 1176.4,581.5 1177.0,580.6 1177.6,580.4 1178.2,581.0 1178.8,580.4 1179.4,580.8 1180.0,580.6 1180.6,579.0 1181.2,578.8 1181.8,578.0 1182.4,578.0 1183.0,578.5 1183.6,577.1 1184.2,576.2 1184.8,575.5 1185.4,574.8 1186.0,572.7 1186.6,569.3 1187.2,565.7 1187.8,561.8 1188.4,555.9 1189.0,547.5 1189.6,536.9 1190.2,522.2 1190.8,503.7 1191.4,483.5 1192.0,462.9 1192.6,447.9 1193.0,444.7 1193.2,445.5 1193.8,456.5 1194.4,476.6 1195.0,498.0 1195.6,516.1 1196.2,531.8 1196.8,544.3 1197.4,553.3 1198.0,560.1 1198.6,565.4 1199.2,568.9 1199.8,571.6 1200.4,572.7 1201.0,573.3 1201.6,575.3 1202.2,576.5 1202.8,577.3 1203.4,578.2 1204.0,577.7 1204.6,578.2 1205.2,578.7 1205.8,578.9 1206.4,580.0 1207.0,581.0 1207.6,580.7 1208.0,580.3 1208.2,580.5 1208.8,580.7 1209.4,579.8 1210.0,579.6 1210.6,580.9 1211.2,581.5 1211.8,581.3 1212.4,581.7 1213.0,582.6 1213.6,582.6 1214.2,582.3 1214.8,582.4 1215.4,582.7 1216.0,583.5 1216.6,584.3 1217.2,583.8 1217.8,583.0 1218.4,583.1 1219.0,583.9 1219.6,584.4 1220.2,584.2 1220.5,584.3 1220.8,584.4 1221.4,584.2 1222.0,583.6 1222.6,583.5 1223.2,583.9 1223.8,584.3 1224.4,584.1 1225.0,583.8 1225.6,584.5 1226.2,584.5 1226.8,584.0 1227.4,584.0 1228.0,583.6 1228.6,583.1 1229.2,583.2 1229.8,583.5 1230.4,584.0 1231.0,583.8 1231.6,583.3 1232.2,584.0 1232.8,584.1 1233.4,584.0 1234.0,584.3 1234.6,583.5 1235.2,583.0 1235.8,583.2 1236.4,583.8 1237.0,584.1 1237.6,583.8 1238.2,584.4 1238.8,584.1 1239.4,583.4 1240.0,583.7 1240.0,583.6 1240.6,583.9 1241.2,584.3 1241.8,584.2 1242.4,583.8 1243.0,583.3 1243.6,583.1 1244.2,583.1 1244.8,582.6 1245.4,582.8 1246.0,583.8 1246.6,583.6 1247.2,583.1 1247.8,583.1 1248.4,583.3 1249.0,583.4 1249.6,584.0 1250.2,583.5 1250.8,582.9 1251.4,583.5 1252.0,583.4 1252.6,583.0 1253.2,582.6 1253.8,582.4 1254.4,583.0 1255.0,583.8 1255.6,583.3 1256.2,582.9 1256.8,583.3 1257.4,583.5 1258.0,583.3 1258.6,583.1 1259.2,583.3 1259.8,582.7 1260.4,582.3 1261.0,582.1 1261.6,581.3 1262.2,581.6 1262.8,581.8 1263.4,582.3 1264.0,583.2 1264.6,582.9 1265.2,582.4 1265.8,582.4 1266.4,582.4 1267.0,582.5 1267.0,582.7"/>
<path stroke="#fb5a08" d="M688.0,480.2 688.6,480.4 689.2,480.6 689.8,480.6 690.4,480.4 691.0,479.8 691.6,480.6 692.2,481.3 692.8,481.3 693.4,482.2 694.0,482.5 694.6,482.2 695.2,482.3 695.8,483.2 696.4,484.1 697.0,484.0 697.6,483.5 698.2,483.9 698.8,484.8 699.4,485.2 700.0,486.2 700.5,486.1 700.6,485.9 701.2,487.0 701.8,487.6 702.4,487.8 703.0,488.1 703.6,488.8 704.2,489.6 704.8,491.2 705.4,492.7 706.0,492.9 706.6,493.9 707.2,494.9 707.8,494.7 708.4,496.7 709.0,499.5 709.6,499.5 710.2,499.9 710.8,501.5 711.4,502.6 712.0,503.1 712.6,504.0 713.0,504.7 713.2,505.0 713.8,505.9 714.4,506.8 715.0,507.2 715.6,508.0 716.2,508.4 716.8,509.6 717.4,510.3 718.0,510.4 718.6,511.9 719.2,512.7 719.8,513.4 720.4,514.3 721.0,514.5 721.6,514.6 722.2,515.8 722.8,516.3 723.4,516.7 724.0,518.0 724.6,518.6 725.2,518.7 725.8,519.5 726.4,520.4 727.0,521.3 727.6,522.0 728.0,522.6 728.2,523.0 728.8,523.8 729.4,525.1 730.0,525.5 730.6,526.6 731.2,527.6 731.8,528.2 732.4,529.3 733.0,529.7 733.6,529.7 734.2,531.2 734.8,532.2 735.4,531.9 735.5,532.6 736.0,533.3 736.6,533.9 737.2,534.7 737.8,534.4 738.4,533.8 739.0,533.5 739.6,532.2 740.2,530.6 740.8,529.0 741.4,525.3 742.0,520.6 742.6,513.9 743.2,506.5 743.8,499.0 744.4,490.6 745.0,484.6 745.5,482.2 745.6,482.0 746.2,483.4 746.8,488.4 747.4,497.1 748.0,507.6 748.6,516.8 749.2,525.1 749.8,532.7 750.4,538.5 751.0,543.5 751.6,547.1 752.2,549.5 752.8,552.4 753.0,553.2 753.4,553.6 754.0,555.7 754.6,557.4 755.2,558.6 755.8,560.5 756.4,561.7 757.0,563.1 757.6,565.3 758.2,566.6 758.8,567.4 759.4,568.3 760.0,568.7 760.5,569.3 760.6,570.2 761.2,571.3 761.8,571.9 762.4,572.1 763.0,572.4 763.6,573.1 764.2,574.1 764.8,575.1 765.4,575.6 766.0,575.5 766.6,575.9 767.2,576.4 767.8,576.8 768.4,576.6 769.0,576.5 769.6,577.2 770.2,578.3 770.8,579.1 771.4,579.3 772.0,580.0 772.6,579.9 773.0,580.1 773.2,580.7 773.8,580.2 774.4,580.9 775.0,580.9 775.6,580.2 776.2,580.9 776.8,581.7 777.4,582.0 778.0,581.3 778.6,581.5 779.2,582.5 779.8,583.8 780.4,584.5 781.0,583.9 781.6,583.2 782.2,583.4 782.8,583.6 783.4,583.8 784.0,584.5 784.6,584.5 785.2,584.6 785.8,584.8 786.4,584.7 787.0,585.5 787.6,586.1 788.2,585.5 788.8,585.1 789.4,585.4 790.0,586.0 790.6,586.3 791.2,586.7 791.8,586.7 792.4,585.7 793.0,586.4 793.6,587.2 794.2,586.8 794.8,586.8 795.4,586.0 795.5,585.3 796.0,585.7 796.6,586.2 797.2,585.9 797.8,585.3 798.4,586.2 799.0,586.4 799.6,585.6 800.2,586.0 800.8,585.5 801.4,584.9 802.0,585.1 802.6,585.0 803.2,584.8 803.8,584.2 804.4,584.2 805.0,583.8 805.6,583.7 806.2,583.9 806.8,583.8 807.4,583.5 808.0,582.7 808.6,582.7 809.2,583.1 809.8,581.9 810.4,581.1 811.0,581.8 811.6,580.8 812.2,579.8 812.8,580.1 813.0,579.9 813.4,579.1 814.0,579.4 814.6,578.6 815.2,576.9 815.8,575.5 816.4,574.4 817.0,573.7 817.6,573.3 818.2,572.7 818.8,569.8 819.4,568.0 820.0,566.3 820.6,562.9 821.2,559.9 821.8,556.9 822.4,553.2 823.0,549.6 823.6,547.4 824.2,546.3 824.5,546.0 824.8,546.1 825.4,547.2 826.0,549.3 826.6,552.2 827.2,555.6 827.8,558.6 828.4,561.4 829.0,564.2 829.6,566.7 830.2,568.3 830.8,570.4 831.4,572.6 832.0,574.3 832.6,575.7 833.2,576.0 833.8,576.6 834.0,576.4 834.4,576.7 835.0,578.8 835.6,580.4 836.2,580.9 836.8,581.0 837.4,581.4 838.0,582.0 838.6,581.5 839.2,581.4 839.8,582.9 840.4,583.9 841.0,583.9 841.6,583.6 842.2,583.5 842.8,583.6 843.0,583.5 843.4,583.0 844.0,583.5 844.6,584.1 845.2,584.0 845.8,584.8 846.4,585.1 847.0,584.1 847.6,584.1 848.2,583.7 848.8,583.8 849.4,584.3 850.0,583.7 850.6,583.7 851.2,584.1 851.8,583.6 852.4,582.5 853.0,583.3 853.6,583.5 854.2,583.1 854.8,582.7 855.4,582.1 856.0,582.0 856.6,581.9 857.2,581.9 857.8,581.3 858.4,581.8 859.0,582.1 859.6,580.6 860.2,580.3 860.8,580.7 861.4,580.3 862.0,580.3 862.6,580.6 863.0,580.8 863.2,580.7 863.8,580.0 864.4,580.2 865.0,581.2 865.6,581.0 866.2,580.9 866.8,581.6 867.4,581.3 868.0,581.3 868.6,581.3 869.2,581.1 869.8,581.1 870.4,581.5 871.0,582.5 871.6,582.2 872.2,582.2 872.8,581.8 873.4,581.1 874.0,581.6 874.6,582.7 875.2,583.0 875.8,582.8 876.4,582.4 877.0,582.2 877.6,583.3 878.2,583.4 878.8,582.3 879.4,582.5 880.0,584.0 880.6,584.6 881.2,584.6 881.8,583.6 882.4,583.5 883.0,584.6 883.6,584.5 884.2,584.5 884.8,584.8 885.4,584.8 886.0,585.4 886.6,585.2 887.2,586.1 887.8,586.6 888.4,585.8 889.0,585.6 889.6,585.6 890.2,585.9 890.8,585.4 891.4,585.1 892.0,585.9 892.6,586.5 893.2,585.5 893.8,584.9 894.4,585.8 895.0,586.7 895.6,587.1 896.2,586.8 896.8,586.8 897.4,587.3 898.0,586.9 898.6,587.0 899.2,587.6 899.8,588.0 900.4,588.0 901.0,587.5 901.6,587.1 902.2,586.9 902.8,586.9 903.0,587.1 903.4,587.2 904.0,587.5 904.6,587.8 905.2,587.7 905.8,587.4 906.4,587.4 907.0,587.2 907.6,587.0 908.2,586.9 908.8,586.6 909.4,586.2 910.0,585.3 910.6,584.6 911.2,585.6 911.8,586.1 912.4,585.5 913.0,585.2 913.6,584.8 914.0,585.9 914.2,585.7 914.8,584.7 915.4,585.3 916.0,585.2 916.6,585.1 917.2,585.7 917.8,586.5 918.4,587.1 919.0,588.0 919.6,588.2 920.2,588.6 920.8,590.0 921.4,590.6 922.0,589.9 922.0,588.5 922.6,589.5 923.2,591.1 923.8,590.8 924.4,591.4 925.0,591.8 925.6,591.7 926.2,591.7 926.8,592.1 927.4,592.6 928.0,592.5 928.6,593.3 929.2,593.8 929.8,593.0 930.4,593.4 931.0,594.4 931.6,593.9 932.2,593.5 932.8,593.9 933.0,593.9 933.4,594.0 934.0,594.3 934.6,594.1 935.2,594.6 935.8,594.5 936.4,593.5 937.0,594.5 937.6,595.6 938.2,594.9 938.8,593.9 939.4,593.5 940.0,593.9 940.6,594.4 941.2,593.6 941.8,593.7 942.4,594.5 943.0,594.6 943.6,594.9 944.2,595.0 944.8,594.4 945.4,593.9 946.0,593.9 946.6,594.3 947.2,594.4 947.8,594.3 948.4,594.1 949.0,593.9 949.6,594.3 950.2,593.9 950.8,592.9 951.4,593.6 952.0,594.3 952.6,593.4 953.2,593.2 953.8,593.3 954.4,592.5 955.0,592.5 955.6,592.6 956.2,592.7 956.8,593.1 957.4,593.4 958.0,593.4 958.0,593.1 958.6,593.0 959.2,592.6 959.8,592.1 960.4,592.5 961.0,593.0 961.6,592.3 962.2,592.2 962.8,592.1 963.4,591.6 964.0,591.6 964.6,592.2 965.2,591.8 965.8,590.7 966.4,590.4 967.0,591.4 967.6,591.2 968.2,590.8 968.8,590.8 969.4,590.5 970.0,590.4 970.6,589.4 971.2,589.2 971.8,590.4 972.4,590.4 973.0,589.8 973.6,589.6 974.2,589.3 974.8,589.6 975.0,589.8 975.4,590.5 976.0,590.4 976.6,589.5 977.2,589.3 977.8,588.9 978.4,588.7 979.0,589.5 979.6,589.5 980.2,589.9 980.8,591.1 981.4,590.6 982.0,590.0 982.6,590.3 983.2,590.9 983.8,591.5 984.4,591.3 985.0,591.0 985.6,591.4 986.2,591.7 986.8,591.6 987.4,591.3 988.0,591.1 988.6,591.7 989.2,592.4 989.8,593.3 990.4,594.4 991.0,594.9 991.6,594.4 992.2,594.6 992.8,594.6 993.0,593.8 993.4,594.8 994.0,594.8 994.6,594.0 995.2,594.5 995.8,595.4 996.4,595.5 997.0,595.5 997.6,595.8 998.2,595.3 998.8,595.8 999.4,596.6 1000.0,596.3 1000.6,596.2 1001.2,596.6 1001.8,597.5 1002.4,598.3 1003.0,598.3 1003.6,598.5 1004.2,598.5 1004.8,598.8 1005.4,599.0 1006.0,598.6 1006.6,598.8 1007.2,599.7 1007.8,600.2 1008.4,600.8 1009.0,600.3 1009.6,600.1 1010.2,601.1 1010.8,601.0 1011.4,601.2 1012.0,601.6 1012.6,601.2 1013.2,602.0 1013.8,602.0 1014.4,602.1 1015.0,602.6 1015.5,602.0 1015.6,601.8 1016.2,602.0 1016.8,602.2 1017.4,602.6 1018.0,602.4 1018.6,602.8 1019.2,603.9 1019.8,604.1 1020.4,603.5 1021.0,602.2 1021.6,602.5 1022.2,603.3 1022.8,603.8 1023.4,603.7 1024.0,603.7 1024.6,604.0 1025.2,603.6 1025.8,604.3 1026.4,604.5 1027.0,604.0 1027.6,604.9 1028.2,604.6 1028.8,604.3 1029.4,605.2 1030.0,605.2 1030.6,605.1 1031.2,605.3 1031.8,605.1 1032.4,605.3 1033.0,605.2 1033.6,604.9 1034.2,605.5 1034.8,605.7 1035.4,605.6 1036.0,605.1 1036.6,605.0 1037.2,605.9 1037.8,606.3 1038.4,606.1 1039.0,605.6 1039.6,605.3 1040.2,605.7 1040.8,606.5 1041.4,606.4 1042.0,606.5 1042.6,606.4 1043.2,606.4 1043.8,606.2 1044.4,605.9 1045.0,605.9 1045.6,606.1 1046.2,606.8 1046.8,606.3 1047.4,605.8 1048.0,606.1 1048.6,605.9 1049.2,605.7 1049.8,606.0 1050.4,606.7 1051.0,607.6 1051.6,607.2 1052.2,606.6 1052.8,606.9 1053.4,606.9 1054.0,606.8 1054.6,607.4 1055.2,607.6 1055.8,607.3 1056.4,607.1 1057.0,607.7 1057.6,607.8 1058.0,607.3 1058.2,607.2 1058.8,607.0 1059.4,607.5 1060.0,607.6 1060.6,607.8 1061.2,608.1 1061.8,607.4 1062.4,606.6 1063.0,607.6 1063.6,608.3 1064.2,608.5 1064.8,608.8 1065.4,608.0 1066.0,608.3 1066.6,608.5 1067.2,608.4 1067.8,608.2 1068.4,608.5 1069.0,609.3 1069.6,609.0 1070.2,609.3 1070.8,609.3 1071.4,608.8 1072.0,608.5 1072.6,607.7 1073.2,609.2 1073.8,610.5 1074.4,610.2 1075.0,609.1 1075.6,608.8 1076.2,609.7 1076.8,609.7 1077.4,609.7 1078.0,609.4 1078.6,609.3 1079.2,609.3 1079.8,609.3 1080.4,609.9 1081.0,609.8 1081.6,609.6 1082.2,609.8 1082.8,610.0 1083.4,610.5 1084.0,610.7 1084.6,610.5 1085.2,610.0 1085.8,609.8 1086.4,610.7 1087.0,610.5 1087.6,610.1 1088.2,610.1 1088.8,610.9 1089.4,611.1 1090.0,610.4 1090.6,610.9 1091.2,611.6 1091.8,611.6 1092.4,611.6 1093.0,611.6 1093.6,611.2 1094.2,611.0 1094.8,611.0 1095.4,611.0 1096.0,611.3 1096.6,611.6 1097.2,611.5 1097.8,611.9 1098.4,611.9 1099.0,611.2 1099.6,610.9 1100.2,611.1 1100.8,610.7 1101.4,611.2 1102.0,611.6 1102.6,611.1 1103.2,611.2 1103.8,612.1 1104.4,612.4 1105.0,612.5 1105.6,612.6 1106.2,612.2 1106.8,612.4 1107.4,612.9 1108.0,612.8 1108.0,612.2 1108.6,612.0 1109.2,612.0 1109.8,612.1 1110.4,612.6 1111.0,613.3 1111.6,613.9 1112.2,613.6 1112.8,613.5 1113.4,613.4 1114.0,614.1 1114.6,614.7 1115.2,614.7 1115.8,614.3 1116.4,613.5 1117.0,613.8 1117.6,613.8 1118.2,613.5 1118.8,613.1 1119.4,613.4 1120.0,613.9 1120.6,613.9 1121.2,613.8 1121.8,612.9 1122.4,613.2 1123.0,614.3 1123.6,613.7 1124.2,613.0 1124.8,613.4 1125.4,613.7 1126.0,613.2 1126.6,614.0 1127.2,615.1 1127.8,614.2 1128.4,613.2 1129.0,613.6 1129.6,615.1 1130.2,615.3 1130.8,615.0 1131.4,614.4 1132.0,614.1 1132.6,613.9 1133.2,614.6 1133.8,615.4 1134.4,613.9 1135.0,613.1 1135.6,614.1 1136.2,614.9 1136.8,614.6 1137.4,614.8 1138.0,615.8 1138.6,615.7 1139.2,614.3 1139.8,614.2 1140.4,614.4 1141.0,614.2 1141.6,614.8 1142.2,615.1 1142.8,614.6 1143.4,614.7 1144.0,614.8 1144.6,615.1 1145.2,615.3 1145.8,615.3 1146.4,615.4 1147.0,615.5 1147.6,615.6 1148.2,615.4 1148.8,615.3 1149.4,615.3 1150.0,614.9 1150.6,615.9 1151.2,616.4 1151.8,615.4 1152.4,615.5 1153.0,615.4 1153.6,615.7 1154.2,615.7 1154.8,615.5 1155.4,615.2 1156.0,615.0 1156.6,615.1 1157.2,616.2 1157.8,616.2 1158.0,615.1 1158.4,615.7 1159.0,616.6 1159.6,616.0 1160.2,614.9 1160.8,615.6 1161.4,616.3 1162.0,615.8 1162.6,615.0 1163.2,615.2 1163.8,616.2 1164.4,616.6 1165.0,616.6 1165.6,616.6 1166.2,616.3 1166.8,616.6 1167.4,616.6 1168.0,616.5 1168.6,616.2 1169.2,615.9 1169.8,616.4 1170.4,616.5 1171.0,616.0 1171.6,616.3 1172.2,616.8 1172.8,616.5 1173.4,616.0 1174.0,616.2 1174.6,617.4 1175.2,616.7 1175.5,615.1 1175.8,615.1 1176.4,615.2 1177.0,614.9 1177.6,614.6 1178.2,615.2 1178.8,615.8 1179.4,615.8 1180.0,615.5 1180.6,614.5 1181.2,614.3 1181.8,613.8 1182.4,612.8 1183.0,612.1 1183.6,612.0 1184.2,612.0 1184.8,610.4 1185.4,608.7 1186.0,607.2 1186.6,605.2 1187.2,602.4 1187.8,597.9 1188.4,591.6 1189.0,582.6 1189.6,570.9 1190.2,556.0 1190.8,538.4 1191.4,518.1 1192.0,496.8 1192.6,481.5 1193.0,478.2 1193.2,479.1 1193.8,490.4 1194.4,509.9 1195.0,531.0 1195.6,550.2 1196.2,566.5 1196.8,579.4 1197.4,589.4 1198.0,596.0 1198.6,600.7 1199.2,604.7 1199.8,607.3 1200.4,609.0 1201.0,609.6 1201.6,610.6 1202.2,612.7 1202.8,613.7 1203.4,613.5 1204.0,613.9 1204.6,615.0 1205.2,615.2 1205.8,615.7 1206.4,616.2 1207.0,616.1 1207.6,616.6 1208.0,617.8 1208.2,617.8 1208.8,617.0 1209.4,617.6 1210.0,617.9 1210.6,617.9 1211.2,617.5 1211.8,617.7 1212.4,618.8 1213.0,618.4 1213.6,619.1 1214.2,619.7 1214.8,619.3 1215.4,619.0 1216.0,618.6 1216.6,619.0 1217.2,619.1 1217.8,619.6 1218.0,620.5 1218.4,620.1 1219.0,619.2 1219.6,619.3 1220.2,619.6 1220.8,619.8 1221.4,620.3 1222.0,620.1 1222.6,620.0 1223.2,620.6 1223.8,621.2 1224.4,620.7 1225.0,620.3 1225.6,620.4 1226.2,619.7 1226.8,620.3 1227.4,620.8 1228.0,620.4 1228.6,620.4 1229.2,620.3 1229.8,619.7 1230.4,620.5 1231.0,621.2 1231.6,620.6 1232.2,620.6 1232.8,621.0 1233.4,620.5 1234.0,620.3 1234.6,620.2 1235.2,620.2 1235.8,620.2 1236.4,620.9 1237.0,620.8 1237.6,620.1 1238.2,620.4 1238.8,620.0 1239.4,620.2 1240.0,620.3 1240.0,619.8 1240.6,619.8 1241.2,619.7 1241.8,620.1 1242.4,620.6 1243.0,620.5 1243.6,619.7 1244.2,619.5 1244.8,619.7 1245.4,619.6 1246.0,620.3 1246.6,620.4 1247.2,619.8 1247.8,620.1 1248.4,620.5 1249.0,620.8 1249.6,619.7 1250.2,619.1 1250.8,619.6 1251.4,619.1 1252.0,619.3 1252.6,619.2 1253.2,618.3 1253.8,618.4 1254.4,619.1 1255.0,620.1 1255.6,619.9 1256.2,618.7 1256.8,618.2 1257.4,618.5 1258.0,619.1 1258.6,619.3 1259.2,618.8 1259.8,618.5 1260.4,618.1 1261.0,618.5 1261.6,618.7 1262.2,617.6 1262.8,618.6 1263.4,619.8 1264.0,619.4 1264.6,619.3 1265.2,618.8 1265.8,619.0 1266.4,619.0 1267.0,619.3 1267.0,619.8"/>
<path stroke="#ff9c08" d="M688.0,517.8 688.6,517.8 689.2,517.2 689.8,516.4 690.4,517.2 691.0,518.1 691.6,518.0 692.2,517.9 692.8,517.6 693.4,518.7 694.0,519.2 694.6,518.9 695.2,518.8 695.8,519.3 696.4,520.4 697.0,520.5 697.6,520.5 698.2,520.5 698.8,521.5 699.4,522.1 700.0,521.9 700.5,523.0 700.6,523.1 701.2,522.3 701.8,522.5 702.4,523.6 703.0,525.2 703.6,526.2 704.2,526.2 704.8,527.2 705.4,528.7 706.0,529.0 706.6,529.9 707.2,531.5 707.8,532.1 708.4,531.9 709.0,532.8 709.6,535.2 710.2,536.0 710.8,537.3 711.4,538.4 712.0,538.1 712.6,539.2 713.0,540.3 713.2,540.7 713.8,541.4 714.4,542.4 715.0,543.2 715.6,543.7 716.2,544.4 716.8,544.9 717.4,546.4 718.0,547.4 718.6,548.1 719.2,549.2 719.8,550.4 720.4,551.7 721.0,552.8 721.6,553.9 722.2,554.6 722.8,554.9 723.4,555.1 724.0,556.1 724.6,557.3 725.2,557.6 725.8,559.4 726.4,560.2 727.0,560.6 727.6,562.3 728.0,562.6 728.2,563.6 728.8,564.5 729.4,564.1 730.0,565.5 730.6,566.3 731.2,565.9 731.8,566.6 732.4,567.6 733.0,568.7 733.6,569.8 734.2,569.9 734.8,570.5 735.4,572.4 736.0,572.5 736.6,572.1 736.8,572.7 737.2,573.4 737.8,573.2 738.4,572.5 739.0,572.3 739.6,572.7 740.2,572.7 740.8,570.2 741.4,567.1 742.0,564.5 742.6,560.9 743.2,556.7 743.8,552.1 744.4,547.5 745.0,543.7 745.5,542.1 745.6,542.0 746.2,543.1 746.8,546.2 747.4,551.7 748.0,558.8 748.6,564.7 749.2,570.5 749.8,576.4 750.4,580.0 751.0,583.0 751.6,585.6 752.2,587.7 752.8,589.8 753.0,590.0 753.4,591.1 754.0,593.3 754.6,594.8 755.2,595.3 755.8,595.9 756.4,598.5 757.0,600.6 757.6,601.6 758.2,602.9 758.8,604.0 759.4,605.3 760.0,606.5 760.5,607.0 760.6,607.5 761.2,608.0 761.8,608.8 762.4,609.0 763.0,610.1 763.6,610.9 764.2,610.7 764.8,612.0 765.4,612.2 766.0,612.6 766.6,612.9 767.2,612.4 767.8,612.9 768.4,614.3 769.0,614.3 769.6,613.5 770.2,613.8 770.8,614.9 771.4,615.5 772.0,616.1 772.6,616.4 773.0,616.4 773.2,615.5 773.8,616.4 774.4,617.5 775.0,617.2 775.6,617.3 776.2,617.2 776.8,617.6 777.4,618.5 778.0,619.3 778.6,619.2 779.2,619.6 779.8,619.5 780.4,619.2 781.0,619.4 781.6,619.9 782.2,620.3 782.8,620.4 783.4,621.3 784.0,620.3 784.6,620.7 785.2,621.8 785.8,621.0 786.4,620.3 787.0,620.5 787.6,620.5 788.2,620.8 788.8,621.8 789.4,622.6 790.0,622.6 790.6,622.4 791.2,623.1 791.8,623.6 792.4,623.1 793.0,622.6 793.6,622.2 794.2,621.5 794.8,622.0 795.4,622.4 795.5,622.0 796.0,621.8 796.6,622.5 797.2,622.5 797.8,622.1 798.4,621.8 799.0,622.3 799.6,623.2 800.2,622.7 800.8,621.8 801.4,622.2 802.0,622.3 802.6,621.3 803.2,620.4 803.8,620.3 804.4,621.4 805.0,621.3 805.6,621.3 806.2,621.4 806.8,620.0 807.4,620.3 808.0,620.1 808.6,619.5 809.2,618.9 809.8,618.1 810.4,618.0 811.0,618.3 811.6,618.0 812.2,616.9 812.8,617.0 813.0,617.6 813.4,617.1 814.0,616.6 814.6,615.4 815.2,615.8 815.8,615.9 816.4,614.9 817.0,614.9 817.6,614.4 818.2,613.0 818.8,611.5 819.4,610.3 820.0,609.2 820.6,607.6 821.2,605.3 821.8,603.3 822.4,601.6 823.0,599.7 823.6,598.1 824.0,597.4 824.2,597.1 824.8,597.0 825.4,597.9 826.0,599.1 826.6,600.8 827.2,603.1 827.8,605.8 828.4,608.4 829.0,610.1 829.6,611.2 830.2,612.6 830.8,614.6 831.4,615.9 832.0,616.2 832.6,617.2 833.0,617.3 833.2,617.2 833.8,618.2 834.4,618.5 835.0,618.5 835.6,619.2 836.2,620.6 836.8,619.9 837.4,619.5 838.0,620.5 838.6,621.4 839.2,621.2 839.8,620.0 840.4,620.3 841.0,621.5 841.6,621.6 842.2,621.0 842.8,621.7 843.4,620.8 844.0,619.3 844.6,620.5 845.2,621.6 845.8,620.8 846.4,620.7 847.0,621.2 847.6,621.1 848.0,620.8 848.2,620.5 848.8,620.5 849.4,620.6 850.0,620.8 850.6,621.4 851.2,621.6 851.8,620.3 852.4,620.1 853.0,621.1 853.6,620.9 854.2,620.6 854.8,620.4 855.4,620.1 856.0,619.6 856.6,619.5 857.2,619.1 857.8,619.2 858.4,619.0 859.0,617.5 859.6,618.1 860.2,618.7 860.8,618.4 861.4,618.5 862.0,618.3 862.6,617.7 863.2,617.7 863.8,618.1 864.4,618.1 865.0,618.6 865.6,618.1 866.2,617.3 866.8,617.8 867.4,617.5 868.0,616.9 868.0,616.8 868.6,617.7 869.2,617.8 869.8,617.7 870.4,617.5 871.0,617.5 871.6,617.6 872.2,617.1 872.8,617.5 873.4,617.9 874.0,618.5 874.6,617.9 875.2,617.6 875.8,618.9 876.4,619.3 877.0,618.6 877.6,617.9 878.2,618.0 878.8,618.5 879.4,618.8 880.0,619.0 880.6,619.2 881.2,618.8 881.8,618.3 882.4,618.3 883.0,618.4 883.6,618.9 884.2,619.7 884.8,620.8 885.4,621.0 886.0,620.2 886.6,620.7 887.2,620.5 887.8,620.3 888.4,621.1 889.0,621.4 889.6,621.3 890.2,621.0 890.8,620.5 891.4,620.8 892.0,621.1 892.6,621.6 893.2,621.9 893.8,622.0 894.4,621.6 895.0,621.9 895.6,622.4 896.2,621.5 896.8,621.5 897.4,622.0 898.0,623.1 898.6,623.7 899.2,623.0 899.8,622.9 900.4,623.4 901.0,622.9 901.6,622.7 902.2,622.7 902.8,622.8 903.0,622.6 903.4,622.8 904.0,623.5 904.6,623.7 905.2,623.9 905.8,624.8 906.4,625.1 907.0,624.9 907.6,625.5 908.2,625.9 908.8,626.1 909.4,625.7 910.0,625.2 910.6,625.3 911.2,625.7 911.8,626.2 912.4,626.5 913.0,627.1 913.6,627.3 914.2,627.8 914.8,628.4 915.4,627.7 916.0,627.8 916.6,627.1 917.2,627.5 917.8,628.9 918.4,628.7 919.0,628.1 919.6,629.1 920.2,629.8 920.8,628.9 921.4,629.6 922.0,629.7 922.6,629.1 923.2,629.6 923.8,629.7 924.4,629.9 925.0,630.4 925.6,630.7 926.2,630.3 926.8,630.4 927.4,631.1 928.0,631.5 928.6,631.2 929.2,631.2 929.8,631.8 930.4,631.5 931.0,631.0 931.6,630.9 932.2,631.5 932.8,630.9 933.0,630.2 933.4,630.3 934.0,631.3 934.6,631.6 935.2,631.4 935.8,631.4 936.4,631.1 937.0,631.1 937.6,630.8 938.2,631.2 938.8,631.4 939.4,631.0 940.0,630.3 940.6,630.3 941.2,630.6 941.8,630.2 942.4,630.8 943.0,630.6 943.6,630.0 944.2,630.7 944.8,631.1 945.4,630.6 946.0,630.3 946.6,630.5 947.2,629.9 947.8,628.9 948.4,628.5 949.0,629.5 949.6,630.2 950.2,629.4 950.8,629.1 951.4,629.4 952.0,629.4 952.6,629.5 953.2,630.4 953.8,630.0 954.4,629.2 955.0,629.1 955.6,628.8 956.2,628.6 956.8,628.7 957.4,628.8 958.0,628.9 958.0,629.2 958.6,628.7 959.2,629.2 959.8,629.0 960.4,628.3 961.0,629.4 961.6,628.8 962.2,628.4 962.8,629.0 963.4,628.5 964.0,627.1 964.6,627.3 965.2,627.9 965.8,627.0 966.4,627.3 967.0,627.1 967.6,626.9 968.2,626.9 968.8,626.6 969.4,626.3 970.0,625.9 970.5,626.0 970.6,625.9 971.2,626.3 971.8,626.5 972.4,626.6 973.0,627.1 973.6,627.1 974.2,625.9 974.8,625.9 975.4,626.7 976.0,627.3 976.6,627.7 977.2,627.8 977.8,627.4 978.4,627.4 979.0,627.1 979.6,627.4 980.2,628.3 980.8,628.1 981.4,627.9 982.0,627.9 982.6,627.9 983.2,628.2 983.8,628.1 984.4,628.4 985.0,629.3 985.6,629.9 986.2,629.8 986.8,629.2 987.4,629.4 988.0,629.7 988.6,629.7 989.2,629.4 989.8,629.2 990.4,629.6 991.0,630.1 991.6,630.1 992.2,629.9 992.8,630.4 993.4,631.3 994.0,631.5 994.6,631.7 995.2,632.3 995.8,632.5 996.4,632.2 997.0,631.9 997.6,631.5 998.0,631.5 998.2,632.5 998.8,632.5 999.4,633.0 1000.0,634.2 1000.6,633.8 1001.2,633.8 1001.8,633.7 1002.4,633.1 1003.0,633.8 1003.6,634.5 1004.2,634.8 1004.8,634.8 1005.4,635.8 1006.0,636.6 1006.6,636.2 1007.2,636.6 1007.8,636.8 1008.4,636.7 1009.0,636.7 1009.6,636.4 1010.2,637.4 1010.8,638.0 1011.4,637.0 1012.0,637.2 1012.6,637.4 1013.2,638.7 1013.8,639.6 1014.4,639.5 1015.0,640.0 1015.5,639.8 1015.6,639.5 1016.2,639.0 1016.8,638.9 1017.4,639.0 1018.0,639.1 1018.6,639.2 1019.2,639.7 1019.8,640.4 1020.4,639.9 1021.0,639.1 1021.6,639.4 1022.2,640.5 1022.8,640.2 1023.4,639.5 1024.0,639.7 1024.6,640.7 1025.2,639.9 1025.8,639.7 1026.4,639.8 1027.0,639.7 1027.6,641.1 1028.2,641.2 1028.8,640.7 1029.4,640.6 1030.0,640.5 1030.6,641.6 1031.2,642.1 1031.8,641.2 1032.4,640.6 1033.0,640.7 1033.6,641.8 1034.2,641.9 1034.8,641.5 1035.4,641.3 1036.0,640.5 1036.6,641.1 1037.2,641.6 1037.8,640.9 1038.4,640.7 1039.0,640.8 1039.6,640.8 1040.2,640.5 1040.8,641.3 1041.4,642.0 1042.0,642.0 1042.6,641.7 1043.2,641.5 1043.8,641.8 1044.4,642.1 1045.0,642.4 1045.6,642.1 1046.2,641.6 1046.8,641.1 1047.4,641.0 1048.0,641.3 1048.6,641.4 1049.2,641.2 1049.8,642.1 1050.4,642.7 1051.0,641.4 1051.6,640.9 1052.2,641.2 1052.8,641.7 1053.4,642.7 1054.0,642.2 1054.6,642.1 1055.2,642.4 1055.8,642.7 1056.4,643.3 1057.0,643.1 1057.6,642.9 1058.0,642.8 1058.2,642.4 1058.8,642.0 1059.4,642.3 1060.0,642.7 1060.6,642.5 1061.2,642.6 1061.8,642.7 1062.4,642.4 1063.0,642.3 1063.6,643.1 1064.2,643.3 1064.8,643.4 1065.4,643.1 1066.0,642.1 1066.6,642.7 1067.2,643.5 1067.8,643.3 1068.4,643.2 1069.0,643.9 1069.6,644.1 1070.2,643.7 1070.8,643.4 1071.4,642.8 1072.0,642.9 1072.6,643.7 1073.2,644.2 1073.8,643.7 1074.4,642.9 1075.0,643.0 1075.6,643.7 1076.2,643.2 1076.8,642.5 1077.4,644.2 1078.0,644.9 1078.6,643.7 1079.2,643.5 1079.8,644.3 1080.4,644.6 1081.0,644.2 1081.6,643.8 1082.2,644.2 1082.8,644.5 1083.4,644.6 1084.0,644.8 1084.6,644.3 1085.2,644.8 1085.8,644.8 1086.4,644.4 1087.0,644.4 1087.6,644.2 1088.2,644.4 1088.8,644.3 1089.4,644.5 1090.0,645.3 1090.6,646.0 1091.2,646.0 1091.8,645.3 1092.4,645.4 1093.0,645.6 1093.6,645.8 1094.2,645.2 1094.8,645.1 1095.4,645.4 1096.0,645.3 1096.6,645.4 1097.2,645.4 1097.8,645.5 1098.4,644.5 1099.0,644.3 1099.6,644.9 1100.2,645.3 1100.8,644.6 1101.4,644.2 1102.0,644.8 1102.6,645.2 1103.2,645.6 1103.8,645.5 1104.4,644.8 1105.0,645.3 1105.6,645.8 1106.2,646.1 1106.8,646.0 1107.4,646.0 1108.0,645.9 1108.0,645.8 1108.6,646.2 1109.2,646.3 1109.8,646.0 1110.4,645.8 1111.0,645.9 1111.6,645.9 1112.2,646.5 1112.8,647.7 1113.4,647.6 1114.0,646.7 1114.6,646.8 1115.2,647.0 1115.8,647.2 1116.4,647.2 1117.0,647.2 1117.6,647.8 1118.2,648.2 1118.8,646.7 1119.4,646.3 1120.0,647.1 1120.6,646.2 1121.2,645.9 1121.8,646.6 1122.4,646.7 1123.0,646.9 1123.6,646.6 1124.2,646.8 1124.8,647.9 1125.4,647.8 1126.0,647.4 1126.6,647.3 1127.2,647.3 1127.8,647.8 1128.4,648.2 1129.0,648.6 1129.6,648.3 1130.2,648.1 1130.8,648.1 1131.4,647.5 1132.0,647.4 1132.6,647.7 1133.2,648.1 1133.8,648.2 1134.4,648.8 1135.0,648.6 1135.6,648.3 1136.2,648.7 1136.8,648.6 1137.4,648.1 1138.0,648.3 1138.6,648.7 1139.2,648.9 1139.8,649.1 1140.4,648.6 1141.0,648.5 1141.6,649.3 1142.2,649.0 1142.8,648.7 1143.4,648.7 1144.0,648.7 1144.6,649.6 1145.2,649.6 1145.8,648.7 1146.4,648.8 1147.0,649.3 1147.6,649.6 1148.2,649.1 1148.8,648.4 1149.4,648.9 1150.0,648.7 1150.6,649.2 1151.2,649.1 1151.8,648.4 1152.4,648.7 1153.0,648.8 1153.6,649.7 1154.2,650.2 1154.8,650.3 1155.4,650.4 1156.0,649.3 1156.6,649.2 1157.2,649.4 1157.8,649.1 1158.0,649.7 1158.4,649.7 1159.0,650.1 1159.6,650.0 1160.2,650.5 1160.8,651.1 1161.4,651.0 1162.0,651.1 1162.6,651.1 1163.2,650.8 1163.8,651.3 1164.4,651.0 1165.0,650.5 1165.6,650.9 1166.2,650.7 1166.8,650.9 1167.4,650.7 1168.0,651.0 1168.6,651.6 1169.2,651.3 1169.8,651.3 1170.4,650.9 1171.0,650.0 1171.6,650.1 1172.2,650.7 1172.8,651.9 1173.0,651.9 1173.4,651.3 1174.0,651.6 1174.6,652.0 1175.2,651.7 1175.8,651.1 1176.4,650.8 1177.0,650.2 1177.6,649.8 1178.2,649.6 1178.8,650.4 1179.4,650.6 1180.0,649.8 1180.6,649.4 1181.2,648.9 1181.8,648.6 1182.4,648.3 1183.0,648.1 1183.6,647.8 1184.2,646.2 1184.8,645.0 1185.4,644.9 1186.0,642.8 1186.6,640.0 1187.2,637.4 1187.8,633.6 1188.4,627.7 1189.0,618.7 1189.6,607.4 1190.2,593.0 1190.8,574.8 1191.4,554.1 1192.0,533.2 1192.6,517.9 1193.0,514.7 1193.2,515.5 1193.8,526.9 1194.4,546.7 1195.0,568.2 1195.6,587.8 1196.2,603.9 1196.8,616.4 1197.4,625.3 1198.0,631.4 1198.6,636.9 1199.2,640.5 1199.8,643.0 1200.4,644.9 1201.0,645.8 1201.6,647.5 1202.2,649.0 1202.8,648.5 1203.4,648.5 1204.0,649.6 1204.6,650.5 1205.2,650.9 1205.8,650.5 1206.4,651.1 1207.0,651.8 1207.6,652.2 1208.0,652.6 1208.2,652.6 1208.8,653.0 1209.4,653.1 1210.0,652.8 1210.6,653.0 1211.2,653.5 1211.8,652.8 1212.4,652.7 1213.0,653.2 1213.6,653.6 1214.2,654.1 1214.8,653.7 1215.4,653.8 1216.0,654.3 1216.6,653.7 1217.2,654.1 1217.8,654.3 1218.4,653.6 1219.0,654.2 1219.6,655.1 1220.2,654.6 1220.5,654.7 1220.8,655.3 1221.4,654.7 1222.0,655.1 1222.6,655.3 1223.2,654.7 1223.8,653.8 1224.4,654.0 1225.0,654.7 1225.6,654.6 1226.2,654.2 1226.8,654.5 1227.4,655.7 1228.0,656.0 1228.6,654.3 1229.2,653.8 1229.8,655.0 1230.4,653.7 1231.0,653.3 1231.6,654.4 1232.2,655.2 1232.8,654.9 1233.4,654.4 1234.0,654.7 1234.6,654.8 1235.2,654.6 1235.8,654.8 1236.4,655.3 1237.0,654.5 1237.6,654.5 1238.2,654.7 1238.8,654.2 1239.4,654.9 1240.0,655.0 1240.0,654.8 1240.6,655.0 1241.2,655.0 1241.8,654.5 1242.4,653.9 1243.0,654.3 1243.6,655.0 1244.2,654.8 1244.8,654.4 1245.4,654.6 1246.0,654.7 1246.6,653.8 1247.2,653.9 1247.8,654.6 1248.4,654.7 1249.0,654.2 1249.6,653.6 1250.2,654.0 1250.8,654.1 1251.4,653.9 1252.0,654.4 1252.6,654.5 1253.2,654.8 1253.8,654.8 1254.4,654.7 1255.0,654.9 1255.6,655.2 1256.2,654.8 1256.8,653.8 1257.4,654.2 1258.0,654.0 1258.6,653.3 1259.2,653.5 1259.8,653.8 1260.4,653.2 1261.0,653.1 1261.6,653.4 1262.2,653.3 1262.8,653.4 1263.4,653.3 1264.0,653.6 1264.6,653.8 1265.2,653.3 1265.8,653.1 1266.4,653.5 1267.0,653.7 1267.0,653.8"/>
<path stroke="#c8b80c" d="M688.0,550.7 688.6,551.0 689.2,550.3 689.8,549.6 690.4,550.1 691.0,550.5 691.6,550.2 692.2,550.1 692.8,551.0 693.4,552.0 694.0,551.8 694.6,552.3 695.2,552.7 695.8,553.0 696.4,553.4 697.0,553.7 697.6,552.9 698.2,553.7 698.8,555.3 699.4,555.4 700.0,556.3 700.5,556.1 700.6,554.6 701.2,556.1 701.8,557.9 702.4,557.4 703.0,557.8 703.6,559.4 704.2,560.0 704.8,560.8 705.4,563.0 706.0,564.3 706.6,564.5 707.2,565.1 707.8,565.8 708.4,566.8 709.0,568.1 709.6,568.8 710.2,569.5 710.8,571.6 711.4,573.2 712.0,573.1 712.6,573.9 713.0,575.5 713.2,576.6 713.8,576.7 714.4,577.2 715.0,578.7 715.6,579.6 716.2,579.8 716.8,580.6 717.4,582.1 718.0,583.2 718.6,583.8 719.2,585.0 719.8,586.9 720.4,588.3 721.0,588.9 721.6,590.4 722.2,591.2 722.8,591.5 723.4,592.3 724.0,593.6 724.6,595.1 725.2,595.1 725.8,595.8 726.4,598.0 727.0,599.5 727.6,599.8 728.0,600.4 728.2,600.1 728.8,600.4 729.4,601.4 730.0,602.3 730.6,603.5 731.2,604.9 731.8,606.3 732.4,607.4 733.0,608.9 733.6,609.1 734.2,608.9 734.8,610.0 735.4,610.4 736.0,610.7 736.6,611.7 737.2,611.9 737.8,612.3 738.0,613.2 738.4,612.8 739.0,611.6 739.6,612.0 740.2,612.1 740.8,611.5 741.4,610.7 742.0,609.2 742.6,607.7 743.2,605.3 743.8,602.2 744.4,599.4 745.0,597.6 745.5,597.1 745.6,597.1 746.2,597.8 746.8,599.9 747.4,602.8 748.0,606.1 748.6,609.5 749.2,612.9 749.8,616.7 750.4,619.2 750.5,619.6 751.0,621.8 751.6,623.8 752.2,626.2 752.8,628.3 753.4,630.6 754.0,631.9 754.6,633.0 755.2,635.0 755.8,636.9 756.4,638.9 757.0,640.7 757.6,641.7 758.0,642.7 758.2,642.8 758.8,644.1 759.4,644.6 760.0,645.2 760.6,646.9 761.2,647.3 761.8,647.5 762.4,648.7 763.0,649.2 763.0,648.2 763.6,648.1 764.2,649.5 764.8,650.0 765.4,650.3 766.0,651.4 766.6,651.0 767.2,650.9 767.8,650.8 768.4,650.6 769.0,650.8 769.6,651.4 770.2,651.3 770.8,651.2 771.4,651.9 772.0,652.3 772.6,651.7 773.0,651.0 773.2,651.6 773.8,652.5 774.4,653.2 775.0,653.7 775.6,654.7 776.2,655.2 776.8,655.0 777.4,654.8 778.0,655.1 778.0,655.5 778.6,655.7 779.2,655.6 779.8,655.7 780.4,656.5 781.0,656.1 781.6,654.9 782.2,655.7 782.8,656.9 783.4,656.7 784.0,656.4 784.6,657.6 785.2,657.8 785.8,656.4 786.4,656.6 787.0,657.3 787.6,657.4 788.2,657.2 788.8,657.6 789.4,657.7 790.0,657.8 790.6,658.0 791.2,657.6 791.8,657.8 792.4,657.8 793.0,658.2 793.6,658.3 794.2,657.9 794.8,657.7 795.4,657.6 796.0,657.8 796.6,658.6 797.2,659.0 797.8,658.6 798.0,658.0 798.4,657.4 799.0,657.9 799.6,657.8 800.2,658.3 800.8,658.6 801.4,658.2 802.0,658.4 802.6,658.2 803.2,658.3 803.8,658.0 804.4,657.7 805.0,658.3 805.6,658.1 806.2,657.6 806.8,657.3 807.4,657.1 808.0,657.4 808.6,657.1 809.2,656.1 809.8,656.1 810.4,656.5 811.0,656.4 811.6,656.3 812.0,656.6 812.2,656.1 812.8,654.9 813.4,655.3 814.0,655.0 814.6,654.6 815.2,654.6 815.8,653.3 816.4,653.1 817.0,653.9 817.6,653.2 818.2,651.6 818.8,651.2 819.4,650.6 820.0,649.5 820.6,649.1 821.2,648.0 821.8,646.3 822.4,645.6 822.5,645.9 823.0,645.1 823.6,644.4 824.2,644.4 824.8,644.5 825.4,644.9 826.0,645.7 826.6,646.9 827.2,648.3 827.8,649.4 828.4,650.1 829.0,651.1 829.6,652.3 830.2,653.3 830.8,654.7 831.4,655.6 832.0,655.9 832.6,656.0 833.0,655.9 833.2,656.1 833.8,656.3 834.4,656.2 835.0,656.2 835.6,656.5 836.2,656.9 836.8,657.7 837.4,658.0 838.0,657.2 838.6,657.3 839.2,657.3 839.8,657.5 840.4,657.9 841.0,658.6 841.6,657.9 842.2,656.9 842.8,657.2 843.4,657.3 844.0,657.6 844.6,657.1 845.2,656.5 845.8,657.0 846.4,657.5 847.0,657.0 847.6,656.0 848.0,656.8 848.2,657.7 848.8,657.6 849.4,656.9 850.0,656.3 850.6,656.6 851.2,656.8 851.8,656.5 852.4,656.2 853.0,656.4 853.6,656.2 854.2,655.4 854.8,655.3 855.4,655.1 856.0,655.2 856.6,655.1 857.2,654.8 857.8,655.2 858.4,655.3 859.0,654.6 859.6,654.8 860.2,654.6 860.8,654.0 861.4,654.1 862.0,653.8 862.6,653.7 863.2,653.9 863.8,653.5 864.0,653.3 864.4,653.9 865.0,654.2 865.6,654.2 866.2,655.0 866.8,655.1 867.4,654.3 868.0,654.0 868.6,654.1 869.2,654.4 869.8,654.3 870.4,654.8 871.0,654.6 871.6,654.3 872.2,655.0 872.8,654.4 873.4,654.5 874.0,655.2 874.6,654.9 875.2,655.6 875.8,656.2 876.4,655.3 877.0,655.0 877.6,655.0 878.2,655.3 878.8,655.7 879.4,655.2 880.0,655.0 880.6,655.3 881.2,655.7 881.8,655.9 882.4,656.0 883.0,656.4 883.6,657.1 884.2,657.1 884.8,656.1 885.4,656.1 886.0,657.2 886.6,657.4 887.2,657.4 887.8,657.6 888.4,657.1 889.0,656.3 889.6,657.2 890.2,658.0 890.8,658.1 891.4,658.3 892.0,658.2 892.6,658.9 893.2,658.6 893.8,658.3 894.4,658.4 895.0,658.6 895.6,659.2 896.2,659.6 896.8,659.5 897.4,658.9 898.0,659.1 898.0,659.9 898.6,660.2 899.2,660.8 899.8,660.8 900.4,659.7 901.0,659.5 901.6,660.0 902.2,660.7 902.8,660.3 903.4,660.4 904.0,661.2 904.6,660.7 905.2,660.8 905.8,660.9 906.4,660.9 907.0,661.2 907.6,661.4 908.2,661.2 908.8,661.4 909.4,661.2 910.0,661.0 910.6,661.8 911.2,662.6 911.8,663.1 912.4,662.5 913.0,662.2 913.6,662.5 914.2,662.7 914.8,663.7 915.4,663.0 916.0,662.4 916.6,662.7 917.2,663.2 917.8,663.9 918.4,664.2 919.0,664.5 919.6,664.4 920.2,664.8 920.8,665.0 921.4,665.0 922.0,663.7 922.6,663.6 923.2,664.2 923.8,664.9 924.4,665.8 925.0,665.6 925.6,665.7 926.2,665.9 926.8,665.6 927.4,666.3 928.0,666.7 928.6,666.1 929.2,665.6 929.8,665.5 930.4,666.2 931.0,666.4 931.6,666.3 932.2,666.5 932.8,666.3 933.4,666.4 934.0,666.3 934.6,666.1 935.2,666.5 935.8,667.1 936.4,667.6 937.0,667.4 937.6,666.9 938.2,666.7 938.8,667.5 939.4,668.1 940.0,667.3 940.6,666.7 941.2,667.3 941.8,667.6 942.4,667.6 943.0,667.7 943.0,667.2 943.6,667.5 944.2,667.6 944.8,667.0 945.4,667.6 946.0,668.0 946.6,668.1 947.2,667.9 947.8,668.0 948.4,667.6 949.0,667.3 949.6,667.8 950.2,667.2 950.8,666.1 951.4,665.9 952.0,666.9 952.6,667.6 953.2,666.9 953.8,666.4 954.4,666.7 955.0,666.9 955.6,666.0 956.2,665.3 956.8,665.8 957.4,666.1 958.0,666.1 958.0,665.9 958.6,665.9 959.2,665.0 959.8,666.0 960.4,667.1 961.0,666.2 961.6,665.6 962.2,665.4 962.8,666.3 963.4,666.7 964.0,665.9 964.6,664.7 965.2,664.7 965.8,665.0 966.4,665.1 967.0,664.7 967.6,664.3 968.2,664.8 968.8,664.6 969.4,664.8 970.0,664.6 970.6,663.7 971.2,664.0 971.8,664.7 972.4,664.7 973.0,664.2 973.0,664.6 973.6,664.9 974.2,664.4 974.8,664.4 975.4,664.5 976.0,664.7 976.6,664.9 977.2,664.5 977.8,664.3 978.4,664.5 979.0,664.9 979.6,665.2 980.2,664.9 980.8,664.8 981.4,665.3 982.0,665.9 982.6,665.9 983.2,666.4 983.8,666.4 984.4,666.1 985.0,666.1 985.6,665.6 986.2,665.9 986.8,666.5 987.4,666.7 988.0,666.8 988.6,666.7 989.2,666.5 989.8,666.6 990.4,667.2 991.0,667.8 991.6,666.6 992.2,666.6 992.8,668.4 993.4,668.7 994.0,668.6 994.6,668.6 995.2,668.4 995.8,668.3 996.4,668.8 997.0,668.6 997.6,668.2 998.0,668.8 998.2,668.6 998.8,668.7 999.4,668.8 1000.0,669.0 1000.6,669.7 1001.2,669.6 1001.8,669.5 1002.4,669.7 1003.0,669.4 1003.6,669.7 1004.2,670.7 1004.8,671.5 1005.4,671.5 1006.0,671.2 1006.6,672.1 1007.2,672.9 1007.8,672.5 1008.4,672.4 1009.0,673.2 1009.6,673.2 1010.2,672.6 1010.8,672.3 1011.4,673.0 1012.0,674.3 1012.6,674.2 1013.2,674.1 1013.8,674.9 1014.4,674.0 1015.0,673.2 1015.5,674.3 1015.6,674.9 1016.2,674.6 1016.8,674.4 1017.4,674.5 1018.0,674.3 1018.6,675.1 1019.2,674.9 1019.8,673.5 1020.4,674.0 1021.0,675.2 1021.6,675.1 1022.2,674.6 1022.8,674.5 1023.4,674.5 1024.0,674.6 1024.6,674.3 1025.2,674.2 1025.8,674.4 1026.4,675.7 1027.0,675.9 1027.6,675.4 1028.2,676.2 1028.8,676.0 1029.4,674.9 1030.0,675.3 1030.6,675.3 1031.2,675.3 1031.8,676.2 1032.4,675.7 1033.0,675.2 1033.6,676.2 1034.2,676.0 1034.8,675.2 1035.4,675.7 1036.0,675.9 1036.6,675.6 1037.2,676.3 1037.8,676.4 1038.4,676.0 1039.0,676.1 1039.6,675.9 1040.2,675.6 1040.8,676.1 1041.4,676.5 1042.0,676.6 1042.6,676.4 1043.2,675.8 1043.8,676.4 1044.4,676.7 1045.0,676.3 1045.6,676.3 1046.2,676.1 1046.8,676.2 1047.4,675.7 1048.0,675.8 1048.6,677.3 1049.2,677.6 1049.8,677.5 1050.4,677.0 1051.0,677.0 1051.6,677.0 1052.2,676.8 1052.8,677.0 1053.4,675.9 1054.0,676.3 1054.6,677.7 1055.2,677.7 1055.8,677.3 1056.4,677.3 1057.0,677.8 1057.6,676.8 1058.0,676.0 1058.2,676.9 1058.8,677.3 1059.4,677.4 1060.0,677.4 1060.6,678.0 1061.2,677.6 1061.8,676.7 1062.4,677.0 1063.0,677.1 1063.6,677.3 1064.2,677.8 1064.8,677.6 1065.4,677.8 1066.0,678.9 1066.6,679.2 1067.2,679.5 1067.8,679.6 1068.4,678.9 1069.0,679.2 1069.6,679.5 1070.2,679.6 1070.8,679.3 1071.4,678.0 1072.0,677.7 1072.6,678.6 1073.2,679.2 1073.8,679.2 1074.4,679.4 1075.0,679.1 1075.6,678.6 1076.2,679.4 1076.8,679.7 1077.4,679.5 1078.0,680.0 1078.6,680.5 1079.2,679.7 1079.8,679.5 1080.4,679.2 1081.0,679.2 1081.6,680.0 1082.2,679.5 1082.8,679.9 1083.4,681.3 1084.0,681.0 1084.6,680.7 1085.2,681.1 1085.8,680.8 1086.4,680.7 1087.0,681.0 1087.6,680.1 1088.2,679.7 1088.8,680.1 1089.4,680.9 1090.0,681.2 1090.6,681.2 1091.2,681.1 1091.8,680.3 1092.4,681.3 1093.0,682.8 1093.6,682.3 1094.2,681.3 1094.8,681.6 1095.4,681.3 1096.0,680.9 1096.6,680.8 1097.2,681.2 1097.8,681.8 1098.4,681.6 1099.0,681.3 1099.6,680.9 1100.2,680.9 1100.8,682.0 1101.4,682.2 1102.0,682.3 1102.6,682.2 1103.2,681.7 1103.8,681.9 1104.4,681.9 1105.0,682.4 1105.6,681.8 1106.2,681.9 1106.8,682.9 1107.4,682.7 1108.0,682.5 1108.0,682.4 1108.6,682.7 1109.2,682.9 1109.8,682.4 1110.4,682.5 1111.0,683.2 1111.6,683.3 1112.2,683.0 1112.8,683.0 1113.4,682.8 1114.0,682.7 1114.6,682.2 1115.2,682.3 1115.8,683.4 1116.4,683.4 1117.0,682.8 1117.6,683.3 1118.2,683.7 1118.8,683.5 1119.4,683.6 1120.0,683.9 1120.6,683.7 1121.2,683.2 1121.8,683.9 1122.4,684.3 1123.0,683.4 1123.6,683.5 1124.2,684.2 1124.8,683.7 1125.4,683.8 1126.0,684.3 1126.6,684.6 1127.2,684.9 1127.8,684.2 1128.4,684.5 1129.0,685.0 1129.6,684.5 1130.2,684.1 1130.8,684.1 1131.4,684.4 1132.0,684.1 1132.6,683.8 1133.2,683.5 1133.8,683.9 1134.4,683.9 1135.0,683.3 1135.6,684.2 1136.2,684.5 1136.8,684.3 1137.4,684.1 1138.0,684.2 1138.6,683.9 1139.2,684.3 1139.8,685.2 1140.4,685.4 1141.0,685.2 1141.6,685.4 1142.2,685.6 1142.8,685.5 1143.4,685.5 1144.0,685.2 1144.6,684.9 1145.2,684.0 1145.8,684.5 1146.4,685.4 1147.0,686.0 1147.6,685.3 1148.2,685.0 1148.8,685.4 1149.4,685.1 1150.0,685.2 1150.6,685.3 1151.2,685.7 1151.8,685.9 1152.4,686.0 1153.0,685.9 1153.6,686.3 1154.2,686.4 1154.8,685.9 1155.4,686.2 1156.0,686.3 1156.6,686.0 1157.2,686.0 1157.8,685.6 1158.0,684.7 1158.4,685.2 1159.0,685.9 1159.6,686.0 1160.2,687.1 1160.8,686.4 1161.4,686.1 1162.0,686.6 1162.6,686.5 1163.2,686.1 1163.8,686.0 1164.4,686.5 1165.0,687.1 1165.6,687.8 1166.2,687.4 1166.8,686.6 1167.4,687.3 1168.0,687.4 1168.6,686.6 1169.2,686.7 1169.8,686.9 1170.4,687.1 1171.0,686.7 1171.6,686.4 1172.2,687.3 1172.8,687.8 1173.4,687.3 1174.0,686.8 1174.0,686.5 1174.6,686.7 1175.2,686.5 1175.8,686.1 1176.4,686.0 1177.0,685.7 1177.6,685.7 1178.2,685.7 1178.8,685.3 1179.4,685.1 1180.0,685.1 1180.6,684.6 1181.2,684.1 1181.8,683.8 1182.4,683.8 1183.0,683.7 1183.6,682.9 1184.2,681.6 1184.8,680.6 1185.4,680.1 1186.0,678.8 1186.6,675.6 1187.2,672.2 1187.8,668.0 1188.4,661.8 1189.0,653.0 1189.6,641.8 1190.2,627.2 1190.8,608.9 1191.4,588.8 1192.0,568.2 1192.6,552.9 1193.0,549.7 1193.2,550.5 1193.8,561.6 1194.4,581.0 1195.0,602.6 1195.6,621.8 1196.2,638.0 1196.8,650.9 1197.4,659.9 1198.0,667.4 1198.6,672.7 1199.2,675.7 1199.8,678.6 1200.4,680.9 1201.0,681.4 1201.6,682.2 1202.2,683.2 1202.8,683.3 1203.4,684.8 1204.0,686.4 1204.6,685.8 1205.2,685.8 1205.8,686.1 1206.4,686.6 1207.0,687.5 1207.6,687.2 1208.0,687.9 1208.2,688.0 1208.8,687.7 1209.4,688.2 1210.0,688.4 1210.6,688.6 1211.2,688.9 1211.8,689.0 1212.4,689.4 1213.0,689.5 1213.6,689.0 1214.2,689.5 1214.8,690.0 1215.4,690.0 1216.0,690.0 1216.6,689.3 1217.2,689.5 1217.8,690.1 1218.4,690.1 1219.0,689.9 1219.6,689.5 1220.2,689.3 1220.5,689.9 1220.8,690.1 1221.4,689.3 1222.0,689.6 1222.6,689.9 1223.2,690.5 1223.8,690.8 1224.4,690.9 1225.0,691.2 1225.6,690.6 1226.2,690.2 1226.8,690.0 1227.4,690.3 1228.0,689.7 1228.6,689.9 1229.2,690.1 1229.8,689.7 1230.4,689.1 1231.0,689.4 1231.6,690.6 1232.2,690.5 1232.8,690.4 1233.4,690.1 1234.0,690.1 1234.6,690.6 1235.2,690.4 1235.8,690.1 1236.4,690.5 1237.0,690.3 1237.6,690.1 1238.2,690.2 1238.8,689.9 1239.4,690.7 1240.0,690.7 1240.0,690.5 1240.6,691.0 1241.2,689.6 1241.8,689.3 1242.4,690.4 1243.0,690.6 1243.6,689.9 1244.2,689.6 1244.8,689.5 1245.4,689.0 1246.0,689.3 1246.6,689.7 1247.2,690.4 1247.8,690.4 1248.4,690.2 1249.0,689.6 1249.6,688.7 1250.2,688.9 1250.8,689.9 1251.4,689.6 1252.0,688.3 1252.6,688.8 1253.2,689.7 1253.8,689.1 1254.4,688.5 1255.0,688.6 1255.6,689.2 1256.2,689.8 1256.8,689.4 1257.4,689.0 1258.0,688.8 1258.6,688.8 1259.2,688.6 1259.8,688.2 1260.4,688.0 1261.0,688.2 1261.6,688.3 1262.2,688.5 1262.8,688.0 1263.4,687.8 1264.0,688.7 1264.6,688.9 1265.2,688.6 1265.8,687.5 1266.4,687.2 1267.0,688.1 1267.0,688.3"/>
<path stroke="#66bb14" d="M688.0,586.9 688.6,586.7 689.2,587.7 689.8,588.5 690.4,588.2 691.0,587.7 691.6,588.3 692.2,588.7 692.8,587.9 693.4,588.2 694.0,589.1 694.6,590.0 695.2,589.8 695.8,589.8 696.4,590.1 697.0,590.7 697.6,591.2 698.2,591.3 698.8,591.2 699.4,591.3 700.0,592.0 700.5,591.1 700.6,591.6 701.2,593.3 701.8,593.5 702.4,594.0 703.0,594.8 703.6,595.9 704.2,596.3 704.8,597.1 705.4,598.7 706.0,599.7 706.6,600.2 707.2,601.2 707.8,602.4 708.4,603.7 709.0,605.8 709.6,607.2 710.2,607.7 710.8,608.3 711.4,609.3 712.0,610.7 712.6,611.7 713.0,612.1 713.2,611.7 713.8,612.6 714.4,614.2 715.0,615.4 715.6,617.1 716.2,617.9 716.8,618.0 717.4,619.8 718.0,621.0 718.6,621.7 719.2,623.2 719.8,624.3 720.4,625.1 721.0,626.4 721.6,628.3 722.2,628.6 722.8,629.0 723.4,630.7 724.0,631.7 724.6,632.0 725.2,632.9 725.8,634.5 726.4,635.2 727.0,635.8 727.6,637.2 728.0,637.4 728.2,637.7 728.8,639.0 729.4,640.0 730.0,641.0 730.6,640.9 731.2,641.7 731.8,643.2 732.4,644.0 733.0,644.3 733.6,645.0 734.2,646.2 734.8,646.1 735.4,647.1 736.0,647.9 736.6,647.6 737.2,648.6 737.8,649.2 738.4,649.6 739.0,650.0 739.0,650.0 739.6,650.6 740.2,650.5 740.8,650.4 741.4,650.4 742.0,649.3 742.6,648.5 743.2,647.9 743.8,646.6 744.4,645.6 745.0,644.9 745.6,644.7 746.0,645.0 746.2,645.2 746.8,646.8 747.4,648.8 748.0,651.5 748.6,654.3 749.2,657.5 749.8,660.4 750.4,662.3 751.0,664.7 751.6,667.0 752.2,668.8 752.8,670.2 753.0,670.2 753.4,670.8 754.0,671.2 754.6,671.8 755.2,674.1 755.8,675.6 756.4,676.9 757.0,678.7 757.6,678.7 758.2,679.1 758.8,681.5 759.4,682.0 760.0,681.9 760.6,682.8 761.2,683.3 761.8,683.9 762.4,684.5 763.0,685.3 763.0,685.0 763.6,685.3 764.2,685.7 764.8,686.1 765.4,686.8 766.0,686.6 766.6,686.9 767.2,687.2 767.8,687.1 768.4,688.1 769.0,688.0 769.6,688.0 770.2,689.1 770.8,688.9 771.4,689.3 772.0,690.0 772.6,689.4 773.2,689.4 773.8,690.3 774.4,690.0 775.0,690.2 775.6,690.9 776.2,690.6 776.8,689.7 777.4,690.3 778.0,690.9 778.0,690.1 778.6,690.4 779.2,690.3 779.8,690.5 780.4,692.0 781.0,691.3 781.6,691.0 782.2,691.9 782.8,691.7 783.4,691.8 784.0,692.4 784.6,692.8 785.2,692.4 785.8,692.1 786.4,692.4 787.0,693.4 787.6,693.2 788.2,693.1 788.8,693.8 789.4,693.0 790.0,693.4 790.6,694.2 791.2,694.8 791.8,695.5 792.4,694.7 793.0,694.1 793.6,693.9 794.2,693.6 794.8,694.3 795.4,694.8 796.0,694.4 796.6,694.5 797.2,695.0 797.8,695.4 798.4,695.2 799.0,694.9 799.6,694.9 800.2,695.8 800.8,695.0 801.4,693.8 802.0,694.8 802.6,695.2 803.0,695.5 803.2,695.9 803.8,696.2 804.4,695.4 805.0,694.8 805.6,695.0 806.2,695.0 806.8,695.1 807.4,694.9 808.0,694.5 808.6,694.1 809.2,694.1 809.8,693.8 810.4,693.7 811.0,693.2 811.6,693.7 812.2,694.0 812.8,693.8 813.4,693.2 814.0,691.9 814.0,692.1 814.6,692.6 815.2,692.9 815.8,693.1 816.4,693.0 817.0,692.9 817.6,692.4 818.2,691.6 818.8,690.7 819.4,690.5 820.0,690.2 820.6,689.2 821.2,689.0 821.8,688.8 822.4,688.3 823.0,687.5 823.0,687.6 823.6,687.4 824.2,686.9 824.8,686.9 825.4,687.0 826.0,687.1 826.6,688.1 827.2,688.7 827.8,689.1 828.4,690.0 829.0,690.2 829.6,690.5 830.2,691.1 830.8,691.9 831.4,692.5 832.0,692.4 832.6,691.9 833.0,691.4 833.2,692.6 833.8,693.0 834.4,691.9 835.0,692.7 835.6,692.8 836.2,692.7 836.8,693.6 837.4,693.4 838.0,693.4 838.6,692.8 839.2,692.0 839.8,692.4 840.4,692.8 841.0,692.8 841.6,692.9 842.2,692.6 842.8,691.6 843.4,691.9 844.0,692.6 844.6,692.6 845.2,693.4 845.8,693.1 846.4,692.5 847.0,692.0 847.6,692.1 848.0,692.5 848.2,692.2 848.8,692.3 849.4,691.7 850.0,691.5 850.6,692.0 851.2,692.3 851.8,691.3 852.4,690.6 853.0,691.9 853.6,691.6 854.2,690.5 854.8,691.2 855.4,692.1 856.0,691.4 856.6,690.1 857.2,689.7 857.8,689.7 858.4,689.4 859.0,689.2 859.6,689.4 860.2,689.6 860.8,689.6 861.4,689.5 862.0,688.8 862.6,689.0 863.2,689.5 863.8,688.9 864.4,688.7 865.0,689.0 865.5,689.2 865.6,689.0 866.2,689.3 866.8,689.7 867.4,689.3 868.0,689.0 868.6,688.7 869.2,688.7 869.8,689.3 870.4,689.8 871.0,689.7 871.6,689.4 872.2,689.2 872.8,689.4 873.4,689.3 874.0,689.4 874.6,689.9 875.2,689.6 875.8,689.9 876.4,690.2 877.0,690.4 877.6,690.5 878.2,690.5 878.8,691.4 879.4,691.4 880.0,691.3 880.6,691.1 881.2,690.8 881.8,690.5 882.4,690.7 883.0,691.1 883.6,691.4 884.2,691.2 884.8,691.0 885.4,691.9 886.0,692.5 886.6,692.0 887.2,691.9 887.8,693.6 888.4,694.2 889.0,693.4 889.6,692.3 890.2,692.0 890.8,693.4 891.4,693.9 892.0,694.0 892.6,694.4 893.2,694.4 893.8,694.5 894.4,694.0 895.0,694.7 895.6,695.4 896.2,694.3 896.8,695.1 897.4,695.7 898.0,695.6 898.0,695.1 898.6,695.0 899.2,695.6 899.8,695.2 900.4,695.0 901.0,695.4 901.6,695.5 902.2,695.4 902.8,695.2 903.4,695.7 904.0,696.4 904.6,696.8 905.2,696.8 905.8,696.3 906.4,695.9 907.0,696.3 907.6,696.8 908.2,697.7 908.8,698.8 909.4,698.7 910.0,697.7 910.6,696.7 911.2,697.1 911.8,697.4 912.4,698.2 913.0,698.7 913.6,698.1 914.2,698.2 914.8,699.0 915.4,698.8 916.0,698.6 916.6,698.6 917.2,698.5 917.8,698.9 918.4,699.2 919.0,699.6 919.6,700.1 920.2,700.4 920.8,699.8 921.4,699.2 922.0,699.3 922.6,699.7 923.2,700.0 923.8,700.0 924.4,700.6 925.0,701.4 925.6,701.0 926.2,700.6 926.8,700.7 927.4,700.9 928.0,701.1 928.6,700.6 929.2,700.6 929.8,700.6 930.4,700.8 931.0,701.9 931.6,701.5 932.2,701.4 932.8,701.7 933.4,701.4 934.0,702.4 934.6,703.1 935.2,702.6 935.8,702.2 936.4,702.2 937.0,702.3 937.6,702.4 938.2,702.2 938.8,702.0 939.4,702.2 940.0,701.8 940.6,702.6 941.2,703.4 941.8,702.5 942.4,701.7 943.0,701.7 943.0,701.9 943.6,702.0 944.2,701.7 944.8,701.6 945.4,702.2 946.0,702.7 946.6,701.9 947.2,701.8 947.8,702.1 948.4,701.8 949.0,702.0 949.6,702.1 950.2,702.5 950.8,703.0 951.4,702.6 952.0,702.2 952.6,702.9 953.2,703.8 953.8,703.3 954.4,702.6 955.0,702.8 955.6,703.4 956.2,702.8 956.8,703.0 957.4,703.1 958.0,702.8 958.0,702.7 958.6,702.3 959.2,702.3 959.8,702.3 960.4,702.8 961.0,702.4 961.6,701.8 962.2,702.2 962.8,702.1 963.4,702.5 964.0,702.0 964.6,702.1 965.2,702.3 965.8,701.6 966.4,702.3 967.0,702.0 967.6,700.7 968.2,700.3 968.8,700.7 969.4,700.9 970.0,701.2 970.6,701.3 971.2,701.3 971.8,700.5 972.4,700.2 973.0,699.9 973.6,699.5 974.2,699.7 974.8,699.0 975.4,699.7 975.5,700.3 976.0,700.4 976.6,699.8 977.2,699.0 977.8,699.6 978.4,699.8 979.0,699.9 979.6,700.0 980.2,699.9 980.8,699.8 981.4,700.5 982.0,700.9 982.6,700.0 983.2,700.5 983.8,701.2 984.4,701.2 985.0,701.2 985.6,701.1 986.2,701.1 986.8,700.5 987.4,700.1 988.0,700.6 988.6,701.4 989.2,702.5 989.8,702.5 990.4,702.0 991.0,702.7 991.6,702.8 992.2,702.7 992.8,703.2 993.4,702.6 994.0,702.7 994.6,703.4 995.2,703.0 995.8,702.7 996.4,702.8 997.0,703.8 997.6,705.2 998.0,705.1 998.2,704.9 998.8,704.3 999.4,704.4 1000.0,705.8 1000.6,706.0 1001.2,705.1 1001.8,705.1 1002.4,705.6 1003.0,705.8 1003.6,705.8 1004.2,705.6 1004.8,705.8 1005.4,706.2 1006.0,706.6 1006.6,707.0 1007.2,707.6 1007.8,707.5 1008.4,707.4 1009.0,707.3 1009.6,707.5 1010.2,708.1 1010.8,708.3 1011.4,708.3 1012.0,708.4 1012.6,708.4 1013.2,708.3 1013.8,707.8 1014.4,708.3 1015.0,709.4 1015.5,708.8 1015.6,709.4 1016.2,709.4 1016.8,709.1 1017.4,709.7 1018.0,709.5 1018.6,709.9 1019.2,710.2 1019.8,709.9 1020.4,709.2 1021.0,708.8 1021.6,709.4 1022.2,710.5 1022.8,710.8 1023.4,710.3 1024.0,710.1 1024.6,710.4 1025.2,711.0 1025.8,710.5 1026.4,710.2 1027.0,710.7 1027.6,710.1 1028.2,709.7 1028.8,710.5 1029.4,711.1 1030.0,710.6 1030.6,710.5 1031.2,711.0 1031.8,711.1 1032.4,711.3 1033.0,711.3 1033.6,710.4 1034.2,710.5 1034.8,710.5 1035.4,710.4 1036.0,711.3 1036.6,712.1 1037.2,711.9 1037.8,711.4 1038.4,710.9 1039.0,710.4 1039.6,711.0 1040.2,711.4 1040.8,711.1 1041.4,710.9 1042.0,711.8 1042.6,712.3 1043.2,711.8 1043.8,711.6 1044.4,712.1 1045.0,712.2 1045.6,711.8 1046.2,711.1 1046.8,710.4 1047.4,710.3 1048.0,710.2 1048.6,710.9 1049.2,711.9 1049.8,711.7 1050.4,711.7 1051.0,712.3 1051.6,712.1 1052.2,711.4 1052.8,712.1 1053.4,713.2 1054.0,712.5 1054.6,712.7 1055.2,713.0 1055.8,712.0 1056.4,711.9 1057.0,711.6 1057.6,711.6 1058.0,711.8 1058.2,712.3 1058.8,713.1 1059.4,712.2 1060.0,712.4 1060.6,712.3 1061.2,712.2 1061.8,713.1 1062.4,713.1 1063.0,712.6 1063.6,712.6 1064.2,713.0 1064.8,713.1 1065.4,713.8 1066.0,714.5 1066.6,714.5 1067.2,713.7 1067.8,712.9 1068.4,713.2 1069.0,713.7 1069.6,713.0 1070.2,712.7 1070.8,714.2 1071.4,714.0 1072.0,713.1 1072.6,713.4 1073.2,713.9 1073.8,714.2 1074.4,714.0 1075.0,713.5 1075.6,713.9 1076.2,714.5 1076.8,714.1 1077.4,714.2 1078.0,714.8 1078.6,714.3 1079.2,713.5 1079.8,713.7 1080.4,714.0 1081.0,713.3 1081.6,713.5 1082.2,715.1 1082.8,715.3 1083.4,715.3 1084.0,714.4 1084.6,714.1 1085.2,715.7 1085.8,716.4 1086.4,715.8 1087.0,715.0 1087.6,715.3 1088.2,715.3 1088.8,715.0 1089.4,714.9 1090.0,715.2 1090.6,715.9 1091.2,716.5 1091.8,716.7 1092.4,715.9 1093.0,715.8 1093.6,715.6 1094.2,715.7 1094.8,716.2 1095.4,716.4 1096.0,716.9 1096.6,716.0 1097.2,715.9 1097.8,717.0 1098.4,716.4 1099.0,716.9 1099.6,717.2 1100.2,717.4 1100.8,718.1 1101.4,717.6 1102.0,717.4 1102.6,717.5 1103.2,717.1 1103.8,716.4 1104.4,716.1 1105.0,716.7 1105.6,717.2 1106.2,717.4 1106.8,717.9 1107.4,717.2 1108.0,717.3 1108.0,717.9 1108.6,717.7 1109.2,717.9 1109.8,717.8 1110.4,717.7 1111.0,718.2 1111.6,717.8 1112.2,717.0 1112.8,717.2 1113.4,718.0 1114.0,718.3 1114.6,718.6 1115.2,717.6 1115.8,716.7 1116.4,717.7 1117.0,718.2 1117.6,718.9 1118.2,718.7 1118.8,717.9 1119.4,718.3 1120.0,719.3 1120.6,718.1 1121.2,717.8 1121.8,718.9 1122.4,718.4 1123.0,718.2 1123.6,718.6 1124.2,718.9 1124.8,718.7 1125.4,718.3 1126.0,718.5 1126.6,718.8 1127.2,718.7 1127.8,718.8 1128.4,718.9 1129.0,719.4 1129.6,719.5 1130.2,719.5 1130.8,718.9 1131.4,718.9 1132.0,719.6 1132.6,719.2 1133.2,719.1 1133.8,718.3 1134.4,718.4 1135.0,719.4 1135.6,718.5 1136.2,718.9 1136.8,719.6 1137.4,719.5 1138.0,719.7 1138.6,719.8 1139.2,720.0 1139.8,719.7 1140.4,719.9 1141.0,720.4 1141.6,719.4 1142.2,719.1 1142.8,719.8 1143.4,719.4 1144.0,720.2 1144.6,721.0 1145.2,720.1 1145.8,719.4 1146.4,720.1 1147.0,720.4 1147.6,720.0 1148.2,719.5 1148.8,719.6 1149.4,720.8 1150.0,720.7 1150.6,720.3 1151.2,721.2 1151.8,721.6 1152.4,721.5 1153.0,721.4 1153.6,721.4 1154.2,720.6 1154.8,719.9 1155.4,719.9 1156.0,721.1 1156.6,721.8 1157.2,721.0 1157.8,720.7 1158.0,720.3 1158.4,719.6 1159.0,720.9 1159.6,721.9 1160.2,721.1 1160.8,720.7 1161.4,720.7 1162.0,721.4 1162.6,721.5 1163.2,721.6 1163.8,721.4 1164.4,721.3 1165.0,722.0 1165.6,722.1 1166.2,722.0 1166.8,721.8 1167.4,721.3 1168.0,721.6 1168.6,721.8 1169.2,721.2 1169.8,721.7 1170.4,721.4 1171.0,720.9 1171.6,721.8 1172.2,722.3 1172.8,721.8 1173.4,721.5 1174.0,721.7 1174.0,721.7 1174.6,721.1 1175.2,721.2 1175.8,721.4 1176.4,721.2 1177.0,721.4 1177.6,721.3 1178.2,720.5 1178.8,720.3 1179.4,720.9 1180.0,720.4 1180.6,719.2 1181.2,718.9 1181.8,718.7 1182.4,718.0 1183.0,717.5 1183.6,717.6 1184.2,716.4 1184.8,714.8 1185.4,713.3 1186.0,712.0 1186.6,710.0 1187.2,706.7 1187.8,702.6 1188.4,696.5 1189.0,688.6 1189.6,678.0 1190.2,662.4 1190.8,643.7 1191.4,623.7 1192.0,603.1 1192.6,588.4 1193.0,585.2 1193.2,586.0 1193.8,597.6 1194.4,617.0 1195.0,637.9 1195.6,657.0 1196.2,672.8 1196.8,685.0 1197.4,693.8 1198.0,700.9 1198.6,706.8 1199.2,710.7 1199.8,712.2 1200.4,713.7 1201.0,715.6 1201.6,717.0 1202.2,717.7 1202.8,718.7 1203.4,719.7 1204.0,720.2 1204.6,721.1 1205.2,720.6 1205.8,720.6 1206.4,722.2 1207.0,722.6 1207.6,722.7 1208.0,723.0 1208.2,722.5 1208.8,722.7 1209.4,723.5 1210.0,724.1 1210.6,724.4 1211.2,723.7 1211.8,723.6 1212.4,723.6 1213.0,723.4 1213.6,724.0 1214.2,724.4 1214.8,724.7 1215.4,725.0 1216.0,724.8 1216.6,724.7 1217.2,725.2 1217.8,724.9 1218.4,724.4 1219.0,724.7 1219.6,725.3 1220.2,725.4 1220.5,725.3 1220.8,724.9 1221.4,725.1 1222.0,725.4 1222.6,725.5 1223.2,726.1 1223.8,725.6 1224.4,725.6 1225.0,724.7 1225.6,724.4 1226.2,725.1 1226.8,725.5 1227.4,725.5 1228.0,725.1 1228.6,725.1 1229.2,724.2 1229.8,724.9 1230.4,725.6 1231.0,725.0 1231.6,725.6 1232.2,725.7 1232.8,725.3 1233.4,725.1 1234.0,724.1 1234.6,724.5 1235.2,724.4 1235.8,724.5 1236.4,724.1 1237.0,723.9 1237.6,724.5 1238.2,724.0 1238.8,724.3 1239.4,724.5 1240.0,724.2 1240.0,724.6 1240.6,724.9 1241.2,724.7 1241.8,725.0 1242.4,724.8 1243.0,724.6 1243.6,724.5 1244.2,724.3 1244.8,724.7 1245.4,724.2 1246.0,723.4 1246.6,723.1 1247.2,723.3 1247.8,723.9 1248.4,724.2 1249.0,723.8 1249.6,724.0 1250.2,724.3 1250.8,724.6 1251.4,724.1 1252.0,723.7 1252.6,724.2 1253.2,723.6 1253.8,723.3 1254.4,723.3 1255.0,723.1 1255.6,723.6 1256.2,723.0 1256.8,722.4 1257.4,722.7 1258.0,723.0 1258.6,723.0 1259.2,723.1 1259.8,723.0 1260.4,722.6 1261.0,723.1 1261.6,723.3 1262.2,723.1 1262.8,722.9 1263.4,723.2 1264.0,723.7 1264.6,723.1 1265.2,722.3 1265.8,722.0 1266.4,722.8 1267.0,722.8 1267.0,721.7"/>
<path stroke="#12bb5a" d="M688.0,621.4 688.6,621.2 689.2,622.4 689.8,622.8 690.4,622.2 691.0,622.4 691.6,622.7 692.2,622.9 692.8,622.5 693.4,622.4 694.0,623.9 694.6,624.3 695.2,624.3 695.8,624.7 696.4,625.1 697.0,625.9 697.6,625.8 698.2,626.6 698.8,626.8 699.4,626.3 700.0,626.8 700.5,626.9 700.6,627.1 701.2,627.6 701.8,628.1 702.4,629.7 703.0,629.9 703.6,629.7 704.2,630.9 704.8,632.1 705.4,633.8 706.0,635.2 706.6,636.1 707.2,637.0 707.8,638.8 708.4,639.4 709.0,639.2 709.6,640.7 710.2,642.3 710.8,643.3 711.4,644.0 712.0,644.6 712.6,645.8 713.0,646.6 713.2,646.9 713.8,647.7 714.4,649.3 715.0,650.8 715.6,651.9 716.2,652.5 716.8,652.7 717.4,653.7 718.0,654.7 718.6,655.6 719.2,656.4 719.8,656.7 720.4,657.6 721.0,659.5 721.6,659.8 722.2,660.4 722.8,662.2 723.4,663.7 724.0,664.4 724.6,665.0 725.2,666.6 725.8,667.8 726.4,667.9 727.0,668.1 727.6,669.6 728.0,670.5 728.2,670.2 728.8,670.9 729.4,672.2 730.0,673.3 730.6,674.1 731.2,675.1 731.8,675.7 732.4,677.5 733.0,679.6 733.6,680.6 734.2,681.2 734.8,681.7 735.4,682.9 736.0,684.2 736.6,684.2 737.2,684.9 737.8,686.0 738.4,686.6 739.0,687.4 739.6,688.6 740.2,689.4 740.8,689.1 741.4,689.5 741.8,689.4 742.0,688.7 742.6,688.4 743.2,688.1 743.8,687.7 744.4,687.5 745.0,687.1 745.6,687.0 746.2,687.3 746.8,688.0 746.8,688.0 747.4,689.1 748.0,689.9 748.6,691.3 749.2,693.1 749.8,695.8 750.4,698.6 751.0,699.9 751.6,701.2 752.2,703.1 752.8,704.7 753.0,705.1 753.4,705.5 754.0,706.1 754.6,708.0 755.2,709.1 755.8,709.5 756.4,711.3 757.0,711.6 757.6,712.3 758.2,713.9 758.8,714.4 759.4,715.3 760.0,715.7 760.6,715.5 761.2,717.3 761.8,718.6 762.4,718.8 763.0,719.7 763.0,719.5 763.6,719.7 764.2,720.3 764.8,721.1 765.4,721.4 766.0,721.6 766.6,721.7 767.2,721.4 767.8,721.9 768.4,722.5 769.0,723.0 769.6,723.9 770.2,724.3 770.8,723.9 771.4,724.5 772.0,724.9 772.6,724.5 773.2,724.8 773.8,724.8 774.4,724.4 775.0,724.8 775.6,725.3 776.2,725.1 776.8,725.4 777.4,725.8 778.0,725.7 778.0,725.1 778.6,725.4 779.2,726.9 779.8,727.4 780.4,727.3 781.0,727.1 781.6,727.3 782.2,727.2 782.8,726.8 783.4,727.4 784.0,727.1 784.6,727.1 785.2,727.9 785.8,728.6 786.4,728.4 787.0,728.0 787.6,728.2 788.2,727.9 788.8,727.3 789.4,727.3 790.0,728.8 790.6,729.5 791.2,729.2 791.8,730.0 792.4,730.3 793.0,729.0 793.6,728.8 794.2,729.3 794.8,730.1 795.4,729.8 796.0,729.5 796.6,730.2 797.2,729.8 797.8,729.5 798.4,729.2 799.0,729.2 799.6,729.2 800.2,729.0 800.8,730.5 801.4,730.8 802.0,730.2 802.6,730.1 803.0,730.9 803.2,731.0 803.8,730.6 804.4,730.2 805.0,729.6 805.6,729.3 806.2,729.3 806.8,729.3 807.4,729.6 808.0,730.0 808.6,729.5 809.2,728.9 809.8,727.7 810.4,727.6 811.0,728.6 811.6,728.9 812.2,727.5 812.8,726.3 813.4,727.3 814.0,727.7 814.0,727.5 814.6,727.6 815.2,727.7 815.8,727.1 816.4,726.5 817.0,727.3 817.6,727.3 818.2,726.4 818.8,726.3 819.4,726.4 820.0,725.6 820.6,725.4 821.2,725.5 821.8,724.9 822.4,724.6 823.0,723.9 823.0,723.9 823.6,723.8 824.2,723.6 824.8,723.6 825.4,723.9 826.0,724.2 826.6,724.2 827.2,724.6 827.8,724.8 828.4,725.7 829.0,727.2 829.6,727.6 830.2,727.3 830.8,727.4 831.4,727.3 832.0,727.0 832.6,726.8 833.0,727.6 833.2,727.9 833.8,727.2 834.4,727.2 835.0,727.5 835.6,727.6 836.2,727.5 836.8,727.7 837.4,728.2 838.0,727.6 838.6,727.2 839.2,727.3 839.8,727.0 840.4,727.8 841.0,728.1 841.6,727.2 842.2,727.1 842.8,727.1 843.4,727.2 844.0,726.9 844.6,726.6 845.2,726.6 845.8,726.3 846.4,726.2 847.0,725.9 847.6,725.9 848.0,726.4 848.2,726.1 848.8,725.5 849.4,725.7 850.0,725.5 850.6,725.5 851.2,725.9 851.8,724.6 852.4,724.0 853.0,724.3 853.6,724.6 854.2,725.2 854.8,724.3 855.4,723.6 856.0,723.8 856.6,723.8 857.2,723.9 857.8,724.3 858.4,724.1 859.0,724.0 859.6,724.0 860.2,723.4 860.8,722.8 861.4,722.4 862.0,722.8 862.6,723.3 863.2,723.3 863.8,722.8 864.4,722.3 865.0,722.5 865.5,723.1 865.6,723.1 866.2,722.7 866.8,722.3 867.4,722.4 868.0,723.0 868.6,722.5 869.2,723.0 869.8,723.1 870.4,722.9 871.0,723.2 871.6,723.0 872.2,722.9 872.8,722.8 873.4,723.4 874.0,723.7 874.6,723.4 875.2,724.0 875.8,724.5 876.4,724.4 877.0,724.4 877.6,725.1 878.2,725.1 878.8,724.8 879.4,725.2 880.0,724.7 880.6,724.0 881.2,724.7 881.8,726.0 882.4,726.2 883.0,725.8 883.6,725.7 884.2,726.4 884.8,726.7 885.4,726.0 886.0,726.5 886.6,727.4 887.2,727.5 887.8,728.0 888.4,728.5 889.0,728.5 889.6,728.1 890.2,727.3 890.8,727.7 891.4,728.5 892.0,729.1 892.6,729.8 893.2,729.6 893.8,729.8 894.4,729.7 895.0,729.4 895.6,729.2 896.2,729.2 896.8,729.8 897.4,730.4 898.0,730.1 898.0,730.0 898.6,731.3 899.2,730.6 899.8,729.7 900.4,730.3 901.0,730.9 901.6,731.7 902.2,731.9 902.8,731.2 903.4,730.6 904.0,730.7 904.6,731.1 905.2,731.3 905.8,731.0 906.4,731.6 907.0,731.8 907.6,731.5 908.2,732.0 908.8,731.4 909.4,731.4 910.0,731.9 910.6,731.9 911.2,732.3 911.8,732.3 912.4,733.0 913.0,733.7 913.6,732.5 914.2,731.2 914.8,732.1 915.4,733.2 916.0,732.9 916.6,732.5 917.2,732.0 917.8,731.8 918.4,733.3 919.0,734.7 919.6,733.6 920.2,733.8 920.8,733.4 921.4,733.0 922.0,734.1 922.6,733.6 923.2,733.2 923.8,733.2 924.4,733.5 925.0,734.4 925.6,734.8 926.2,734.6 926.8,734.7 927.4,734.0 928.0,734.4 928.6,735.1 929.2,733.9 929.8,733.9 930.4,734.2 931.0,734.4 931.6,734.9 932.2,734.0 932.8,734.4 933.4,736.0 934.0,735.2 934.6,735.2 935.2,736.1 935.8,736.0 936.4,736.2 937.0,735.4 937.6,735.1 938.2,735.4 938.8,736.0 939.4,736.1 940.0,734.8 940.6,735.7 941.2,736.5 941.8,736.1 942.4,736.0 943.0,736.3 943.0,736.9 943.6,736.4 944.2,735.7 944.8,735.8 945.4,736.1 946.0,736.3 946.6,736.0 947.2,736.2 947.8,736.3 948.4,736.1 949.0,736.6 949.6,736.7 950.2,737.4 950.8,738.2 951.4,738.1 952.0,738.1 952.6,737.7 953.2,737.7 953.8,737.8 954.4,737.4 955.0,737.6 955.6,737.0 956.2,736.7 956.8,737.2 957.4,737.6 958.0,737.6 958.0,737.1 958.6,736.7 959.2,737.0 959.8,736.9 960.4,736.4 961.0,736.7 961.6,737.0 962.2,736.6 962.8,735.7 963.4,735.9 964.0,736.7 964.6,736.3 965.2,735.7 965.8,734.8 966.4,735.1 967.0,735.4 967.6,735.2 968.2,735.3 968.8,734.9 969.4,734.9 970.0,734.3 970.5,735.4 970.6,735.4 971.2,734.5 971.8,734.7 972.4,734.6 973.0,735.5 973.6,734.9 974.2,734.3 974.8,735.2 975.4,735.3 976.0,735.3 976.6,735.0 977.2,734.3 977.8,734.1 978.4,734.6 979.0,735.4 979.6,735.7 980.2,736.0 980.8,736.1 981.4,735.6 982.0,735.7 982.6,735.0 983.2,735.2 983.8,735.5 984.4,735.2 985.0,736.6 985.6,736.3 986.2,735.5 986.8,736.2 987.4,736.3 988.0,736.2 988.6,736.0 989.2,736.8 989.8,736.4 990.4,735.3 991.0,736.7 991.6,737.4 992.2,736.6 992.8,736.2 993.4,736.4 994.0,737.8 994.6,738.2 995.2,736.9 995.8,736.9 996.4,737.1 997.0,737.7 997.6,738.1 998.0,738.1 998.2,738.1 998.8,738.5 999.4,738.7 1000.0,738.1 1000.6,737.7 1001.2,737.6 1001.8,738.3 1002.4,738.5 1003.0,739.4 1003.6,739.8 1004.2,738.8 1004.8,739.3 1005.4,739.6 1006.0,739.6 1006.6,740.0 1007.2,739.8 1007.8,740.5 1008.4,741.1 1009.0,741.1 1009.6,741.2 1010.2,740.4 1010.8,740.3 1011.4,740.8 1012.0,741.4 1012.6,741.8 1013.2,742.2 1013.8,741.9 1014.4,741.9 1015.0,742.0 1015.5,741.8 1015.6,743.2 1016.2,744.1 1016.8,743.1 1017.4,743.4 1018.0,744.1 1018.6,743.9 1019.2,744.0 1019.8,743.7 1020.4,743.2 1021.0,743.0 1021.6,743.4 1022.2,743.3 1022.8,743.0 1023.4,743.8 1024.0,743.8 1024.6,743.9 1025.2,744.8 1025.8,744.4 1026.4,744.4 1027.0,744.6 1027.6,743.8 1028.2,744.2 1028.8,745.0 1029.4,744.7 1030.0,744.1 1030.6,744.3 1031.2,744.4 1031.8,744.7 1032.4,744.8 1033.0,744.7 1033.6,745.1 1034.2,745.2 1034.8,745.5 1035.4,745.5 1036.0,744.8 1036.6,745.9 1037.2,746.8 1037.8,746.2 1038.4,746.0 1039.0,746.2 1039.6,745.7 1040.2,745.9 1040.8,746.3 1041.4,746.6 1042.0,745.8 1042.6,745.7 1043.2,746.5 1043.8,746.0 1044.4,745.8 1045.0,746.0 1045.6,745.7 1046.2,745.7 1046.8,746.6 1047.4,746.3 1048.0,745.9 1048.6,745.6 1049.2,745.6 1049.8,746.7 1050.4,746.9 1051.0,746.9 1051.6,746.5 1052.2,746.8 1052.8,746.9 1053.4,747.1 1054.0,747.6 1054.6,747.1 1055.2,747.7 1055.8,747.7 1056.4,747.6 1057.0,747.8 1057.6,747.5 1058.0,747.9 1058.2,748.1 1058.8,747.7 1059.4,747.6 1060.0,747.7 1060.6,747.8 1061.2,747.7 1061.8,747.3 1062.4,746.5 1063.0,746.9 1063.6,747.8 1064.2,748.4 1064.8,748.7 1065.4,748.7 1066.0,749.2 1066.6,748.8 1067.2,747.9 1067.8,748.3 1068.4,748.4 1069.0,748.1 1069.6,748.9 1070.2,749.2 1070.8,749.1 1071.4,748.5 1072.0,748.1 1072.6,749.1 1073.2,748.6 1073.8,748.3 1074.4,749.0 1075.0,748.1 1075.6,748.6 1076.2,749.2 1076.8,748.6 1077.4,749.5 1078.0,749.0 1078.6,748.5 1079.2,749.1 1079.8,749.0 1080.4,748.9 1081.0,749.4 1081.6,749.3 1082.2,749.0 1082.8,749.7 1083.4,749.5 1084.0,749.3 1084.6,749.2 1085.2,749.8 1085.8,750.1 1086.4,749.7 1087.0,749.1 1087.6,749.3 1088.2,749.9 1088.8,749.9 1089.4,750.3 1090.0,749.6 1090.6,750.0 1091.2,750.7 1091.8,749.4 1092.4,748.8 1093.0,749.6 1093.6,750.5 1094.2,750.2 1094.8,750.0 1095.4,750.2 1096.0,750.1 1096.6,750.5 1097.2,750.9 1097.8,750.5 1098.4,749.7 1099.0,750.3 1099.6,750.7 1100.2,749.9 1100.8,750.6 1101.4,751.2 1102.0,750.0 1102.6,749.2 1103.2,749.9 1103.8,750.1 1104.4,750.2 1105.0,751.7 1105.6,752.9 1106.2,752.0 1106.8,751.2 1107.4,751.6 1108.0,751.3 1108.0,750.4 1108.6,750.9 1109.2,751.4 1109.8,751.2 1110.4,751.6 1111.0,751.2 1111.6,751.6 1112.2,752.0 1112.8,751.5 1113.4,751.3 1114.0,751.6 1114.6,752.2 1115.2,751.7 1115.8,751.6 1116.4,751.7 1117.0,751.1 1117.6,751.2 1118.2,751.9 1118.8,752.3 1119.4,752.5 1120.0,752.1 1120.6,751.6 1121.2,752.0 1121.8,752.4 1122.4,752.3 1123.0,751.8 1123.6,751.3 1124.2,752.2 1124.8,753.2 1125.4,752.5 1126.0,752.8 1126.6,753.0 1127.2,752.7 1127.8,753.2 1128.4,752.9 1129.0,752.2 1129.6,751.8 1130.2,752.3 1130.8,753.1 1131.4,753.4 1132.0,753.5 1132.6,753.3 1133.2,753.5 1133.8,753.1 1134.4,752.9 1135.0,753.5 1135.6,753.4 1136.2,753.9 1136.8,754.2 1137.4,754.1 1138.0,754.3 1138.6,753.8 1139.2,754.2 1139.8,754.7 1140.4,754.1 1141.0,753.7 1141.6,753.3 1142.2,753.3 1142.8,753.7 1143.4,753.9 1144.0,753.9 1144.6,754.0 1145.2,754.2 1145.8,753.5 1146.4,753.4 1147.0,753.7 1147.6,753.4 1148.2,753.7 1148.8,754.6 1149.4,754.3 1150.0,753.2 1150.6,753.7 1151.2,755.6 1151.8,755.5 1152.4,754.5 1153.0,754.6 1153.6,754.9 1154.2,755.6 1154.8,755.3 1155.4,755.2 1156.0,754.9 1156.6,754.6 1157.2,754.6 1157.8,754.6 1158.0,754.9 1158.4,754.9 1159.0,754.8 1159.6,754.8 1160.2,755.3 1160.8,755.0 1161.4,754.7 1162.0,754.5 1162.6,754.7 1163.2,755.4 1163.8,755.5 1164.4,755.4 1165.0,756.0 1165.6,755.9 1166.2,755.5 1166.8,756.0 1167.4,756.1 1168.0,755.9 1168.6,755.8 1169.2,756.4 1169.8,756.3 1170.4,755.5 1171.0,755.7 1171.6,756.5 1172.2,756.8 1172.8,756.1 1173.4,755.9 1174.0,756.0 1174.0,755.7 1174.6,755.7 1175.2,755.9 1175.8,755.6 1176.4,755.9 1177.0,755.6 1177.6,755.4 1178.2,756.2 1178.8,756.3 1179.4,755.4 1180.0,754.3 1180.6,753.4 1181.2,753.1 1181.8,754.2 1182.4,753.3 1183.0,751.3 1183.6,751.5 1184.2,751.6 1184.8,749.7 1185.4,748.2 1186.0,747.5 1186.6,744.8 1187.2,742.0 1187.8,737.8 1188.4,731.9 1189.0,724.1 1189.6,712.3 1190.2,697.2 1190.8,679.5 1191.4,659.4 1192.0,639.0 1192.6,624.4 1193.0,621.2 1193.2,622.0 1193.8,633.3 1194.4,652.4 1195.0,673.7 1195.6,692.7 1196.2,708.6 1196.8,721.5 1197.4,730.3 1198.0,736.6 1198.6,740.5 1199.2,743.8 1199.8,747.5 1200.4,749.0 1201.0,750.6 1201.6,751.4 1202.2,752.3 1202.8,753.5 1203.4,753.3 1204.0,753.8 1204.6,754.5 1205.2,754.7 1205.8,754.6 1206.4,755.1 1207.0,756.3 1207.6,756.9 1208.0,757.2 1208.2,756.9 1208.8,756.4 1209.4,756.7 1210.0,757.1 1210.6,757.6 1211.2,758.3 1211.8,758.6 1212.4,758.1 1213.0,758.5 1213.6,758.3 1214.2,757.4 1214.8,758.1 1215.4,758.7 1216.0,758.6 1216.6,759.0 1217.2,758.9 1217.8,758.6 1218.4,758.9 1219.0,759.3 1219.6,759.6 1220.2,759.4 1220.5,759.2 1220.8,758.2 1221.4,758.6 1222.0,758.9 1222.6,758.5 1223.2,760.0 1223.8,759.9 1224.4,758.4 1225.0,759.1 1225.6,759.5 1226.2,758.8 1226.8,759.0 1227.4,759.3 1228.0,759.6 1228.6,759.3 1229.2,759.4 1229.8,759.1 1230.4,758.9 1231.0,759.0 1231.6,759.0 1232.2,758.9 1232.8,758.5 1233.4,759.3 1234.0,759.0 1234.6,757.9 1235.2,758.5 1235.8,758.9 1236.4,758.4 1237.0,758.5 1237.6,759.4 1238.2,759.0 1238.8,758.1 1239.4,758.5 1240.0,758.2 1240.0,758.1 1240.6,758.6 1241.2,758.3 1241.8,758.5 1242.4,758.4 1243.0,757.8 1243.6,758.4 1244.2,759.6 1244.8,758.7 1245.4,757.6 1246.0,759.2 1246.6,758.8 1247.2,758.2 1247.8,758.5 1248.4,757.5 1249.0,757.5 1249.6,757.6 1250.2,757.5 1250.8,757.2 1251.4,757.4 1252.0,757.0 1252.6,756.6 1253.2,757.9 1253.8,758.1 1254.4,757.5 1255.0,757.1 1255.6,757.0 1256.2,758.1 1256.8,758.2 1257.4,757.1 1258.0,756.8 1258.6,756.5 1259.2,757.0 1259.8,756.8 1260.4,756.2 1261.0,756.2 1261.6,756.3 1262.2,756.5 1262.8,756.4 1263.4,756.2 1264.0,756.0 1264.6,756.5 1265.2,756.7 1265.8,756.1 1266.4,756.1 1267.0,756.1 1267.0,755.4"/>
<path stroke="#128a88" d="M688.0,657.2 688.6,656.3 689.2,656.4 689.8,657.6 690.4,657.7 691.0,657.1 691.6,658.1 692.2,658.6 692.8,658.4 693.4,659.0 694.0,659.4 694.6,659.5 695.2,660.0 695.8,660.2 696.4,660.5 697.0,661.5 697.6,661.6 698.2,661.7 698.8,662.1 699.4,663.0 700.0,664.1 700.5,664.6 700.6,664.8 701.2,665.4 701.8,665.9 702.4,665.9 703.0,666.7 703.6,667.4 704.2,668.7 704.8,670.0 705.4,670.3 706.0,670.6 706.6,671.8 707.2,673.7 707.8,673.7 708.4,674.0 709.0,675.5 709.6,676.4 710.2,678.2 710.8,680.2 711.4,680.3 712.0,680.9 712.6,682.2 713.0,682.9 713.2,682.4 713.8,682.7 714.4,685.0 715.0,685.9 715.6,686.9 716.2,688.0 716.8,688.9 717.4,690.4 718.0,690.8 718.6,691.3 719.2,692.5 719.8,694.2 720.4,695.3 721.0,695.6 721.6,697.9 722.2,698.6 722.8,698.3 723.4,700.1 724.0,700.8 724.6,701.6 725.2,702.9 725.8,703.3 726.4,704.6 727.0,705.7 727.6,706.2 728.0,707.7 728.2,707.9 728.8,708.6 729.4,710.4 730.0,711.5 730.6,712.3 731.2,712.8 731.8,713.1 732.4,714.2 733.0,715.9 733.6,716.6 734.2,717.0 734.8,718.3 735.4,719.1 736.0,719.7 736.6,720.6 737.2,720.5 737.8,721.8 738.0,722.8 738.4,722.7 739.0,722.4 739.6,722.5 740.2,723.4 740.8,723.5 741.4,724.3 742.0,724.1 742.6,724.1 743.2,724.5 743.8,724.3 744.4,725.1 745.0,726.0 745.0,726.0 745.6,726.5 746.2,727.1 746.8,727.5 747.4,728.2 748.0,729.2 748.6,730.4 749.2,731.7 749.8,732.1 750.4,733.2 751.0,735.7 751.6,737.1 752.2,737.9 752.8,739.1 753.4,740.2 754.0,741.7 754.6,742.7 755.2,743.9 755.8,745.0 756.4,746.3 757.0,747.4 757.6,748.6 758.2,750.4 758.8,750.4 759.4,751.0 760.0,752.1 760.5,752.7 760.6,752.7 761.2,752.7 761.8,753.2 762.4,754.2 763.0,754.0 763.6,754.2 764.2,755.3 764.8,755.2 765.4,755.4 766.0,756.3 766.6,757.0 767.2,757.7 767.8,757.4 768.4,756.4 769.0,756.7 769.6,757.6 770.2,757.9 770.8,758.7 771.4,760.0 772.0,759.9 772.6,758.6 773.2,759.1 773.8,759.7 774.4,759.6 775.0,760.3 775.6,760.6 776.2,760.5 776.8,760.7 777.4,761.1 778.0,761.4 778.0,761.9 778.6,760.7 779.2,759.9 779.8,760.9 780.4,761.7 781.0,762.2 781.6,762.4 782.2,761.9 782.8,761.7 783.4,762.6 784.0,762.8 784.6,762.6 785.2,762.9 785.8,763.8 786.4,763.1 787.0,763.2 787.6,764.2 788.2,763.5 788.8,763.7 789.4,764.2 790.0,764.5 790.6,764.3 791.2,764.3 791.8,764.4 792.4,764.3 793.0,764.9 793.6,764.9 794.2,764.9 794.8,764.8 795.4,765.0 796.0,765.1 796.6,764.4 797.2,764.6 797.8,764.9 798.0,764.6 798.4,764.9 799.0,765.2 799.6,765.1 800.2,764.6 800.8,763.8 801.4,764.3 802.0,764.4 802.6,764.4 803.2,764.9 803.8,765.3 804.4,765.6 805.0,765.5 805.6,764.6 806.2,764.5 806.8,764.5 807.4,764.4 808.0,764.2 808.6,764.4 809.2,764.9 809.8,764.2 810.4,763.5 811.0,763.6 811.6,763.9 812.2,763.8 812.8,763.6 813.4,763.2 814.0,763.7 814.6,764.3 815.2,763.5 815.8,762.8 816.4,763.4 817.0,763.3 817.6,762.9 818.2,763.7 818.8,763.4 819.4,762.7 820.0,762.7 820.6,762.5 821.2,761.8 821.8,762.0 822.4,762.6 823.0,762.0 823.6,762.4 824.2,762.2 824.8,762.1 825.4,761.8 826.0,761.9 826.6,762.1 827.2,761.6 827.8,761.1 828.4,760.8 829.0,761.2 829.6,761.5 830.2,760.5 830.8,760.1 831.4,760.9 832.0,762.1 832.6,761.7 833.0,759.8 833.2,760.4 833.8,760.9 834.4,760.1 835.0,760.4 835.6,760.7 836.2,760.1 836.8,759.6 837.4,759.8 838.0,760.3 838.6,759.6 839.2,759.8 839.8,759.9 840.4,760.0 841.0,760.5 841.6,759.8 842.2,759.7 842.8,759.5 843.4,759.2 844.0,760.0 844.6,759.7 845.2,759.3 845.8,759.1 846.4,758.7 847.0,759.3 847.6,758.8 848.2,758.5 848.8,758.0 849.4,757.4 850.0,757.9 850.6,758.6 851.2,759.0 851.8,758.2 852.4,757.8 853.0,758.2 853.6,757.6 854.2,757.6 854.8,758.6 855.4,758.9 856.0,758.1 856.6,757.4 857.2,757.2 857.8,757.1 858.4,757.4 859.0,757.8 859.6,757.8 860.2,757.2 860.8,757.5 861.4,758.1 862.0,757.6 862.6,757.1 863.2,757.3 863.8,756.8 864.0,756.9 864.4,757.7 865.0,758.4 865.6,758.3 866.2,757.5 866.8,757.4 867.4,757.8 868.0,758.2 868.6,757.7 869.2,757.5 869.8,758.2 870.4,757.4 871.0,757.8 871.6,758.6 872.2,758.5 872.8,758.7 873.4,758.4 874.0,758.5 874.6,758.8 875.2,759.3 875.8,759.2 876.4,758.6 877.0,758.6 877.6,758.8 878.2,759.5 878.8,759.7 879.4,760.1 880.0,760.7 880.6,760.3 881.2,760.9 881.8,760.9 882.4,760.5 883.0,761.1 883.6,761.7 884.2,761.2 884.8,762.0 885.4,762.8 886.0,761.6 886.6,761.5 887.2,762.5 887.8,762.8 888.4,762.9 889.0,763.9 889.6,764.1 890.2,764.1 890.8,764.2 891.4,763.4 892.0,763.9 892.6,764.0 893.2,764.0 893.8,764.6 894.4,764.1 895.0,763.7 895.6,764.1 896.2,764.7 896.8,765.4 897.4,765.4 898.0,765.7 898.0,766.0 898.6,765.2 899.2,764.7 899.8,765.1 900.4,765.3 901.0,765.3 901.6,765.9 902.2,766.2 902.8,766.4 903.4,766.2 904.0,765.6 904.6,765.5 905.2,765.3 905.8,765.7 906.4,766.6 907.0,766.8 907.6,766.9 908.2,767.9 908.8,767.6 909.4,766.9 910.0,767.2 910.6,767.1 911.2,768.0 911.8,768.4 912.4,768.5 913.0,768.2 913.6,768.6 914.2,770.0 914.8,769.1 915.4,768.4 916.0,768.8 916.6,769.1 917.2,768.8 917.8,768.9 918.4,769.8 919.0,769.5 919.6,768.5 920.2,768.6 920.8,769.5 921.4,770.1 922.0,770.2 922.6,769.6 923.2,770.1 923.8,770.8 924.4,771.0 925.0,771.0 925.6,771.2 926.2,771.5 926.8,770.5 927.4,770.5 928.0,771.5 928.6,771.6 929.2,771.9 929.8,771.8 930.4,771.6 931.0,771.4 931.6,771.2 932.2,771.6 932.8,771.3 933.4,771.1 934.0,771.6 934.6,772.3 935.2,772.0 935.8,771.5 936.4,771.4 937.0,772.2 937.6,772.1 938.2,772.3 938.8,772.2 939.4,771.9 940.0,772.8 940.6,773.2 941.2,772.8 941.8,772.0 942.4,771.7 943.0,772.3 943.0,772.8 943.6,772.3 944.2,772.2 944.8,772.4 945.4,772.6 946.0,772.9 946.6,772.1 947.2,772.0 947.8,772.6 948.4,772.3 949.0,772.3 949.6,772.3 950.2,772.7 950.8,772.9 951.4,772.0 952.0,771.9 952.6,772.4 953.2,772.6 953.8,772.6 954.4,772.5 955.0,772.8 955.6,772.5 956.2,772.9 956.8,773.1 957.4,771.9 958.0,772.4 958.0,773.2 958.6,773.4 959.2,773.5 959.8,773.1 960.4,772.5 961.0,772.4 961.6,772.3 962.2,771.8 962.8,772.3 963.4,773.0 964.0,772.3 964.6,771.4 965.2,771.1 965.8,770.4 966.4,770.1 967.0,770.4 967.6,770.5 968.2,770.2 968.8,769.4 969.4,769.9 970.0,771.2 970.6,770.0 971.2,769.2 971.8,770.3 972.4,769.9 973.0,769.0 973.0,769.5 973.6,769.9 974.2,769.7 974.8,770.4 975.4,771.2 976.0,770.9 976.6,770.4 977.2,770.0 977.8,770.4 978.4,770.5 979.0,770.8 979.6,771.5 980.2,770.7 980.8,770.6 981.4,771.5 982.0,771.6 982.6,770.7 983.2,770.5 983.8,770.8 984.4,771.1 985.0,771.3 985.6,771.3 986.2,771.7 986.8,772.5 987.4,772.0 988.0,771.1 988.6,771.6 989.2,772.3 989.8,772.4 990.4,772.3 991.0,772.4 991.6,772.4 992.2,772.8 992.8,773.9 993.4,773.3 994.0,771.9 994.6,772.2 995.2,773.1 995.8,773.4 996.4,773.8 997.0,774.0 997.6,775.2 998.0,774.9 998.2,773.7 998.8,774.2 999.4,773.8 1000.0,774.1 1000.6,774.8 1001.2,774.1 1001.8,774.2 1002.4,775.1 1003.0,775.9 1003.6,776.4 1004.2,776.5 1004.8,775.9 1005.4,776.2 1006.0,776.6 1006.6,777.5 1007.2,777.0 1007.8,776.9 1008.4,778.2 1009.0,777.9 1009.6,777.8 1010.2,777.6 1010.8,777.4 1011.4,777.2 1012.0,778.5 1012.6,779.6 1013.2,779.2 1013.8,779.2 1014.4,778.3 1015.0,778.2 1015.5,779.0 1015.6,779.6 1016.2,779.2 1016.8,779.0 1017.4,779.3 1018.0,779.3 1018.6,779.2 1019.2,779.4 1019.8,779.8 1020.4,779.0 1021.0,779.5 1021.6,781.1 1022.2,780.4 1022.8,780.1 1023.4,780.1 1024.0,779.5 1024.6,780.6 1025.2,781.0 1025.8,780.9 1026.4,781.0 1027.0,780.9 1027.6,780.8 1028.2,781.0 1028.8,781.8 1029.4,781.5 1030.0,780.7 1030.6,780.4 1031.2,780.3 1031.8,780.7 1032.4,781.3 1033.0,780.8 1033.6,781.0 1034.2,781.1 1034.8,781.5 1035.4,782.1 1036.0,782.0 1036.6,781.5 1037.2,780.6 1037.8,780.2 1038.4,780.9 1039.0,781.2 1039.6,781.5 1040.2,782.0 1040.8,781.8 1041.4,781.3 1042.0,780.8 1042.6,781.4 1043.2,782.0 1043.8,781.4 1044.4,781.3 1045.0,781.5 1045.6,781.8 1046.2,782.0 1046.8,781.6 1047.4,781.9 1048.0,782.5 1048.6,782.3 1049.2,782.4 1049.8,782.1 1050.4,781.8 1051.0,781.8 1051.6,781.8 1052.2,781.9 1052.8,781.9 1053.4,782.5 1054.0,782.2 1054.6,781.3 1055.2,781.7 1055.8,782.6 1056.4,782.8 1057.0,782.3 1057.6,782.5 1058.0,782.8 1058.2,782.8 1058.8,782.6 1059.4,782.5 1060.0,783.4 1060.6,783.0 1061.2,782.5 1061.8,783.0 1062.4,783.4 1063.0,783.3 1063.6,783.1 1064.2,782.4 1064.8,782.5 1065.4,782.7 1066.0,782.7 1066.6,782.4 1067.2,782.9 1067.8,784.6 1068.4,784.2 1069.0,783.3 1069.6,783.0 1070.2,783.7 1070.8,784.1 1071.4,783.6 1072.0,783.8 1072.6,784.4 1073.2,784.2 1073.8,783.8 1074.4,783.7 1075.0,783.6 1075.6,783.7 1076.2,783.7 1076.8,784.2 1077.4,784.5 1078.0,784.1 1078.6,784.3 1079.2,784.4 1079.8,783.8 1080.4,784.2 1081.0,784.8 1081.6,784.1 1082.2,783.8 1082.8,783.8 1083.4,783.9 1084.0,784.2 1084.6,784.2 1085.2,784.3 1085.8,784.7 1086.4,784.4 1087.0,785.2 1087.6,785.5 1088.2,784.8 1088.8,785.0 1089.4,784.8 1090.0,785.1 1090.6,785.7 1091.2,785.4 1091.8,784.6 1092.4,784.9 1093.0,784.5 1093.6,784.4 1094.2,785.1 1094.8,785.2 1095.4,784.8 1096.0,784.5 1096.6,784.8 1097.2,784.8 1097.8,785.4 1098.4,785.6 1099.0,785.2 1099.6,785.7 1100.2,786.0 1100.8,784.8 1101.4,784.5 1102.0,785.4 1102.6,786.0 1103.2,786.0 1103.8,786.0 1104.4,785.6 1105.0,785.5 1105.6,785.4 1106.2,785.2 1106.8,785.3 1107.4,785.4 1108.0,785.6 1108.0,785.8 1108.6,785.7 1109.2,786.2 1109.8,786.4 1110.4,786.6 1111.0,787.2 1111.6,786.2 1112.2,786.2 1112.8,786.2 1113.4,786.4 1114.0,787.1 1114.6,786.2 1115.2,785.3 1115.8,785.6 1116.4,785.9 1117.0,786.5 1117.6,786.6 1118.2,786.1 1118.8,786.8 1119.4,786.9 1120.0,786.9 1120.6,786.8 1121.2,787.0 1121.8,786.8 1122.4,786.8 1123.0,786.7 1123.6,786.6 1124.2,786.7 1124.8,786.6 1125.4,787.2 1126.0,787.8 1126.6,786.9 1127.2,786.2 1127.8,786.6 1128.4,787.3 1129.0,787.4 1129.6,787.3 1130.2,787.4 1130.8,786.7 1131.4,786.9 1132.0,787.1 1132.6,787.3 1133.2,788.1 1133.8,788.4 1134.4,787.7 1135.0,787.8 1135.6,788.6 1136.2,787.4 1136.8,787.9 1137.4,789.2 1138.0,788.1 1138.6,787.6 1139.2,787.5 1139.8,787.4 1140.4,788.0 1141.0,788.3 1141.6,787.9 1142.2,787.7 1142.8,787.7 1143.4,787.9 1144.0,788.6 1144.6,788.5 1145.2,788.7 1145.8,789.0 1146.4,788.7 1147.0,788.9 1147.6,788.3 1148.2,787.9 1148.8,787.8 1149.4,787.8 1150.0,788.3 1150.6,788.7 1151.2,788.7 1151.8,788.2 1152.4,788.4 1153.0,788.6 1153.6,788.9 1154.2,788.6 1154.8,787.9 1155.4,787.7 1156.0,788.7 1156.6,788.9 1157.2,788.3 1157.8,788.4 1158.0,788.9 1158.4,789.1 1159.0,789.3 1159.6,789.3 1160.2,789.0 1160.8,789.5 1161.4,789.8 1162.0,789.1 1162.6,788.7 1163.2,789.1 1163.8,788.6 1164.4,789.0 1165.0,789.8 1165.6,789.8 1166.2,789.1 1166.8,789.0 1167.4,789.7 1168.0,790.1 1168.6,789.7 1169.2,789.6 1169.8,790.6 1170.4,790.1 1171.0,789.3 1171.6,789.3 1172.2,788.9 1172.8,788.9 1173.4,790.0 1174.0,789.8 1174.0,789.1 1174.6,789.8 1175.2,790.1 1175.8,789.6 1176.4,789.2 1177.0,789.0 1177.6,789.1 1178.2,789.2 1178.8,789.1 1179.4,789.0 1180.0,788.1 1180.6,787.8 1181.2,788.0 1181.8,787.4 1182.4,787.0 1183.0,786.8 1183.6,786.3 1184.2,785.6 1184.8,784.4 1185.4,783.1 1186.0,782.2 1186.6,780.4 1187.2,776.8 1187.8,772.2 1188.4,766.2 1189.0,757.7 1189.6,746.6 1190.2,732.4 1190.8,714.5 1191.4,693.8 1192.0,673.2 1192.6,657.9 1193.0,654.7 1193.2,655.5 1193.8,666.6 1194.4,685.7 1195.0,707.0 1195.6,726.9 1196.2,742.9 1196.8,754.7 1197.4,764.0 1198.0,770.6 1198.6,775.5 1199.2,779.2 1199.8,781.0 1200.4,782.6 1201.0,785.8 1201.6,787.3 1202.2,786.9 1202.8,787.6 1203.4,787.9 1204.0,788.1 1204.6,789.3 1205.2,789.0 1205.8,788.7 1206.4,789.5 1207.0,789.9 1207.6,790.1 1208.0,790.4 1208.2,791.0 1208.8,791.3 1209.4,791.4 1210.0,791.8 1210.6,791.4 1211.2,791.2 1211.8,791.4 1212.4,791.7 1213.0,791.8 1213.6,791.6 1214.2,792.4 1214.8,792.5 1215.4,791.4 1216.0,791.6 1216.6,792.3 1217.2,792.2 1217.8,792.2 1218.4,792.8 1219.0,792.6 1219.6,792.2 1220.2,792.2 1220.5,792.4 1220.8,792.6 1221.4,792.2 1222.0,792.2 1222.6,793.2 1223.2,792.7 1223.8,791.5 1224.4,792.3 1225.0,792.3 1225.6,792.9 1226.2,792.8 1226.8,791.7 1227.4,792.0 1228.0,792.9 1228.6,793.4 1229.2,793.2 1229.8,793.0 1230.4,793.3 1231.0,792.5 1231.6,792.1 1232.2,793.3 1232.8,792.8 1233.4,792.4 1234.0,793.2 1234.6,793.5 1235.2,793.0 1235.8,793.2 1236.4,793.5 1237.0,793.2 1237.6,792.6 1238.2,791.9 1238.8,792.0 1239.4,792.9 1240.0,792.3 1240.0,791.0 1240.6,792.1 1241.2,792.8 1241.8,791.4 1242.4,791.2 1243.0,792.2 1243.6,792.7 1244.2,792.1 1244.8,791.5 1245.4,792.5 1246.0,793.0 1246.6,792.2 1247.2,791.8 1247.8,791.6 1248.4,792.2 1249.0,792.5 1249.6,792.5 1250.2,792.9 1250.8,792.1 1251.4,791.7 1252.0,792.2 1252.6,792.4 1253.2,792.7 1253.8,792.9 1254.4,792.4 1255.0,792.2 1255.6,791.8 1256.2,791.3 1256.8,791.8 1257.4,792.1 1258.0,791.4 1258.6,791.2 1259.2,791.3 1259.8,791.1 1260.4,791.8 1261.0,791.6 1261.6,790.8 1262.2,791.4 1262.8,791.6 1263.4,791.4 1264.0,790.8 1264.6,790.7 1265.2,791.0 1265.8,790.7 1266.4,790.6 1267.0,790.7 1267.0,791.2"/>
<path stroke="#10648f" d="M688.0,692.0 688.6,692.0 689.2,693.1 689.8,693.6 690.4,693.0 691.0,693.4 691.6,693.6 692.2,692.7 692.8,693.0 693.4,694.0 694.0,694.6 694.6,694.7 695.2,694.0 695.8,693.9 696.4,695.0 697.0,695.6 697.6,695.8 698.2,696.4 698.8,696.6 699.4,696.1 700.0,696.1 700.5,697.4 700.6,698.3 701.2,698.0 701.8,698.7 702.4,699.6 703.0,699.9 703.6,700.2 704.2,700.9 704.8,702.4 705.4,703.7 706.0,704.5 706.6,705.9 707.2,707.7 707.8,708.2 708.4,708.9 709.0,709.8 709.6,711.0 710.2,712.3 710.8,713.3 711.4,714.8 712.0,715.8 712.6,717.2 713.0,717.6 713.2,717.4 713.8,718.8 714.4,720.0 715.0,721.0 715.6,721.9 716.2,722.6 716.8,724.0 717.4,725.3 718.0,726.5 718.6,728.0 719.2,728.6 719.8,728.9 720.4,729.9 721.0,731.0 721.6,731.5 722.2,733.4 722.8,735.2 723.4,736.5 724.0,737.1 724.6,737.5 725.2,738.7 725.8,739.4 726.4,740.6 727.0,741.5 727.6,742.0 728.0,742.6 728.2,742.1 728.8,742.5 729.4,743.9 730.0,745.5 730.6,746.7 731.2,747.1 731.8,747.8 732.4,748.1 733.0,749.2 733.6,749.8 734.2,749.4 734.8,750.3 735.4,751.9 736.0,752.3 736.6,752.7 737.2,753.6 737.8,754.7 738.4,755.1 739.0,755.8 739.6,756.4 740.2,757.1 740.8,757.2 741.4,757.5 742.0,758.7 742.6,759.1 743.2,759.4 743.8,760.4 744.4,761.3 745.0,761.8 745.5,762.5 745.6,762.6 746.2,763.4 746.8,764.2 747.4,764.8 748.0,766.0 748.6,767.2 749.2,768.8 749.8,769.7 750.4,770.3 751.0,772.1 751.6,772.8 752.2,773.6 752.8,774.8 753.4,775.5 754.0,776.9 754.6,777.6 755.2,777.8 755.8,778.4 756.4,779.5 757.0,781.3 757.6,782.1 758.2,782.8 758.8,783.4 759.4,784.1 760.0,785.0 760.5,784.8 760.6,785.5 761.2,786.2 761.8,786.3 762.4,786.8 763.0,787.3 763.6,787.8 764.2,787.5 764.8,788.0 765.4,789.1 766.0,789.5 766.6,789.6 767.2,790.5 767.8,790.7 768.4,790.5 769.0,791.2 769.6,791.1 770.2,790.9 770.8,791.9 771.4,792.8 772.0,793.0 772.6,792.4 773.2,792.5 773.8,793.5 774.4,794.1 775.0,794.6 775.6,794.8 776.2,795.0 776.8,795.6 777.4,794.6 778.0,794.6 778.0,795.2 778.6,795.2 779.2,795.7 779.8,795.3 780.4,795.1 781.0,795.8 781.6,796.2 782.2,796.5 782.8,796.6 783.4,797.3 784.0,797.5 784.6,797.6 785.2,797.6 785.8,797.3 786.4,798.1 787.0,797.6 787.6,797.0 788.2,797.7 788.8,798.7 789.4,799.1 790.0,799.1 790.6,799.1 791.2,798.6 791.8,798.2 792.4,799.3 793.0,799.3 793.6,798.8 794.2,798.5 794.8,798.6 795.4,798.8 796.0,799.1 796.6,800.3 797.2,800.3 797.8,799.9 798.4,799.7 799.0,799.9 799.6,799.7 800.2,799.4 800.8,800.6 801.4,800.3 802.0,799.4 802.6,799.3 803.0,800.0 803.2,800.4 803.8,799.5 804.4,799.1 805.0,799.9 805.6,800.6 806.2,800.5 806.8,800.2 807.4,800.2 808.0,800.6 808.6,800.5 809.2,799.4 809.8,798.4 810.4,798.4 811.0,799.1 811.6,799.0 812.2,798.4 812.8,798.9 813.4,798.9 814.0,798.3 814.6,798.9 815.2,799.4 815.8,799.3 816.4,799.3 817.0,799.4 817.6,799.0 818.2,798.3 818.8,797.6 819.4,797.5 820.0,797.8 820.6,798.1 821.2,798.4 821.8,798.4 822.4,798.4 823.0,798.1 823.6,797.7 824.2,797.4 824.8,797.2 825.4,797.1 826.0,796.8 826.6,796.8 827.2,796.9 827.8,796.1 828.4,795.1 829.0,795.4 829.6,796.0 830.2,796.1 830.8,796.6 831.4,796.4 832.0,795.5 832.6,795.7 833.0,796.5 833.2,796.9 833.8,796.1 834.4,795.4 835.0,795.5 835.6,796.1 836.2,796.4 836.8,795.8 837.4,795.7 838.0,795.5 838.6,795.1 839.2,795.1 839.8,795.0 840.4,794.8 841.0,795.0 841.6,795.1 842.2,795.4 842.8,795.6 843.4,794.9 844.0,793.8 844.6,793.2 845.2,793.7 845.8,794.0 846.4,793.7 847.0,793.6 847.6,794.0 848.2,793.8 848.8,793.7 849.4,793.8 850.0,793.5 850.6,793.2 851.2,793.3 851.8,793.6 852.4,793.2 853.0,792.3 853.6,792.3 854.2,793.1 854.8,792.8 855.4,792.9 856.0,793.2 856.6,792.9 857.2,792.8 857.8,792.9 858.4,793.1 859.0,793.0 859.6,792.2 860.2,792.3 860.8,792.4 861.4,792.0 862.0,792.7 862.6,792.7 863.2,792.7 863.8,792.8 864.4,792.6 865.0,792.3 865.6,792.6 866.2,793.3 866.8,792.7 867.4,792.0 868.0,792.2 868.0,792.3 868.6,792.3 869.2,792.8 869.8,793.0 870.4,793.3 871.0,793.3 871.6,792.5 872.2,792.0 872.8,792.7 873.4,793.7 874.0,793.5 874.6,792.6 875.2,793.3 875.8,793.7 876.4,793.6 877.0,794.1 877.6,793.7 878.2,793.3 878.8,793.6 879.4,794.0 880.0,794.6 880.6,794.4 881.2,794.5 881.8,794.2 882.4,794.3 883.0,795.2 883.6,795.3 884.2,794.8 884.8,794.9 885.4,795.3 886.0,796.0 886.6,796.4 887.2,796.0 887.8,796.3 888.4,796.7 889.0,796.9 889.6,797.1 890.2,796.9 890.8,797.3 891.4,797.6 892.0,797.6 892.6,798.1 893.2,798.3 893.8,798.4 894.4,797.6 895.0,797.4 895.6,798.0 896.2,799.0 896.8,799.1 897.4,798.7 898.0,799.4 898.0,799.2 898.6,799.0 899.2,799.4 899.8,799.2 900.4,799.3 901.0,800.0 901.6,800.4 902.2,800.1 902.8,800.9 903.4,801.3 904.0,800.3 904.6,800.0 905.2,799.9 905.8,800.6 906.4,800.1 907.0,799.9 907.6,800.5 908.2,800.7 908.8,801.3 909.4,801.0 910.0,800.8 910.6,801.9 911.2,802.2 911.8,801.9 912.4,802.1 913.0,802.5 913.6,803.2 914.2,803.4 914.8,803.3 915.4,803.3 916.0,802.8 916.6,803.2 917.2,803.5 917.8,802.9 918.4,803.1 919.0,803.2 919.6,803.6 920.2,804.3 920.8,804.7 921.4,804.6 922.0,804.0 922.6,804.1 923.2,804.0 923.8,803.9 924.4,805.1 925.0,805.2 925.6,804.5 926.2,805.0 926.8,805.4 927.4,805.5 928.0,805.2 928.6,804.6 929.2,805.5 929.8,805.7 930.4,805.3 931.0,805.6 931.6,805.1 932.2,805.0 932.8,805.5 933.4,805.8 934.0,805.9 934.6,805.0 935.2,805.4 935.8,805.3 936.4,804.9 937.0,805.6 937.6,805.5 938.0,805.8 938.2,806.3 938.8,806.0 939.4,805.4 940.0,806.0 940.6,806.4 941.2,806.4 941.8,806.3 942.4,806.0 943.0,805.7 943.6,805.6 944.2,806.1 944.8,806.8 945.4,807.2 946.0,806.3 946.6,805.5 947.2,805.9 947.8,805.9 948.4,805.5 949.0,806.3 949.6,807.3 950.2,806.4 950.8,805.8 951.4,805.8 952.0,805.5 952.6,805.4 953.2,806.1 953.8,806.8 954.4,806.9 955.0,806.7 955.6,806.1 956.2,804.5 956.8,805.3 957.4,806.5 958.0,806.0 958.0,806.5 958.6,806.2 959.2,805.3 959.8,805.3 960.4,806.1 961.0,806.7 961.6,805.4 962.2,805.5 962.8,806.1 963.4,805.5 964.0,805.1 964.6,805.6 965.2,805.9 965.8,805.6 966.4,805.0 967.0,804.7 967.6,805.0 968.2,804.6 968.8,804.2 969.4,804.0 970.0,803.8 970.5,803.8 970.6,804.2 971.2,804.7 971.8,804.1 972.4,803.6 973.0,803.9 973.6,803.7 974.2,803.9 974.8,804.4 975.4,804.4 976.0,804.7 976.6,805.1 977.2,805.3 977.8,805.1 978.4,805.1 979.0,804.8 979.6,804.3 980.2,804.8 980.8,805.4 981.4,806.0 982.0,805.8 982.6,804.7 983.2,805.0 983.8,805.3 984.4,804.9 985.0,805.6 985.6,806.7 986.2,806.4 986.8,805.6 987.4,805.6 988.0,805.9 988.6,805.4 989.2,805.8 989.8,806.5 990.4,806.8 991.0,806.6 991.6,806.2 992.2,806.4 992.8,805.9 993.4,807.0 994.0,806.9 994.6,805.7 995.2,806.5 995.8,806.4 996.4,806.8 997.0,807.3 997.6,807.3 998.0,807.6 998.2,807.6 998.8,807.7 999.4,807.8 1000.0,808.1 1000.6,808.6 1001.2,808.6 1001.8,808.3 1002.4,808.5 1003.0,809.0 1003.6,809.3 1004.2,809.3 1004.8,809.2 1005.4,810.3 1006.0,810.7 1006.6,810.9 1007.2,811.9 1007.8,811.9 1008.4,812.0 1009.0,812.1 1009.6,812.4 1010.2,812.7 1010.8,813.1 1011.4,813.7 1012.0,813.3 1012.6,813.1 1013.2,814.2 1013.8,814.7 1014.4,813.9 1015.0,813.7 1015.5,814.2 1015.6,814.2 1016.2,813.4 1016.8,813.7 1017.4,814.0 1018.0,814.6 1018.6,815.5 1019.2,814.7 1019.8,814.8 1020.4,814.9 1021.0,814.6 1021.6,814.6 1022.2,815.0 1022.8,814.8 1023.4,815.0 1024.0,815.7 1024.6,815.9 1025.2,816.0 1025.8,816.2 1026.4,816.0 1027.0,816.1 1027.6,815.9 1028.2,815.7 1028.8,816.2 1029.4,816.8 1030.0,816.2 1030.6,815.0 1031.2,816.0 1031.8,817.0 1032.4,816.9 1033.0,816.9 1033.6,816.3 1034.2,815.8 1034.8,815.4 1035.4,816.2 1036.0,817.0 1036.6,816.6 1037.2,815.9 1037.8,815.6 1038.4,815.8 1039.0,816.0 1039.6,815.2 1040.2,815.4 1040.8,817.1 1041.4,816.8 1042.0,816.3 1042.6,816.6 1043.2,816.3 1043.8,816.4 1044.4,816.5 1045.0,816.2 1045.6,816.6 1046.2,816.8 1046.8,816.8 1047.4,816.5 1048.0,816.8 1048.6,816.8 1049.2,816.8 1049.8,817.1 1050.4,816.4 1051.0,816.6 1051.6,816.7 1052.2,816.5 1052.8,816.9 1053.4,817.4 1054.0,817.8 1054.6,817.7 1055.2,817.4 1055.8,816.7 1056.4,816.8 1057.0,817.2 1057.6,817.3 1058.0,817.3 1058.2,817.1 1058.8,817.7 1059.4,817.4 1060.0,817.2 1060.6,818.2 1061.2,817.9 1061.8,817.2 1062.4,817.4 1063.0,817.7 1063.6,817.9 1064.2,818.6 1064.8,818.5 1065.4,818.2 1066.0,818.1 1066.6,817.8 1067.2,818.1 1067.8,818.1 1068.4,818.5 1069.0,818.6 1069.6,818.2 1070.2,818.0 1070.8,817.9 1071.4,818.0 1072.0,818.0 1072.6,817.8 1073.2,818.0 1073.8,819.3 1074.4,818.7 1075.0,818.7 1075.6,819.4 1076.2,819.1 1076.8,818.8 1077.4,819.3 1078.0,819.3 1078.6,818.6 1079.2,819.6 1079.8,819.2 1080.4,817.8 1081.0,818.3 1081.6,818.9 1082.2,818.6 1082.8,818.6 1083.4,818.5 1084.0,819.4 1084.6,820.4 1085.2,819.4 1085.8,819.0 1086.4,819.3 1087.0,819.8 1087.6,819.7 1088.2,820.0 1088.8,820.3 1089.4,819.5 1090.0,819.5 1090.6,819.6 1091.2,820.5 1091.8,820.8 1092.4,819.8 1093.0,819.9 1093.6,820.6 1094.2,820.3 1094.8,819.1 1095.4,820.0 1096.0,820.9 1096.6,820.3 1097.2,820.1 1097.8,820.7 1098.4,819.8 1099.0,819.9 1099.6,820.8 1100.2,820.7 1100.8,820.8 1101.4,821.7 1102.0,821.5 1102.6,820.8 1103.2,820.1 1103.8,819.8 1104.4,821.1 1105.0,820.5 1105.6,819.5 1106.2,820.2 1106.8,821.3 1107.4,821.8 1108.0,821.2 1108.0,820.9 1108.6,820.6 1109.2,821.2 1109.8,821.6 1110.4,821.4 1111.0,821.6 1111.6,821.0 1112.2,821.8 1112.8,821.6 1113.4,821.5 1114.0,821.7 1114.6,821.0 1115.2,820.8 1115.8,821.6 1116.4,821.9 1117.0,821.4 1117.6,820.9 1118.2,821.5 1118.8,822.5 1119.4,822.2 1120.0,822.2 1120.6,820.9 1121.2,820.4 1121.8,821.7 1122.4,822.0 1123.0,821.8 1123.6,821.9 1124.2,821.8 1124.8,821.5 1125.4,821.4 1126.0,821.7 1126.6,821.9 1127.2,821.7 1127.8,822.6 1128.4,822.8 1129.0,822.3 1129.6,821.7 1130.2,821.6 1130.8,822.6 1131.4,823.0 1132.0,822.7 1132.6,822.5 1133.2,822.5 1133.8,822.7 1134.4,822.6 1135.0,821.6 1135.6,822.5 1136.2,823.9 1136.8,823.1 1137.4,823.3 1138.0,822.9 1138.6,822.8 1139.2,823.4 1139.8,823.3 1140.4,823.2 1141.0,822.9 1141.6,823.3 1142.2,823.7 1142.8,823.7 1143.4,823.5 1144.0,823.1 1144.6,823.6 1145.2,824.0 1145.8,823.3 1146.4,823.1 1147.0,822.8 1147.6,822.7 1148.2,822.6 1148.8,823.0 1149.4,823.5 1150.0,823.6 1150.6,823.2 1151.2,823.0 1151.8,823.2 1152.4,823.8 1153.0,823.5 1153.6,822.6 1154.2,823.7 1154.8,824.4 1155.4,823.4 1156.0,823.8 1156.6,825.0 1157.2,824.9 1157.8,823.6 1158.0,823.3 1158.4,823.7 1159.0,823.6 1159.6,823.4 1160.2,824.2 1160.8,824.6 1161.4,824.1 1162.0,824.7 1162.6,824.8 1163.2,824.7 1163.8,824.4 1164.4,824.3 1165.0,824.4 1165.6,823.5 1166.2,824.0 1166.8,824.7 1167.4,824.1 1168.0,824.2 1168.6,823.9 1169.2,823.6 1169.8,823.5 1170.4,824.1 1171.0,825.2 1171.6,825.1 1172.2,824.2 1172.8,824.6 1173.4,824.9 1174.0,823.8 1174.0,823.2 1174.6,823.8 1175.2,825.0 1175.8,824.7 1176.4,823.8 1177.0,823.8 1177.6,823.6 1178.2,823.3 1178.8,823.5 1179.4,823.3 1180.0,823.3 1180.6,822.9 1181.2,822.5 1181.8,822.7 1182.4,821.8 1183.0,821.0 1183.6,820.4 1184.2,820.4 1184.8,819.3 1185.4,817.9 1186.0,816.9 1186.6,814.2 1187.2,811.3 1187.8,806.2 1188.4,799.6 1189.0,792.0 1189.6,780.5 1190.2,765.9 1190.8,747.4 1191.4,726.2 1192.0,705.6 1192.6,690.5 1193.0,687.2 1193.2,688.0 1193.8,699.6 1194.4,719.2 1195.0,740.8 1195.6,760.1 1196.2,775.7 1196.8,788.4 1197.4,798.1 1198.0,805.2 1198.6,809.8 1199.2,813.9 1199.8,817.1 1200.4,818.3 1201.0,819.6 1201.6,819.7 1202.2,820.9 1202.8,822.1 1203.4,822.6 1204.0,823.1 1204.6,823.7 1205.2,824.4 1205.8,824.3 1206.4,825.3 1207.0,826.0 1207.6,825.2 1208.0,824.7 1208.2,825.4 1208.8,825.7 1209.4,826.1 1210.0,826.1 1210.6,825.3 1211.2,825.3 1211.8,826.1 1212.4,826.7 1213.0,827.2 1213.6,827.6 1214.2,827.5 1214.8,827.0 1215.4,827.3 1216.0,827.4 1216.6,827.0 1217.2,826.9 1217.8,827.5 1218.4,828.3 1219.0,828.4 1219.6,827.3 1220.2,827.3 1220.5,827.5 1220.8,827.0 1221.4,827.6 1222.0,827.3 1222.6,826.6 1223.2,826.9 1223.8,828.0 1224.4,828.7 1225.0,827.7 1225.6,827.4 1226.2,827.8 1226.8,827.8 1227.4,827.5 1228.0,828.0 1228.6,828.1 1229.2,827.8 1229.8,827.4 1230.4,827.2 1231.0,827.9 1231.6,828.2 1232.2,827.2 1232.8,826.9 1233.4,828.1 1234.0,827.8 1234.6,828.0 1235.2,828.9 1235.8,828.7 1236.4,828.2 1237.0,828.4 1237.6,828.2 1238.2,828.2 1238.8,828.2 1239.4,827.5 1240.0,826.8 1240.0,827.5 1240.6,828.1 1241.2,827.4 1241.8,827.2 1242.4,828.0 1243.0,827.3 1243.6,826.4 1244.2,827.3 1244.8,827.9 1245.4,827.2 1246.0,826.5 1246.6,827.0 1247.2,827.8 1247.8,827.8 1248.4,826.3 1249.0,826.7 1249.6,827.5 1250.2,826.9 1250.8,826.5 1251.4,827.1 1252.0,827.6 1252.6,827.2 1253.2,827.2 1253.8,827.2 1254.4,827.4 1255.0,827.8 1255.6,827.1 1256.2,826.3 1256.8,826.5 1257.4,827.2 1258.0,827.2 1258.6,825.9 1259.2,826.0 1259.8,826.2 1260.4,825.9 1261.0,826.0 1261.6,825.7 1262.2,825.1 1262.8,826.3 1263.4,827.0 1264.0,825.8 1264.6,826.1 1265.2,826.9 1265.8,825.9 1266.4,825.2 1267.0,825.9 1267.0,825.8"/>
<path stroke="#062fc0" d="M688.0,725.1 688.6,725.3 689.2,725.0 689.8,725.0 690.4,724.6 691.0,725.8 691.6,726.7 692.2,726.1 692.8,726.6 693.4,727.3 694.0,727.7 694.6,727.6 695.2,727.3 695.8,727.9 696.4,728.7 697.0,729.0 697.6,729.8 698.2,730.6 698.8,731.6 699.4,732.0 700.0,731.4 700.5,732.1 700.6,733.2 701.2,732.9 701.8,733.4 702.4,734.8 703.0,735.2 703.6,736.0 704.2,737.2 704.8,738.3 705.4,739.5 706.0,740.3 706.6,740.9 707.2,742.9 707.8,743.6 708.4,743.7 709.0,745.0 709.6,746.5 710.2,748.2 710.8,748.5 711.4,749.6 712.0,750.8 712.6,752.3 713.0,753.2 713.2,753.0 713.8,754.2 714.4,755.1 715.0,756.0 715.6,757.0 716.2,758.4 716.8,759.5 717.4,761.0 718.0,762.0 718.6,762.7 719.2,763.6 719.8,764.9 720.4,766.4 721.0,767.9 721.6,769.5 722.2,770.1 722.8,771.1 723.4,773.0 724.0,773.9 724.6,774.0 725.2,776.1 725.8,777.7 726.4,778.0 727.0,779.7 727.6,780.1 728.0,779.8 728.2,779.7 728.8,780.6 729.4,782.2 730.0,782.5 730.6,782.8 731.2,783.8 731.8,784.8 732.4,786.1 733.0,786.8 733.6,786.8 734.2,787.5 734.8,787.7 735.4,788.2 736.0,788.9 736.6,789.8 737.2,790.1 737.8,790.3 738.4,791.8 739.0,792.1 739.6,792.1 740.2,793.8 740.8,794.5 741.4,794.8 742.0,796.0 742.6,796.4 743.2,796.5 743.8,797.9 744.4,798.8 745.0,799.4 745.5,800.0 745.6,800.1 746.2,800.8 746.8,801.1 747.4,801.8 748.0,802.8 748.6,803.8 749.2,804.7 749.8,806.0 750.4,806.8 751.0,807.9 751.6,808.7 752.2,809.5 752.8,811.1 753.4,812.4 754.0,812.1 754.6,812.9 755.2,813.8 755.8,814.5 756.4,816.0 757.0,816.4 757.6,816.7 758.2,817.7 758.8,818.9 759.4,819.0 760.0,819.1 760.5,820.1 760.6,820.8 761.2,821.3 761.8,821.2 762.4,821.5 763.0,822.5 763.6,823.3 764.2,823.8 764.8,824.0 765.4,823.8 766.0,824.3 766.6,825.2 767.2,825.4 767.8,825.8 768.4,826.1 769.0,826.4 769.6,826.9 770.2,828.0 770.8,829.0 771.4,828.7 772.0,828.1 772.6,827.9 773.2,828.9 773.8,829.6 774.4,829.8 775.0,829.5 775.6,829.1 776.2,829.9 776.8,830.6 777.4,830.2 778.0,830.2 778.0,831.0 778.6,831.3 779.2,831.4 779.8,832.3 780.4,832.4 781.0,831.9 781.6,831.7 782.2,832.3 782.8,832.1 783.4,831.4 784.0,832.1 784.6,832.1 785.2,832.6 785.8,833.0 786.4,833.0 787.0,833.2 787.6,833.1 788.2,833.3 788.8,832.8 789.4,832.5 790.0,833.1 790.6,834.5 791.2,835.1 791.8,834.6 792.4,834.0 793.0,834.2 793.6,835.1 794.2,835.1 794.8,835.7 795.4,835.0 796.0,833.7 796.6,834.2 797.2,834.3 797.8,834.4 798.4,835.0 799.0,835.1 799.6,834.9 800.2,835.1 800.8,835.4 801.4,835.0 802.0,834.5 802.6,835.2 803.0,835.3 803.2,834.6 803.8,834.8 804.4,835.0 805.0,834.9 805.6,835.0 806.2,835.1 806.8,835.5 807.4,834.9 808.0,834.0 808.6,834.9 809.2,835.0 809.8,833.8 810.4,833.3 811.0,833.8 811.6,834.2 812.2,833.5 812.8,833.3 813.4,833.5 814.0,834.1 814.6,834.5 815.2,834.0 815.8,833.4 816.4,833.2 817.0,833.9 817.6,833.9 818.2,833.9 818.8,833.8 819.4,833.6 820.0,833.6 820.6,833.0 821.2,833.2 821.8,833.4 822.4,833.1 823.0,832.6 823.6,832.2 824.2,832.4 824.8,832.3 825.4,832.2 826.0,832.4 826.6,832.5 827.2,832.5 827.8,831.6 828.4,831.7 829.0,831.7 829.6,831.0 830.2,831.2 830.8,831.3 831.4,831.6 832.0,832.5 832.6,832.2 833.0,831.7 833.2,831.4 833.8,830.9 834.4,830.7 835.0,830.3 835.6,830.9 836.2,831.1 836.8,830.7 837.4,830.1 838.0,830.5 838.6,830.6 839.2,829.6 839.8,829.6 840.4,829.9 841.0,830.1 841.6,830.3 842.2,829.5 842.8,828.7 843.4,829.5 844.0,830.4 844.6,829.5 845.2,828.5 845.8,828.0 846.4,827.6 847.0,827.7 847.6,827.9 848.2,827.6 848.8,827.9 849.4,828.2 850.0,827.6 850.6,827.9 851.2,827.8 851.8,826.9 852.4,826.9 853.0,828.0 853.6,828.0 854.2,827.3 854.8,827.0 855.4,826.7 856.0,826.8 856.6,825.9 857.2,825.1 857.8,825.8 858.4,826.1 859.0,826.8 859.6,827.8 860.2,827.4 860.8,826.6 861.4,826.5 862.0,826.9 862.6,826.3 863.2,825.5 863.8,825.9 864.4,826.2 865.0,825.4 865.5,825.4 865.6,825.6 866.2,825.7 866.8,826.6 867.4,825.5 868.0,825.4 868.6,826.4 869.2,826.0 869.8,826.4 870.4,827.5 871.0,827.4 871.6,826.3 872.2,825.7 872.8,825.8 873.4,826.1 874.0,827.0 874.6,827.7 875.2,827.4 875.8,827.7 876.4,827.9 877.0,827.8 877.6,827.6 878.2,827.5 878.8,828.0 879.4,828.0 880.0,828.8 880.6,829.5 881.2,828.8 881.8,829.3 882.4,829.3 883.0,829.6 883.6,830.2 884.2,830.7 884.8,830.6 885.4,830.0 886.0,830.1 886.6,830.0 887.2,830.6 887.8,830.8 888.4,831.0 889.0,831.4 889.6,831.9 890.2,831.3 890.8,831.3 891.4,832.4 892.0,832.5 892.6,832.4 893.2,833.2 893.8,833.5 894.4,833.1 895.0,833.3 895.6,833.2 896.2,833.5 896.8,834.0 897.4,833.7 898.0,833.4 898.0,833.3 898.6,833.7 899.2,834.1 899.8,833.8 900.4,834.5 901.0,834.9 901.6,834.9 902.2,835.0 902.8,835.1 903.4,835.4 904.0,834.9 904.6,835.1 905.2,835.5 905.8,835.5 906.4,835.9 907.0,835.9 907.6,835.5 908.2,836.3 908.8,837.6 909.4,837.1 910.0,837.0 910.6,837.4 911.2,836.9 911.8,836.6 912.4,836.8 913.0,837.1 913.6,837.3 914.2,837.5 914.8,837.3 915.4,837.8 916.0,838.0 916.6,837.4 917.2,838.3 917.8,839.1 918.4,839.4 919.0,839.3 919.6,838.7 920.2,839.2 920.8,839.5 921.4,839.1 922.0,838.9 922.6,839.3 923.2,838.8 923.8,838.9 924.4,839.2 925.0,839.4 925.6,839.7 926.2,839.7 926.8,841.3 927.4,841.0 928.0,839.7 928.6,840.6 929.2,841.0 929.8,839.9 930.4,840.6 931.0,840.0 931.6,839.1 932.2,839.7 932.8,840.0 933.4,839.8 934.0,840.4 934.6,841.6 935.2,841.3 935.8,840.8 936.4,840.2 937.0,840.6 937.6,840.9 938.0,841.0 938.2,841.6 938.8,841.4 939.4,840.2 940.0,839.8 940.6,841.1 941.2,841.5 941.8,841.5 942.4,840.6 943.0,840.0 943.6,840.7 944.2,840.1 944.8,839.9 945.4,840.9 946.0,841.3 946.6,840.7 947.2,840.6 947.8,841.2 948.4,840.6 949.0,840.2 949.6,841.0 950.2,840.6 950.8,840.6 951.4,840.8 952.0,840.7 952.6,841.0 953.2,840.7 953.8,840.2 954.4,839.8 955.0,840.0 955.6,840.2 956.2,840.7 956.8,840.5 957.4,840.1 958.0,840.8 958.0,840.7 958.6,840.3 959.2,840.7 959.8,840.6 960.4,840.1 961.0,840.3 961.6,840.1 962.2,839.3 962.8,838.8 963.4,839.1 964.0,840.1 964.6,840.5 965.2,840.7 965.8,840.6 966.4,839.7 967.0,838.8 967.6,838.8 968.2,839.3 968.8,839.2 969.4,839.6 970.0,839.6 970.6,839.4 971.2,840.0 971.8,839.1 972.4,838.7 973.0,839.8 973.0,840.3 973.6,839.9 974.2,839.1 974.8,838.8 975.4,839.3 976.0,840.1 976.6,840.2 977.2,839.8 977.8,839.7 978.4,840.1 979.0,839.4 979.6,838.8 980.2,839.5 980.8,840.4 981.4,840.8 982.0,840.1 982.6,839.8 983.2,839.9 983.8,839.8 984.4,840.2 985.0,840.3 985.6,840.1 986.2,839.9 986.8,839.6 987.4,840.1 988.0,840.8 988.6,841.2 989.2,840.9 989.8,840.5 990.4,841.4 991.0,841.9 991.6,841.9 992.2,841.6 992.8,841.1 993.4,841.0 994.0,841.7 994.6,841.8 995.2,840.9 995.8,841.2 996.4,842.4 997.0,842.8 997.6,842.5 998.0,842.6 998.2,842.5 998.8,842.6 999.4,842.2 1000.0,843.0 1000.6,843.6 1001.2,843.6 1001.8,843.3 1002.4,843.2 1003.0,843.5 1003.6,843.0 1004.2,843.8 1004.8,844.9 1005.4,845.5 1006.0,845.8 1006.6,845.4 1007.2,845.4 1007.8,845.5 1008.4,845.2 1009.0,845.7 1009.6,846.1 1010.2,846.5 1010.8,846.0 1011.4,846.3 1012.0,847.0 1012.6,847.2 1013.2,848.0 1013.8,847.2 1014.4,846.9 1015.0,847.6 1015.5,847.4 1015.6,846.9 1016.2,847.2 1016.8,847.8 1017.4,848.4 1018.0,848.0 1018.6,848.0 1019.2,848.8 1019.8,848.9 1020.4,848.2 1021.0,847.6 1021.6,848.0 1022.2,848.7 1022.8,848.8 1023.4,848.5 1024.0,848.0 1024.6,848.7 1025.2,849.0 1025.8,849.3 1026.4,849.0 1027.0,848.2 1027.6,848.5 1028.2,849.3 1028.8,850.1 1029.4,849.3 1030.0,848.1 1030.6,848.8 1031.2,849.6 1031.8,848.8 1032.4,848.3 1033.0,848.9 1033.6,849.4 1034.2,849.3 1034.8,849.6 1035.4,849.5 1036.0,849.3 1036.6,849.7 1037.2,849.8 1037.8,849.5 1038.4,849.8 1039.0,849.2 1039.6,849.5 1040.2,850.4 1040.8,849.7 1041.4,849.5 1042.0,850.3 1042.6,850.6 1043.2,849.5 1043.8,849.0 1044.4,849.7 1045.0,850.8 1045.6,851.1 1046.2,850.4 1046.8,850.3 1047.4,850.5 1048.0,850.2 1048.6,850.4 1049.2,849.7 1049.8,850.0 1050.4,851.0 1051.0,850.5 1051.6,850.0 1052.2,849.8 1052.8,850.3 1053.4,850.8 1054.0,850.8 1054.6,851.4 1055.2,850.6 1055.8,849.7 1056.4,850.3 1057.0,851.0 1057.6,851.2 1058.0,850.6 1058.2,850.7 1058.8,851.3 1059.4,851.9 1060.0,851.9 1060.6,851.1 1061.2,850.9 1061.8,850.8 1062.4,851.2 1063.0,851.9 1063.6,851.7 1064.2,851.4 1064.8,852.0 1065.4,852.1 1066.0,851.9 1066.6,851.5 1067.2,851.1 1067.8,850.8 1068.4,850.5 1069.0,851.5 1069.6,852.5 1070.2,852.3 1070.8,851.5 1071.4,851.7 1072.0,852.6 1072.6,852.5 1073.2,852.5 1073.8,852.6 1074.4,851.8 1075.0,851.6 1075.6,852.0 1076.2,853.2 1076.8,853.6 1077.4,852.7 1078.0,852.6 1078.6,852.8 1079.2,852.6 1079.8,852.5 1080.4,852.7 1081.0,853.0 1081.6,853.7 1082.2,854.0 1082.8,853.4 1083.4,853.1 1084.0,853.0 1084.6,852.4 1085.2,852.8 1085.8,853.5 1086.4,853.5 1087.0,853.6 1087.6,854.0 1088.2,854.0 1088.8,853.7 1089.4,852.9 1090.0,853.7 1090.6,854.1 1091.2,853.7 1091.8,854.1 1092.4,853.8 1093.0,854.3 1093.6,854.8 1094.2,854.1 1094.8,853.8 1095.4,853.5 1096.0,853.2 1096.6,853.8 1097.2,854.2 1097.8,853.8 1098.4,854.2 1099.0,854.3 1099.6,854.4 1100.2,854.4 1100.8,854.0 1101.4,854.6 1102.0,854.6 1102.6,854.5 1103.2,855.0 1103.8,854.8 1104.4,854.1 1105.0,853.7 1105.6,853.9 1106.2,854.0 1106.8,854.7 1107.4,854.9 1108.0,854.2 1108.0,854.4 1108.6,854.8 1109.2,854.4 1109.8,854.8 1110.4,855.7 1111.0,855.3 1111.6,855.4 1112.2,855.1 1112.8,854.6 1113.4,855.2 1114.0,855.5 1114.6,856.0 1115.2,855.9 1115.8,855.2 1116.4,855.4 1117.0,855.9 1117.6,856.0 1118.2,855.9 1118.8,855.9 1119.4,855.8 1120.0,856.0 1120.6,856.0 1121.2,855.6 1121.8,856.4 1122.4,856.4 1123.0,856.0 1123.6,856.5 1124.2,856.5 1124.8,856.6 1125.4,856.6 1126.0,856.7 1126.6,856.4 1127.2,855.6 1127.8,856.2 1128.4,857.3 1129.0,857.9 1129.6,857.1 1130.2,856.6 1130.8,856.7 1131.4,856.0 1132.0,856.5 1132.6,857.2 1133.2,857.5 1133.8,857.8 1134.4,857.2 1135.0,856.8 1135.6,857.0 1136.2,857.5 1136.8,857.4 1137.4,858.4 1138.0,858.7 1138.6,857.3 1139.2,857.3 1139.8,858.1 1140.4,858.3 1141.0,857.8 1141.6,857.5 1142.2,857.4 1142.8,857.2 1143.4,857.4 1144.0,857.9 1144.6,858.0 1145.2,858.5 1145.8,858.9 1146.4,858.2 1147.0,858.1 1147.6,858.8 1148.2,858.3 1148.8,857.9 1149.4,859.5 1150.0,859.8 1150.6,858.6 1151.2,858.3 1151.8,858.6 1152.4,859.6 1153.0,859.5 1153.6,858.4 1154.2,858.5 1154.8,858.2 1155.4,857.1 1156.0,857.6 1156.6,859.0 1157.2,859.0 1157.8,859.0 1158.0,859.5 1158.4,859.6 1159.0,858.7 1159.6,859.0 1160.2,860.0 1160.8,859.8 1161.4,859.5 1162.0,859.2 1162.6,859.1 1163.2,859.2 1163.8,859.8 1164.4,859.5 1165.0,859.5 1165.6,859.5 1166.2,859.5 1166.8,859.6 1167.4,859.7 1168.0,860.5 1168.6,860.2 1169.2,859.4 1169.8,859.1 1170.4,859.5 1171.0,859.5 1171.6,859.6 1172.2,859.8 1172.8,859.8 1173.4,859.4 1174.0,858.7 1174.6,858.5 1175.2,858.9 1175.5,858.9 1175.8,858.9 1176.4,858.3 1177.0,857.7 1177.6,858.2 1178.2,857.6 1178.8,857.3 1179.4,857.2 1180.0,857.1 1180.6,857.3 1181.2,857.2 1181.8,856.6 1182.4,855.3 1183.0,854.9 1183.6,854.8 1184.2,854.3 1184.8,853.3 1185.4,852.5 1186.0,850.6 1186.6,847.9 1187.2,844.6 1187.8,840.1 1188.4,834.6 1189.0,826.5 1189.6,813.8 1190.2,799.2 1190.8,781.1 1191.4,759.8 1192.0,739.6 1192.6,724.5 1193.0,721.2 1193.2,722.1 1193.8,733.6 1194.4,753.1 1195.0,774.5 1195.6,794.1 1196.2,809.3 1196.8,822.0 1197.4,832.5 1198.0,839.6 1198.6,844.4 1199.2,848.5 1199.8,851.2 1200.4,852.8 1201.0,854.2 1201.6,855.6 1202.2,856.3 1202.8,856.9 1203.4,858.3 1204.0,858.3 1204.6,858.5 1205.2,858.6 1205.8,858.7 1206.4,859.8 1207.0,859.6 1207.6,858.9 1208.0,859.4 1208.2,860.0 1208.8,860.2 1209.4,860.6 1210.0,860.9 1210.6,861.5 1211.2,861.5 1211.8,860.5 1212.4,860.6 1213.0,861.4 1213.6,861.3 1214.2,861.8 1214.8,861.9 1215.4,861.2 1216.0,861.3 1216.6,860.9 1217.2,861.1 1217.8,861.8 1218.4,862.1 1219.0,862.3 1219.6,861.9 1220.2,861.7 1220.8,861.1 1221.4,861.0 1222.0,861.6 1222.6,862.0 1223.2,862.1 1223.8,862.0 1224.4,862.1 1225.0,861.6 1225.6,861.5 1226.2,861.6 1226.8,861.0 1227.4,860.5 1228.0,861.3 1228.6,862.4 1229.2,862.6 1229.8,861.7 1230.4,861.8 1230.5,862.7 1231.0,861.8 1231.6,861.4 1232.2,862.3 1232.8,862.2 1233.4,862.0 1234.0,861.7 1234.6,861.1 1235.2,861.7 1235.8,861.7 1236.4,861.4 1237.0,861.5 1237.6,861.1 1238.2,861.6 1238.8,861.9 1239.4,861.2 1240.0,861.1 1240.6,861.2 1241.2,861.0 1241.8,861.3 1242.4,861.5 1243.0,861.4 1243.6,861.2 1244.2,860.5 1244.8,860.5 1245.4,860.9 1246.0,860.8 1246.6,861.0 1247.2,861.3 1247.8,861.3 1248.4,861.3 1249.0,861.2 1249.6,861.0 1250.0,860.2 1250.2,860.8 1250.8,861.0 1251.4,861.2 1252.0,861.1 1252.6,860.8 1253.2,860.8 1253.8,859.9 1254.4,860.7 1255.0,861.2 1255.6,861.0 1256.2,861.1 1256.8,860.1 1257.4,860.2 1258.0,861.2 1258.6,861.5 1259.2,861.6 1259.8,861.3 1260.4,860.6 1261.0,860.4 1261.6,860.0 1262.2,860.2 1262.8,860.9 1263.4,860.7 1264.0,860.1 1264.6,860.1 1265.2,860.2 1265.8,860.4 1266.4,860.3 1267.0,859.6 1267.0,859.7"/>
</g>
<g fill="none" stroke="#000" stroke-width="5">
<rect x="59" y="3" width="593" height="883"/>
<rect x="681" y="3" width="593" height="883"/>
</g>
<rect x="56.5" y="0" width="598" height="1.4" fill="#8a8a8a"/>
<rect x="678.5" y="0" width="598" height="1.4" fill="#8a8a8a"/>
<g fill="#000">
<rect x="69.59" y="3.0" width="4.6" height="11.5"/>
<rect x="69.59" y="875.4" width="4.6" height="10.6"/>
<rect x="81.77" y="3.0" width="4.6" height="11.5"/>
<rect x="81.77" y="875.4" width="4.6" height="10.6"/>
<rect x="93.95" y="3.0" width="4.6" height="20.5"/>
<rect x="93.95" y="866.2" width="4.6" height="19.8"/>
<rect x="106.13" y="3.0" width="4.6" height="11.5"/>
<rect x="106.13" y="875.4" width="4.6" height="10.6"/>
<rect x="118.31" y="3.0" width="4.6" height="11.5"/>
<rect x="118.31" y="875.4" width="4.6" height="10.6"/>
<rect x="130.48" y="3.0" width="4.6" height="11.5"/>
<rect x="130.48" y="875.4" width="4.6" height="10.6"/>
<rect x="142.66" y="3.0" width="4.6" height="11.5"/>
<rect x="142.66" y="875.4" width="4.6" height="10.6"/>
<rect x="154.84" y="3.0" width="4.6" height="16"/>
<rect x="154.84" y="871.0" width="4.6" height="15"/>
<rect x="167.02" y="3.0" width="4.6" height="11.5"/>
<rect x="167.02" y="875.4" width="4.6" height="10.6"/>
<rect x="179.20" y="3.0" width="4.6" height="11.5"/>
<rect x="179.20" y="875.4" width="4.6" height="10.6"/>
<rect x="191.37" y="3.0" width="4.6" height="11.5"/>
<rect x="191.37" y="875.4" width="4.6" height="10.6"/>
<rect x="203.55" y="3.0" width="4.6" height="11.5"/>
<rect x="203.55" y="875.4" width="4.6" height="10.6"/>
<rect x="215.73" y="3.0" width="4.6" height="20.5"/>
<rect x="215.73" y="866.2" width="4.6" height="19.8"/>
<rect x="227.91" y="3.0" width="4.6" height="11.5"/>
<rect x="227.91" y="875.4" width="4.6" height="10.6"/>
<rect x="240.09" y="3.0" width="4.6" height="11.5"/>
<rect x="240.09" y="875.4" width="4.6" height="10.6"/>
<rect x="252.26" y="3.0" width="4.6" height="11.5"/>
<rect x="252.26" y="875.4" width="4.6" height="10.6"/>
<rect x="264.44" y="3.0" width="4.6" height="11.5"/>
<rect x="264.44" y="875.4" width="4.6" height="10.6"/>
<rect x="276.62" y="3.0" width="4.6" height="16"/>
<rect x="276.62" y="871.0" width="4.6" height="15"/>
<rect x="288.80" y="3.0" width="4.6" height="11.5"/>
<rect x="288.80" y="875.4" width="4.6" height="10.6"/>
<rect x="300.98" y="3.0" width="4.6" height="11.5"/>
<rect x="300.98" y="875.4" width="4.6" height="10.6"/>
<rect x="313.15" y="3.0" width="4.6" height="11.5"/>
<rect x="313.15" y="875.4" width="4.6" height="10.6"/>
<rect x="325.33" y="3.0" width="4.6" height="11.5"/>
<rect x="325.33" y="875.4" width="4.6" height="10.6"/>
<rect x="337.51" y="3.0" width="4.6" height="20.5"/>
<rect x="337.51" y="866.2" width="4.6" height="19.8"/>
<rect x="349.69" y="3.0" width="4.6" height="11.5"/>
<rect x="349.69" y="875.4" width="4.6" height="10.6"/>
<rect x="361.87" y="3.0" width="4.6" height="11.5"/>
<rect x="361.87" y="875.4" width="4.6" height="10.6"/>
<rect x="374.04" y="3.0" width="4.6" height="11.5"/>
<rect x="374.04" y="875.4" width="4.6" height="10.6"/>
<rect x="386.22" y="3.0" width="4.6" height="11.5"/>
<rect x="386.22" y="875.4" width="4.6" height="10.6"/>
<rect x="398.40" y="3.0" width="4.6" height="16"/>
<rect x="398.40" y="871.0" width="4.6" height="15"/>
<rect x="410.58" y="3.0" width="4.6" height="11.5"/>
<rect x="410.58" y="875.4" width="4.6" height="10.6"/>
<rect x="422.76" y="3.0" width="4.6" height="11.5"/>
<rect x="422.76" y="875.4" width="4.6" height="10.6"/>
<rect x="434.93" y="3.0" width="4.6" height="11.5"/>
<rect x="434.93" y="875.4" width="4.6" height="10.6"/>
<rect x="447.11" y="3.0" width="4.6" height="11.5"/>
<rect x="447.11" y="875.4" width="4.6" height="10.6"/>
<rect x="459.29" y="3.0" width="4.6" height="20.5"/>
<rect x="459.29" y="866.2" width="4.6" height="19.8"/>
<rect x="471.47" y="3.0" width="4.6" height="11.5"/>
<rect x="471.47" y="875.4" width="4.6" height="10.6"/>
<rect x="483.65" y="3.0" width="4.6" height="11.5"/>
<rect x="483.65" y="875.4" width="4.6" height="10.6"/>
<rect x="495.82" y="3.0" width="4.6" height="11.5"/>
<rect x="495.82" y="875.4" width="4.6" height="10.6"/>
<rect x="508.00" y="3.0" width="4.6" height="11.5"/>
<rect x="508.00" y="875.4" width="4.6" height="10.6"/>
<rect x="520.18" y="3.0" width="4.6" height="16"/>
<rect x="520.18" y="871.0" width="4.6" height="15"/>
<rect x="532.36" y="3.0" width="4.6" height="11.5"/>
<rect x="532.36" y="875.4" width="4.6" height="10.6"/>
<rect x="544.54" y="3.0" width="4.6" height="11.5"/>
<rect x="544.54" y="875.4" width="4.6" height="10.6"/>
<rect x="556.71" y="3.0" width="4.6" height="11.5"/>
<rect x="556.71" y="875.4" width="4.6" height="10.6"/>
<rect x="568.89" y="3.0" width="4.6" height="11.5"/>
<rect x="568.89" y="875.4" width="4.6" height="10.6"/>
<rect x="581.07" y="3.0" width="4.6" height="20.5"/>
<rect x="581.07" y="866.2" width="4.6" height="19.8"/>
<rect x="593.25" y="3.0" width="4.6" height="11.5"/>
<rect x="593.25" y="875.4" width="4.6" height="10.6"/>
<rect x="605.43" y="3.0" width="4.6" height="11.5"/>
<rect x="605.43" y="875.4" width="4.6" height="10.6"/>
<rect x="617.60" y="3.0" width="4.6" height="11.5"/>
<rect x="617.60" y="875.4" width="4.6" height="10.6"/>
<rect x="629.78" y="3.0" width="4.6" height="11.5"/>
<rect x="629.78" y="875.4" width="4.6" height="10.6"/>
<rect x="641.96" y="3.0" width="4.6" height="16"/>
<rect x="641.96" y="871.0" width="4.6" height="15"/>
<rect x="691.84" y="3.0" width="4.6" height="11.5"/>
<rect x="691.84" y="875.4" width="4.6" height="10.6"/>
<rect x="704.02" y="3.0" width="4.6" height="11.5"/>
<rect x="704.02" y="875.4" width="4.6" height="10.6"/>
<rect x="716.20" y="3.0" width="4.6" height="20.5"/>
<rect x="716.20" y="866.2" width="4.6" height="19.8"/>
<rect x="728.38" y="3.0" width="4.6" height="11.5"/>
<rect x="728.38" y="875.4" width="4.6" height="10.6"/>
<rect x="740.56" y="3.0" width="4.6" height="11.5"/>
<rect x="740.56" y="875.4" width="4.6" height="10.6"/>
<rect x="752.73" y="3.0" width="4.6" height="11.5"/>
<rect x="752.73" y="875.4" width="4.6" height="10.6"/>
<rect x="764.91" y="3.0" width="4.6" height="11.5"/>
<rect x="764.91" y="875.4" width="4.6" height="10.6"/>
<rect x="777.09" y="3.0" width="4.6" height="16"/>
<rect x="777.09" y="871.0" width="4.6" height="15"/>
<rect x="789.27" y="3.0" width="4.6" height="11.5"/>
<rect x="789.27" y="875.4" width="4.6" height="10.6"/>
<rect x="801.45" y="3.0" width="4.6" height="11.5"/>
<rect x="801.45" y="875.4" width="4.6" height="10.6"/>
<rect x="813.62" y="3.0" width="4.6" height="11.5"/>
<rect x="813.62" y="875.4" width="4.6" height="10.6"/>
<rect x="825.80" y="3.0" width="4.6" height="11.5"/>
<rect x="825.80" y="875.4" width="4.6" height="10.6"/>
<rect x="837.98" y="3.0" width="4.6" height="20.5"/>
<rect x="837.98" y="866.2" width="4.6" height="19.8"/>
<rect x="850.16" y="3.0" width="4.6" height="11.5"/>
<rect x="850.16" y="875.4" width="4.6" height="10.6"/>
<rect x="862.34" y="3.0" width="4.6" height="11.5"/>
<rect x="862.34" y="875.4" width="4.6" height="10.6"/>
<rect x="874.51" y="3.0" width="4.6" height="11.5"/>
<rect x="874.51" y="875.4" width="4.6" height="10.6"/>
<rect x="886.69" y="3.0" width="4.6" height="11.5"/>
<rect x="886.69" y="875.4" width="4.6" height="10.6"/>
<rect x="898.87" y="3.0" width="4.6" height="16"/>
<rect x="898.87" y="871.0" width="4.6" height="15"/>
<rect x="911.05" y="3.0" width="4.6" height="11.5"/>
<rect x="911.05" y="875.4" width="4.6" height="10.6"/>
<rect x="923.23" y="3.0" width="4.6" height="11.5"/>
<rect x="923.23" y="875.4" width="4.6" height="10.6"/>
<rect x="935.40" y="3.0" width="4.6" height="11.5"/>
<rect x="935.40" y="875.4" width="4.6" height="10.6"/>
<rect x="947.58" y="3.0" width="4.6" height="11.5"/>
<rect x="947.58" y="875.4" width="4.6" height="10.6"/>
<rect x="959.76" y="3.0" width="4.6" height="20.5"/>
<rect x="959.76" y="866.2" width="4.6" height="19.8"/>
<rect x="971.94" y="3.0" width="4.6" height="11.5"/>
<rect x="971.94" y="875.4" width="4.6" height="10.6"/>
<rect x="984.12" y="3.0" width="4.6" height="11.5"/>
<rect x="984.12" y="875.4" width="4.6" height="10.6"/>
<rect x="996.29" y="3.0" width="4.6" height="11.5"/>
<rect x="996.29" y="875.4" width="4.6" height="10.6"/>
<rect x="1008.47" y="3.0" width="4.6" height="11.5"/>
<rect x="1008.47" y="875.4" width="4.6" height="10.6"/>
<rect x="1020.65" y="3.0" width="4.6" height="16"/>
<rect x="1020.65" y="871.0" width="4.6" height="15"/>
<rect x="1032.83" y="3.0" width="4.6" height="11.5"/>
<rect x="1032.83" y="875.4" width="4.6" height="10.6"/>
<rect x="1045.01" y="3.0" width="4.6" height="11.5"/>
<rect x="1045.01" y="875.4" width="4.6" height="10.6"/>
<rect x="1057.18" y="3.0" width="4.6" height="11.5"/>
<rect x="1057.18" y="875.4" width="4.6" height="10.6"/>
<rect x="1069.36" y="3.0" width="4.6" height="11.5"/>
<rect x="1069.36" y="875.4" width="4.6" height="10.6"/>
<rect x="1081.54" y="3.0" width="4.6" height="20.5"/>
<rect x="1081.54" y="866.2" width="4.6" height="19.8"/>
<rect x="1093.72" y="3.0" width="4.6" height="11.5"/>
<rect x="1093.72" y="875.4" width="4.6" height="10.6"/>
<rect x="1105.90" y="3.0" width="4.6" height="11.5"/>
<rect x="1105.90" y="875.4" width="4.6" height="10.6"/>
<rect x="1118.07" y="3.0" width="4.6" height="11.5"/>
<rect x="1118.07" y="875.4" width="4.6" height="10.6"/>
<rect x="1130.25" y="3.0" width="4.6" height="11.5"/>
<rect x="1130.25" y="875.4" width="4.6" height="10.6"/>
<rect x="1142.43" y="3.0" width="4.6" height="16"/>
<rect x="1142.43" y="871.0" width="4.6" height="15"/>
<rect x="1154.61" y="3.0" width="4.6" height="11.5"/>
<rect x="1154.61" y="875.4" width="4.6" height="10.6"/>
<rect x="1166.79" y="3.0" width="4.6" height="11.5"/>
<rect x="1166.79" y="875.4" width="4.6" height="10.6"/>
<rect x="1178.96" y="3.0" width="4.6" height="11.5"/>
<rect x="1178.96" y="875.4" width="4.6" height="10.6"/>
<rect x="1191.14" y="3.0" width="4.6" height="11.5"/>
<rect x="1191.14" y="875.4" width="4.6" height="10.6"/>
<rect x="1203.32" y="3.0" width="4.6" height="20.5"/>
<rect x="1203.32" y="866.2" width="4.6" height="19.8"/>
<rect x="1215.50" y="3.0" width="4.6" height="11.5"/>
<rect x="1215.50" y="875.4" width="4.6" height="10.6"/>
<rect x="1227.68" y="3.0" width="4.6" height="11.5"/>
<rect x="1227.68" y="875.4" width="4.6" height="10.6"/>
<rect x="1239.85" y="3.0" width="4.6" height="11.5"/>
<rect x="1239.85" y="875.4" width="4.6" height="10.6"/>
<rect x="1252.03" y="3.0" width="4.6" height="11.5"/>
<rect x="1252.03" y="875.4" width="4.6" height="10.6"/>
<rect x="1264.21" y="3.0" width="4.6" height="16"/>
<rect x="1264.21" y="871.0" width="4.6" height="15"/>
</g>
<g font-family="'DejaVu Sans', 'Liberation Sans', sans-serif" font-size="27.3px" text-anchor="middle" fill="#111" stroke="#111" stroke-width="0.25">
<text x="96.2" y="927">200</text>
<text x="218.0" y="927">400</text>
<text x="339.8" y="927">600</text>
<text x="461.6" y="927">800</text>
<text x="584.4" y="927">1000</text>
<text x="718.5" y="927">200</text>
<text x="840.3" y="927">400</text>
<text x="962.1" y="927">600</text>
<text x="1083.8" y="927">800</text>
<text x="1206.6" y="927">1000</text>
</g>
<text x="311" y="972.6" font-family="'Liberation Sans', sans-serif" font-size="27px" fill="#111" stroke="#111" stroke-width="0.4"><tspan font-style="italic">h</tspan><tspan font-style="italic" font-family="'Liberation Serif', serif">ν</tspan><tspan dx="6">/</tspan><tspan dx="0.5" font-size="25px">cm</tspan><tspan dy="-17.3" dx="0.3" font-size="16px" stroke-width="0.9">-1</tspan></text>
<text x="933.3" y="972.6" font-family="'Liberation Sans', sans-serif" font-size="27px" fill="#111" stroke="#111" stroke-width="0.4"><tspan font-style="italic">h</tspan><tspan font-style="italic" font-family="'Liberation Serif', serif">ν</tspan><tspan dx="6">/</tspan><tspan dx="0.5" font-size="25px">cm</tspan><tspan dy="-17.3" dx="0.3" font-size="16px" stroke-width="0.9">-1</tspan></text>
<g font-family="'DejaVu Sans', sans-serif" font-size="24.7px" fill="#111" stroke="#111" stroke-width="0.3">
<text transform="translate(20,583.6) rotate(-90)" textLength="120.0" lengthAdjust="spacingAndGlyphs">Intensity</text>
<text transform="translate(20,458.9) rotate(-90)" textLength="61.0" lengthAdjust="spacingAndGlyphs">(arb.</text>
<text transform="translate(20,389.8) rotate(-90)" textLength="71.8" lengthAdjust="spacingAndGlyphs">units)</text>
</g>
<g font-family="'Liberation Sans', sans-serif" font-size="25.6px" fill="#111" stroke="#111" stroke-width="0.35">
<text x="332" y="44.6" font-size="25.8px"><tspan font-family="'Liberation Serif', serif" font-size="27px">α</tspan>-FeOOH,&#160; <tspan font-family="'Liberation Serif', serif">λ</tspan>=647 nm</text>
<rect x="335" y="65.0" width="47.5" height="5.2" fill="#fb0006" stroke="none"/>
<text x="393.6" y="75.5">0 s</text>
<rect x="335" y="94.3" width="47.5" height="5.2" fill="#ff5604" stroke="none"/>
<text x="393.6" y="104.8">900 s</text>
<rect x="335" y="123.7" width="47.5" height="5.2" fill="#ff9a08" stroke="none"/>
<text x="393.6" y="134.2">1800 s</text>
<rect x="335" y="153.1" width="47.5" height="5.2" fill="#66fb08" stroke="none"/>
<text x="393.6" y="163.6">2700 s</text>
<rect x="335" y="182.4" width="47.5" height="5.2" fill="#04b808" stroke="none"/>
<text x="393.6" y="192.9">3600 s</text>
<rect x="335" y="211.8" width="47.5" height="5.2" fill="#1478c8" stroke="none"/>
<text x="393.6" y="222.2">4500 s</text>
<rect x="335" y="241.1" width="47.5" height="5.2" fill="#0000c0" stroke="none"/>
<text x="393.6" y="251.6">5400 s</text>
<rect x="335" y="270.4" width="47.5" height="5.2" fill="#5858f6" stroke="none"/>
<text x="393.6" y="280.9">6300 s</text>
<rect x="335" y="299.8" width="47.5" height="5.2" fill="#420094" stroke="none"/>
<text x="393.6" y="310.3">7200 s</text>
<text x="897" y="45" font-size="25.5px"><tspan font-family="'Liberation Serif', serif">γ</tspan>-FeOOH, <tspan font-family="'Liberation Serif', serif">λ</tspan>=647 nm</text>
<rect x="900.8" y="65.6" width="48" height="5.0" fill="#000000" stroke="none"/>
<text x="959.3" y="75.6">OCP before polarization</text>
<rect x="900.8" y="94.9" width="48" height="5.0" fill="#f8060a" stroke="none"/>
<text x="959.3" y="104.9">0 s</text>
<rect x="900.8" y="124.3" width="48" height="5.0" fill="#fb5a08" stroke="none"/>
<text x="959.3" y="134.3">360 s</text>
<rect x="900.8" y="153.6" width="48" height="5.0" fill="#ff9c08" stroke="none"/>
<text x="959.3" y="163.6">720 s</text>
<rect x="900.8" y="182.9" width="48" height="5.0" fill="#c8b80c" stroke="none"/>
<text x="959.3" y="192.9">1080 s</text>
<rect x="900.8" y="212.2" width="48" height="5.0" fill="#66bb14" stroke="none"/>
<text x="959.3" y="222.2">1440 s</text>
<rect x="900.8" y="241.6" width="48" height="5.0" fill="#12bb5a" stroke="none"/>
<text x="959.3" y="251.6">1800 s</text>
<rect x="900.8" y="270.9" width="48" height="5.0" fill="#128a88" stroke="none"/>
<text x="959.3" y="280.9">2160 s</text>
<rect x="900.8" y="300.2" width="48" height="5.0" fill="#10648f" stroke="none"/>
<text x="959.3" y="310.2">2520 s</text>
<rect x="900.8" y="329.6" width="48" height="5.0" fill="#062fc0" stroke="none"/>
<text x="959.3" y="339.6">2880 s</text>
</g>
</svg>
</body></html>
